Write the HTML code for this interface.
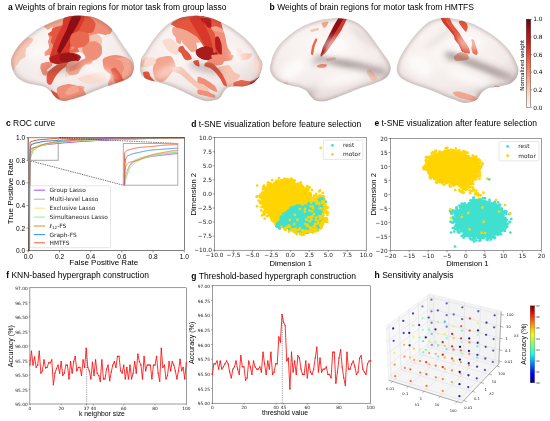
<!DOCTYPE html>
<html lang="en"><head><meta charset="utf-8"><title>Figure</title>
<style>
html,body{margin:0;padding:0;background:#fff;}
svg{display:block;}
.ls{font-family:"Liberation Sans", Arial, sans-serif;}
.dv{font-family:"DejaVu Sans", "Liberation Sans", sans-serif;}
</style></head><body>
<svg width="550" height="421" viewBox="0 0 550 421">
<rect width="550" height="421" fill="#fff"/>
<text class="ls" x="7.9" y="10.2" font-size="8.5"><tspan font-weight="bold">a</tspan> Weights of brain regions for motor task from group lasso</text>
<text class="ls" x="269.6" y="10.2" font-size="8.5"><tspan font-weight="bold">b</tspan> Weights of brain regions for motor task from HMTFS</text>
<defs>
<filter id="bl1" x="-20%" y="-20%" width="140%" height="140%"><feGaussianBlur stdDeviation="0.55"/></filter>
<filter id="bl2" x="-30%" y="-30%" width="160%" height="160%"><feGaussianBlur stdDeviation="3"/></filter>
<filter id="bl3" x="-30%" y="-30%" width="160%" height="160%"><feGaussianBlur stdDeviation="1.6"/></filter>
<radialGradient id="bg1" cx="0.45" cy="0.35" r="0.75"><stop offset="0" stop-color="#fdf9f7"/><stop offset="0.6" stop-color="#f4ecea"/><stop offset="1" stop-color="#d9cfcd"/></radialGradient>
<linearGradient id="cbar" x1="0" y1="0" x2="0" y2="1"><stop offset="0" stop-color="#67000d"/><stop offset="0.125" stop-color="#a50f15"/><stop offset="0.25" stop-color="#cb181d"/><stop offset="0.375" stop-color="#ef3b2c"/><stop offset="0.5" stop-color="#fb6a4a"/><stop offset="0.625" stop-color="#fc9272"/><stop offset="0.75" stop-color="#fcbba1"/><stop offset="0.875" stop-color="#fee0d2"/><stop offset="1" stop-color="#fff5f0"/></linearGradient>
</defs>
<clipPath id="bc1"><path d="M11.2,59.5C11.7,56.7 13.0,54.2 14.8,51.2C16.6,48.2 19.1,44.7 21.9,41.7C24.7,38.7 28.0,36.0 31.4,33.4C34.8,30.8 38.3,28.4 42.1,26.3C45.9,24.2 50.0,22.4 54.0,20.9C58.0,19.4 62.4,18.2 65.9,17.3C69.4,16.4 72.2,15.8 75.0,15.6C77.8,15.3 79.8,15.6 82.8,15.8C85.8,16.1 89.9,16.2 93.1,17.1C96.3,18.0 99.2,19.3 102.0,20.9C104.8,22.5 107.3,24.4 109.7,26.7C112.1,28.9 114.1,31.4 116.2,34.4C118.3,37.4 120.5,41.4 122.6,44.6C124.7,47.8 127.3,51.0 129.0,53.6C130.7,56.2 132.1,57.9 133.0,60.0C133.9,62.1 134.3,64.5 134.3,66.5C134.3,68.5 133.7,70.3 133.0,72.0C132.3,73.7 131.8,75.4 130.3,76.8C128.8,78.2 126.4,79.4 123.8,80.6C121.2,81.8 118.5,82.5 114.9,83.8C111.3,85.1 106.3,86.7 102.0,88.3C97.7,89.9 93.5,91.9 89.2,93.5C84.9,95.1 80.4,96.8 76.4,98.0C72.4,99.2 68.0,100.6 65.1,100.9C62.1,101.2 60.5,100.7 58.7,99.9C56.9,99.1 55.6,97.5 54.1,96.0C52.6,94.5 51.3,92.4 49.7,90.9C48.1,89.4 47.0,88.0 44.6,87.0C42.2,86.0 38.8,85.8 35.6,85.1C32.4,84.4 28.6,84.0 25.4,82.6C22.2,81.2 18.6,79.3 16.4,76.8C14.1,74.3 12.8,70.7 11.9,67.8C11.0,64.9 10.7,62.3 11.2,59.5Z"/></clipPath>
<clipPath id="bc2"><path d="M140.6,62.7C140.8,60.6 140.6,59.5 141.2,58.0C141.8,56.5 142.8,56.1 144.4,53.6C146.0,51.1 148.5,46.7 150.8,43.3C153.2,39.9 155.9,36.1 158.5,33.1C161.1,30.1 163.4,27.6 166.2,25.4C169.0,23.1 172.0,21.1 175.2,19.6C178.4,18.1 181.8,17.1 185.4,16.4C189.0,15.7 193.2,15.3 197.0,15.4C200.8,15.5 204.7,16.3 208.3,17.2C211.9,18.1 215.1,19.4 218.5,20.9C221.9,22.4 225.4,24.0 228.8,26.0C232.2,28.0 235.8,30.6 239.0,33.1C242.2,35.6 245.4,38.2 248.0,40.8C250.6,43.4 252.5,45.7 254.4,48.5C256.3,51.3 258.2,55.0 259.5,57.4C260.8,59.8 262.1,60.5 262.4,62.7C262.7,64.9 262.2,67.9 261.5,70.4C260.8,73.0 259.9,75.8 258.3,78.0C256.7,80.2 254.4,82.4 251.8,83.8C249.2,85.2 245.9,86.0 242.9,86.4C239.9,86.8 236.5,86.2 233.9,86.4C231.3,86.6 229.2,86.7 227.5,87.7C225.8,88.7 224.9,90.5 223.6,92.2C222.3,93.9 221.5,96.5 219.8,97.9C218.1,99.3 216.0,100.0 213.4,100.5C210.8,101.0 208.0,101.7 204.4,100.9C200.8,100.2 195.6,97.7 191.8,96.0C188.0,94.3 185.0,92.5 181.6,90.9C178.2,89.3 174.7,87.7 171.3,86.4C167.9,85.1 164.5,84.2 161.1,83.2C157.7,82.2 153.8,81.7 150.8,80.6C147.8,79.5 144.9,78.5 143.1,76.8C141.3,75.1 140.3,72.8 139.9,70.4C139.5,68.1 140.4,64.8 140.6,62.7Z"/></clipPath>
<clipPath id="bc3"><path d="M271.2,61.4C271.9,58.8 272.4,56.4 273.8,53.6C275.2,50.8 277.3,47.4 279.5,44.6C281.7,41.8 284.2,39.5 287.2,36.9C290.2,34.3 293.9,31.4 297.5,29.2C301.1,27.0 304.9,25.1 309.0,23.5C313.1,21.9 317.8,20.5 321.8,19.6C325.8,18.7 330.2,18.5 333.0,18.2C335.8,17.9 335.7,17.7 338.3,17.9C340.9,18.1 345.3,18.4 348.5,19.2C351.7,20.0 354.7,21.1 357.5,22.8C360.3,24.5 362.8,26.9 365.2,29.2C367.6,31.5 369.5,34.1 371.6,36.9C373.7,39.7 375.9,42.9 378.0,45.9C380.1,48.9 382.5,52.1 384.4,54.9C386.3,57.7 388.4,60.3 389.5,62.7C390.6,65.1 391.0,67.0 390.8,69.1C390.6,71.2 389.8,73.6 388.3,75.5C386.8,77.4 384.6,79.1 381.8,80.6C379.0,82.1 375.2,83.2 371.6,84.5C368.0,85.8 364.1,86.8 360.0,88.3C355.9,89.8 351.2,91.9 347.2,93.5C343.1,95.1 339.5,96.7 335.7,98.0C331.9,99.3 327.8,101.0 324.4,101.4C321.0,101.8 317.8,101.4 315.4,100.5C313.0,99.6 311.8,97.6 310.3,96.0C308.8,94.4 308.2,92.3 306.5,90.9C304.8,89.5 302.6,88.6 300.0,87.7C297.4,86.8 294.3,86.7 291.1,85.8C287.9,84.9 283.8,84.1 280.8,82.6C277.8,81.1 274.9,79.0 273.1,76.8C271.3,74.5 270.2,71.7 269.9,69.1C269.6,66.5 270.5,64.0 271.2,61.4Z"/></clipPath>
<clipPath id="bc4"><path d="M397.9,62.7C398.4,60.8 398.6,59.8 399.8,57.4C401.0,55.0 403.1,51.5 405.0,48.5C406.9,45.5 409.3,42.3 411.4,39.5C413.5,36.7 415.7,34.1 417.8,31.8C419.9,29.4 421.9,27.3 424.2,25.4C426.5,23.5 429.1,21.6 431.9,20.3C434.7,19.1 437.7,18.3 440.9,17.9C444.1,17.5 446.9,17.3 451.1,17.9C455.3,18.5 462.1,20.2 466.3,21.5C470.5,22.8 473.1,23.8 476.5,25.4C479.9,27.0 483.4,29.1 486.8,31.2C490.2,33.3 493.8,35.7 497.0,38.2C500.2,40.8 503.4,43.7 506.0,46.5C508.6,49.3 510.6,52.0 512.4,54.9C514.2,57.8 515.9,61.4 516.9,64.0C517.9,66.6 518.7,68.1 518.6,70.4C518.5,72.8 517.5,76.0 516.3,78.1C515.0,80.2 513.2,81.9 511.1,83.2C509.0,84.5 506.2,85.2 503.4,85.8C500.6,86.4 497.3,86.5 494.5,87.0C491.7,87.5 488.9,88.0 486.8,89.0C484.7,90.0 483.1,91.2 481.6,92.8C480.1,94.4 479.5,97.0 477.8,98.6C476.1,100.2 474.0,101.5 471.4,102.2C468.8,102.9 465.1,103.1 462.4,102.7C459.7,102.3 457.7,100.9 455.0,99.9C452.3,98.9 449.2,98.0 446.0,96.7C442.8,95.4 439.1,93.6 435.7,92.2C432.3,90.8 428.9,89.5 425.5,88.3C422.1,87.1 418.6,86.4 415.2,85.1C411.8,83.8 407.8,82.2 405.0,80.6C402.2,79.0 400.0,77.4 398.6,75.5C397.2,73.6 396.7,71.2 396.6,69.1C396.5,67.0 397.4,64.7 397.9,62.7Z"/></clipPath>
<g clip-path="url(#bc1)">
<path d="M11.2,59.5C11.7,56.7 13.0,54.2 14.8,51.2C16.6,48.2 19.1,44.7 21.9,41.7C24.7,38.7 28.0,36.0 31.4,33.4C34.8,30.8 38.3,28.4 42.1,26.3C45.9,24.2 50.0,22.4 54.0,20.9C58.0,19.4 62.4,18.2 65.9,17.3C69.4,16.4 72.2,15.8 75.0,15.6C77.8,15.3 79.8,15.6 82.8,15.8C85.8,16.1 89.9,16.2 93.1,17.1C96.3,18.0 99.2,19.3 102.0,20.9C104.8,22.5 107.3,24.4 109.7,26.7C112.1,28.9 114.1,31.4 116.2,34.4C118.3,37.4 120.5,41.4 122.6,44.6C124.7,47.8 127.3,51.0 129.0,53.6C130.7,56.2 132.1,57.9 133.0,60.0C133.9,62.1 134.3,64.5 134.3,66.5C134.3,68.5 133.7,70.3 133.0,72.0C132.3,73.7 131.8,75.4 130.3,76.8C128.8,78.2 126.4,79.4 123.8,80.6C121.2,81.8 118.5,82.5 114.9,83.8C111.3,85.1 106.3,86.7 102.0,88.3C97.7,89.9 93.5,91.9 89.2,93.5C84.9,95.1 80.4,96.8 76.4,98.0C72.4,99.2 68.0,100.6 65.1,100.9C62.1,101.2 60.5,100.7 58.7,99.9C56.9,99.1 55.6,97.5 54.1,96.0C52.6,94.5 51.3,92.4 49.7,90.9C48.1,89.4 47.0,88.0 44.6,87.0C42.2,86.0 38.8,85.8 35.6,85.1C32.4,84.4 28.6,84.0 25.4,82.6C22.2,81.2 18.6,79.3 16.4,76.8C14.1,74.3 12.8,70.7 11.9,67.8C11.0,64.9 10.7,62.3 11.2,59.5Z" fill="url(#bg1)"/>
<g filter="url(#bl1)"><path d="M11.8,59.5C11.6,58.6 14.2,53.2 15.3,51.2C16.5,49.2 20.4,43.9 21.9,42.3C23.3,40.7 26.5,38.0 27.8,37.5C29.1,37.1 32.8,38.1 33.2,38.7C33.6,39.4 32.2,42.0 31.4,42.9C30.6,43.8 27.3,45.4 26.6,46.5C25.9,47.6 26.1,51.3 25.4,52.4C24.8,53.5 21.7,55.1 20.7,56.0C19.7,56.8 18.2,59.1 17.1,59.5C16.1,60.0 12.0,60.5 11.8,59.5Z" fill="#f6c4b2"/><path d="M43.9,26.3C44.8,25.5 51.7,22.4 54.0,21.5C56.3,20.6 62.1,18.6 63.5,18.5C64.9,18.5 66.0,20.2 65.9,20.9C65.7,21.7 63.3,24.4 62.3,25.1C61.3,25.8 58.8,26.6 57.5,26.9C56.3,27.1 52.7,27.1 51.6,27.4C50.5,27.8 48.7,29.8 48.0,29.8C47.3,29.9 46.1,28.5 45.7,28.0C45.2,27.6 42.9,27.0 43.9,26.3Z" fill="#f2a690"/><path d="M48.0,34.0C48.3,33.8 51.3,36.1 51.6,37.0C51.9,37.9 50.1,40.6 50.4,41.7C50.7,42.8 53.4,45.2 54.0,46.5C54.5,47.7 55.3,51.2 55.2,52.4C55.0,53.7 53.5,56.9 52.8,57.2C52.1,57.4 50.0,54.9 49.2,54.8C48.4,54.6 46.2,56.2 45.7,56.0C45.1,55.7 44.0,53.4 44.5,52.4C44.9,51.4 48.8,48.9 49.2,47.7C49.6,46.4 48.0,42.8 48.0,41.7C48.0,40.6 49.2,39.0 49.2,38.1C49.2,37.2 47.8,34.1 48.0,34.0Z" fill="#ef8f78"/><path d="M52.8,28.0C54.0,27.3 60.6,26.0 62.3,25.1C64.0,24.2 65.9,21.2 67.0,20.3C68.2,19.5 71.1,17.4 71.8,17.9C72.5,18.5 73.3,23.3 73.0,25.1C72.7,26.9 70.2,31.6 69.4,33.4C68.6,35.2 66.5,38.9 65.9,40.5C65.2,42.2 64.0,46.1 63.5,47.7C62.9,49.2 62.1,53.0 61.1,53.6C60.1,54.1 56.0,53.2 55.2,52.4C54.3,51.6 54.5,47.7 54.0,46.5C53.4,45.2 50.7,42.8 50.4,41.7C50.1,40.6 51.9,37.9 51.6,37.0C51.3,36.1 48.0,34.7 48.0,34.0C48.0,33.3 51.0,31.7 51.6,31.0C52.1,30.3 51.5,28.7 52.8,28.0Z" fill="#e4573e"/><path d="M67.0,19.1C68.0,17.8 73.8,16.2 76.5,15.8C79.3,15.4 89.7,14.2 90.8,15.3C91.9,16.4 87.3,22.7 86.1,25.1C84.8,27.5 81.5,33.3 80.1,35.8C78.7,38.3 75.7,44.1 74.2,46.5C72.6,48.8 68.7,54.4 67.0,56.0C65.4,57.5 61.0,59.8 59.9,59.5C58.8,59.3 57.4,55.3 57.5,53.6C57.7,51.9 60.3,47.4 61.1,45.3C61.9,43.2 63.8,37.8 64.7,35.8C65.5,33.7 68.0,29.4 68.2,27.4C68.5,25.5 66.1,20.5 67.0,19.1Z" fill="#d8382a"/><path d="M78.3,15.8C79.8,14.8 86.3,14.4 86.6,15.6C87.0,16.7 82.5,23.4 81.3,25.7C80.1,27.9 77.7,32.7 76.5,34.6C75.4,36.5 72.9,40.0 71.8,41.7C70.7,43.4 68.2,47.2 67.0,48.8C65.9,50.4 63.0,55.0 62.3,55.4C61.6,55.8 60.7,53.9 61.1,52.4C61.5,50.9 64.8,45.1 65.9,42.9C66.9,40.7 69.0,35.6 70.0,33.4C71.0,31.2 73.2,25.9 74.2,23.9C75.1,21.8 76.9,16.8 78.3,15.8Z" fill="#8e0e12"/><path d="M87.9,16.4C89.4,15.5 94.0,17.2 95.6,17.7C97.3,18.2 100.6,19.9 102.1,20.9C103.5,21.9 107.9,24.9 108.5,26.0C109.1,27.1 108.1,30.1 107.2,30.5C106.3,30.9 102.3,29.4 100.8,29.2C99.3,29.1 95.7,28.9 94.4,29.2C93.0,29.6 90.6,31.7 89.2,32.4C87.9,33.2 84.2,34.8 82.8,35.6C81.5,36.5 78.7,38.6 77.7,39.5C76.6,40.4 74.7,42.4 73.8,43.3C72.9,44.2 69.7,48.1 70.0,47.2C70.3,46.3 74.9,38.2 76.4,35.6C77.9,33.1 81.5,27.6 82.8,25.4C84.2,23.1 86.5,17.3 87.9,16.4Z" fill="#ef8f78"/><path d="M87.9,16.4C89.4,15.5 94.1,17.1 95.6,17.7C97.1,18.3 100.2,20.3 100.8,21.5C101.3,22.7 100.9,27.1 100.1,27.9C99.4,28.8 95.6,28.7 94.4,29.2C93.1,29.8 90.6,31.7 89.2,32.4C87.9,33.2 84.2,34.8 82.8,35.6C81.5,36.5 78.7,38.6 77.7,39.5C76.6,40.4 74.7,42.4 73.8,43.3C72.9,44.2 69.7,48.1 70.0,47.2C70.3,46.3 74.9,38.2 76.4,35.6C77.9,33.1 81.5,27.6 82.8,25.4C84.2,23.1 86.5,17.3 87.9,16.4Z" fill="#e4573e"/><path d="M82.8,39.5C83.6,38.0 87.5,35.9 89.2,35.6C91.0,35.4 96.2,36.4 97.6,37.6C98.9,38.8 100.7,44.2 100.8,45.9C100.8,47.6 99.0,50.8 98.2,52.3C97.5,53.8 95.3,57.4 94.4,58.7C93.5,60.1 91.7,63.4 90.5,64.0C89.3,64.6 84.7,65.0 84.1,64.0C83.5,62.9 85.5,56.7 85.4,54.9C85.2,53.1 83.1,50.3 82.8,48.5C82.5,46.7 82.1,41.0 82.8,39.5Z" fill="#f2a690"/><path d="M70.0,47.2C70.9,45.7 76.2,40.4 77.7,39.5C79.2,38.6 82.2,38.4 82.8,39.5C83.4,40.5 83.4,47.0 82.8,48.5C82.2,50.0 79.2,51.9 77.7,52.3C76.2,52.8 70.9,52.9 70.0,52.3C69.1,51.7 69.1,48.7 70.0,47.2Z" fill="#e9694f"/><path d="M105.9,60.0C106.8,58.8 111.8,55.0 113.6,54.9C115.4,54.7 120.1,57.5 121.3,58.7C122.5,59.9 125.6,64.4 123.8,65.1C122.1,65.9 108.0,65.7 105.9,65.1C103.8,64.5 105.0,61.2 105.9,60.0Z" fill="#f6c4b2"/><path d="M10.6,49.9C11.4,47.9 17.0,49.7 17.7,51.2C18.4,52.6 16.9,60.4 16.4,62.7C16.0,64.9 14.4,69.8 13.8,70.4C13.2,71.0 11.7,70.2 11.3,67.8C10.9,65.4 9.9,51.8 10.6,49.9Z" fill="#f6c4b2"/><path d="M40.8,67.2C41.5,66.1 47.1,63.0 48.5,62.7C49.8,62.4 52.6,63.7 52.3,64.6C52.0,65.5 47.1,69.6 45.9,70.4C44.7,71.2 42.6,72.0 42.1,71.7C41.5,71.3 40.0,68.2 40.8,67.2Z" fill="#ef8f78"/><path d="M47.2,78.1C47.7,76.7 51.0,73.2 52.3,71.7C53.7,70.2 57.1,66.3 58.7,65.3C60.4,64.2 65.1,62.8 66.4,62.7C67.8,62.5 70.7,63.2 70.3,64.0C69.8,64.7 64.2,67.8 62.6,69.1C60.9,70.4 57.5,73.7 56.2,75.5C54.8,77.3 52.0,83.5 51.0,84.5C50.1,85.5 48.3,84.6 47.8,83.8C47.4,83.1 46.7,79.5 47.2,78.1Z" fill="#e4573e"/><path d="M51.0,89.6C50.9,88.9 53.7,91.7 54.9,92.2C56.1,92.6 59.5,93.8 61.3,93.5C63.1,93.2 68.3,90.5 70.3,89.6C72.2,88.7 76.3,86.1 77.9,85.8C79.6,85.5 83.9,86.3 84.4,87.1C84.8,87.8 83.0,91.1 81.8,92.2C80.6,93.2 75.9,95.3 74.1,96.0C72.3,96.8 67.9,98.1 66.4,98.6C64.9,99.0 62.5,99.9 61.3,99.9C60.1,99.8 57.4,99.1 56.2,97.9C55.0,96.8 51.2,90.3 51.0,89.6Z" fill="#f2a690"/><path d="M51.0,90.3C51.2,89.9 53.8,91.7 54.9,92.2C55.9,92.7 59.3,93.9 60.0,94.7C60.7,95.6 61.6,98.8 61.3,99.2C61.0,99.7 58.3,99.0 57.4,98.6C56.5,98.1 54.3,96.4 53.6,95.4C52.8,94.4 50.9,90.6 51.0,90.3Z" fill="#e4573e"/><path d="M66.4,70.4C68.1,68.9 76.8,64.9 79.2,64.0C81.6,63.1 86.6,62.1 86.9,62.7C87.2,63.3 83.7,67.6 81.8,69.1C79.9,70.6 72.2,74.6 70.3,75.5C68.3,76.4 65.6,77.4 65.1,76.8C64.7,76.2 64.8,71.9 66.4,70.4Z" fill="#f9dbcf"/><path d="M84.0,16.5C86.3,15.6 98.5,19.0 101.8,20.4C105.0,21.7 111.1,26.4 112.0,28.0C112.8,29.6 110.9,34.1 109.4,34.4C107.9,34.6 101.6,30.7 99.2,30.5C96.9,30.4 91.1,33.4 89.1,33.1C87.0,32.8 82.0,29.9 81.4,28.0C80.8,26.1 81.6,17.4 84.0,16.5Z" fill="#ef8f78"/><path d="M76.3,35.6C77.8,33.4 88.6,31.5 91.6,31.8C94.6,32.1 100.9,35.9 101.8,38.2C102.7,40.4 100.7,49.0 99.2,50.9C97.8,52.8 91.4,54.7 89.1,54.7C86.7,54.7 80.4,53.1 78.9,50.9C77.4,48.7 74.9,37.8 76.3,35.6Z" fill="#f6c4b2"/><path d="M57.3,87.8C58.4,86.3 65.9,84.0 68.7,84.0C71.5,84.0 79.3,86.3 81.4,87.8C83.5,89.3 87.1,95.1 86.5,96.7C85.9,98.3 78.9,101.2 76.3,101.8C73.8,102.4 67.0,102.4 64.9,101.8C62.8,101.2 59.4,98.3 58.5,96.7C57.6,95.1 56.1,89.3 57.3,87.8Z" fill="#ef8f78"/><path d="M76.3,16.9C77.7,15.5 84.8,15.8 87.8,16.1C90.8,16.4 99.4,18.2 101.8,19.5C104.2,20.7 107.5,25.3 108.1,27.1C108.7,28.9 108.1,34.0 106.9,34.7C105.7,35.5 100.0,33.3 98.0,33.4C95.9,33.6 90.8,35.2 89.1,36.0C87.3,36.7 84.2,38.6 82.7,39.8C81.2,41.0 77.7,45.0 76.3,46.2C75.0,47.4 71.5,50.9 71.2,50.0C70.9,49.1 73.2,41.1 73.8,38.5C74.4,36.0 76.0,30.9 76.3,28.4C76.6,25.8 75.0,18.3 76.3,16.9Z" fill="#ef8f78"/><path d="M76.3,16.9C77.7,15.8 85.6,15.4 87.8,16.1C90.0,16.9 94.8,21.4 95.4,23.3C96.0,25.1 94.1,31.0 92.9,32.2C91.7,33.4 86.9,32.6 85.2,33.4C83.6,34.3 80.4,38.3 78.9,39.8C77.4,41.3 73.6,45.7 72.5,46.2C71.5,46.6 69.8,45.1 70.0,43.6C70.1,42.1 73.0,35.5 73.8,33.4C74.5,31.4 76.0,27.7 76.3,25.8C76.6,23.9 75.0,18.0 76.3,16.9Z" fill="#e4573e"/><path d="M64.9,16.9C67.4,15.8 82.0,15.1 84.0,16.1C85.9,17.2 82.5,23.5 81.4,25.8C80.4,28.1 76.5,33.6 75.1,36.0C73.6,38.4 70.0,43.9 68.7,46.2C67.4,48.4 65.2,53.4 63.6,55.1C62.0,56.7 56.3,59.7 54.7,60.2C53.1,60.6 49.9,60.2 49.6,58.9C49.3,57.6 51.3,51.4 52.2,48.7C53.1,46.0 56.1,38.7 57.3,36.0C58.4,33.3 61.5,28.0 62.3,25.8C63.2,23.6 62.4,18.0 64.9,16.9Z" fill="#d8382a"/><path d="M71.8,16.9C73.4,15.4 80.4,15.2 80.9,16.4C81.5,17.6 77.6,24.6 76.3,27.1C75.1,29.5 71.3,35.0 70.0,37.3C68.6,39.5 66.1,44.2 64.9,46.2C63.7,48.1 60.7,53.2 59.8,53.8C58.9,54.4 57.1,52.7 57.3,51.3C57.4,49.8 60.0,43.6 61.1,41.1C62.2,38.6 65.4,32.4 66.7,29.6C67.9,26.8 70.1,18.4 71.8,16.9Z" fill="#8e0e12"/><path d="M49.6,57.6C50.5,56.6 56.3,54.4 58.5,53.8C60.8,53.2 66.6,52.3 68.7,52.3C70.8,52.3 74.9,53.3 76.3,53.8C77.8,54.3 80.8,55.9 80.9,56.9C81.1,57.8 78.9,61.1 77.6,61.9C76.3,62.8 72.1,63.7 70.0,64.0C67.9,64.3 62.0,64.9 59.8,64.7C57.6,64.6 52.1,63.3 50.9,62.5C49.7,61.6 48.7,58.6 49.6,57.6Z" fill="#b71f1f"/><path d="M59.8,55.1C60.7,54.1 66.8,53.3 68.7,53.3C70.6,53.3 75.3,54.3 76.3,55.1C77.4,55.9 78.5,59.3 77.6,60.2C76.7,61.1 70.6,62.6 68.7,62.7C66.8,62.9 62.1,62.3 61.1,61.4C60.0,60.5 58.9,56.0 59.8,55.1Z" fill="#9a1216"/><path d="M103.1,58.9C104.2,57.3 111.8,55.2 114.5,55.1C117.2,54.9 123.8,56.4 126.0,57.6C128.1,58.8 131.9,63.2 132.8,65.3C133.7,67.3 134.1,73.4 133.6,75.4C133.1,77.5 130.1,81.7 128.5,83.1C126.9,84.4 121.4,86.0 119.6,86.9C117.8,87.8 114.6,91.0 113.2,90.7C111.9,90.4 108.4,86.1 108.1,84.3C107.8,82.6 111.1,77.2 110.7,75.4C110.2,73.6 105.2,71.0 104.3,69.1C103.4,67.1 101.9,60.5 103.1,58.9Z" fill="#ef8f78"/><path d="M112.0,65.3C112.7,63.6 118.1,63.2 119.6,64.0C121.1,64.7 124.2,69.5 124.7,71.6C125.1,73.7 124.3,80.3 123.4,81.8C122.5,83.3 118.2,84.8 117.0,84.3C115.9,83.9 113.8,80.2 113.2,78.0C112.6,75.7 111.2,66.9 112.0,65.3Z" fill="#e4573e"/><path d="M13.3,52.9C14.0,50.8 17.1,47.3 18.6,45.8C20.0,44.4 24.2,41.4 25.6,40.6C27.0,39.7 30.5,38.2 30.9,38.8C31.3,39.4 29.8,44.6 29.1,45.8C28.4,47.1 25.1,48.1 24.7,49.3C24.3,50.6 26.1,55.1 25.6,56.4C25.1,57.6 21.3,58.9 20.3,59.9C19.3,60.9 17.7,64.8 16.8,65.2C15.9,65.6 12.8,64.9 12.4,63.4C12.0,62.0 12.6,54.9 13.3,52.9Z" fill="#f6c4b2"/><path d="M41.4,63.4C42.5,62.7 49.0,61.5 50.2,61.7C51.4,61.9 52.5,64.1 52.0,65.2C51.5,66.2 46.9,69.6 45.8,70.5C44.7,71.3 42.9,72.5 42.3,72.2C41.7,71.9 40.6,68.8 40.5,67.8C40.4,66.8 40.3,64.1 41.4,63.4Z" fill="#ef8f78"/><path d="M47.6,72.2C48.7,70.8 54.2,66.3 56.4,65.2C58.5,64.0 64.5,62.6 66.0,62.5C67.6,62.4 70.2,63.6 69.6,64.3C68.9,65.0 62.5,67.4 60.8,68.7C59.0,70.0 55.8,74.1 54.6,75.7C53.4,77.4 51.1,81.9 50.2,82.8C49.3,83.6 47.5,83.4 47.0,82.8C46.6,82.1 46.6,78.7 46.7,77.5C46.8,76.3 46.4,73.6 47.6,72.2Z" fill="#e4573e"/><path d="M41.4,67.8C42.0,67.5 47.1,70.4 47.6,71.3C48.1,72.3 46.4,75.4 45.8,75.7C45.2,76.0 42.8,74.9 42.3,74.0C41.8,73.0 40.8,68.1 41.4,67.8Z" fill="#ef8f78"/><path d="M83.6,43.4C85.0,42.3 92.7,40.9 94.7,41.2C96.8,41.5 100.7,44.1 101.4,45.7C102.2,47.2 102.2,52.9 101.4,54.6C100.7,56.3 96.4,59.8 94.7,60.2C93.1,60.5 88.4,59.0 86.9,57.9C85.5,56.9 82.9,52.9 82.5,51.2C82.1,49.5 82.2,44.6 83.6,43.4Z" fill="#ef8f78"/><path d="M71.3,34.5C72.4,33.1 77.2,31.3 79.1,31.2C81.1,31.0 86.9,32.2 88.1,33.4C89.2,34.6 89.7,39.6 89.2,41.2C88.7,42.8 85.2,46.0 83.6,46.8C82.0,47.6 77.4,48.3 75.8,47.9C74.2,47.5 70.7,45.0 70.2,43.4C69.7,41.9 70.3,36.0 71.3,34.5Z" fill="#e9694f"/><path d="M68.0,62.4C69.3,61.3 75.3,60.4 76.9,60.8C78.5,61.2 81.7,64.2 81.8,65.7C82.0,67.2 79.4,72.4 78.0,73.5C76.7,74.6 71.7,75.5 70.2,75.1C68.8,74.7 66.0,71.7 65.8,70.2C65.5,68.7 66.7,63.5 68.0,62.4Z" fill="#f2a690"/><path d="M114.9,58.8C115.3,58.4 123.2,57.3 125.1,57.6C127.1,57.9 130.5,60.2 131.5,61.4C132.5,62.6 133.9,66.3 133.7,67.8C133.6,69.3 131.4,72.9 130.3,74.2C129.1,75.6 124.9,79.4 123.8,79.4C122.8,79.4 121.3,75.6 121.3,74.2C121.3,72.9 123.8,69.3 123.8,67.8C123.8,66.3 122.3,62.5 121.3,61.4C120.2,60.4 114.4,59.3 114.9,58.8Z" fill="#f2a690"/><path d="M104.6,64.0C104.8,63.1 107.3,60.7 108.5,60.1C109.7,59.5 113.4,58.7 114.9,58.8C116.4,59.0 120.2,60.4 121.3,61.4C122.3,62.5 123.8,66.3 123.8,67.8C123.8,69.3 121.9,72.9 121.3,74.2C120.7,75.6 119.6,79.1 118.7,79.4C117.8,79.7 114.5,77.8 113.6,76.8C112.7,75.7 111.8,71.4 111.0,70.4C110.3,69.3 107.9,68.6 107.2,67.8C106.4,67.1 104.5,64.9 104.6,64.0Z" fill="#ef8f78"/><path d="M111.0,69.1C111.3,68.4 114.0,67.5 114.9,67.8C115.8,68.1 118.0,70.7 118.7,71.7C119.5,72.6 121.3,75.3 121.3,76.2C121.3,77.1 119.5,79.2 118.7,79.4C118.0,79.5 115.6,78.0 114.9,77.4C114.1,76.8 112.8,75.2 112.3,74.2C111.9,73.3 110.7,69.9 111.0,69.1Z" fill="#e4573e"/><path d="M81.5,60.1C83.8,59.1 93.5,55.6 95.6,55.0C97.7,54.4 100.1,54.3 99.5,55.0C98.9,55.7 92.3,60.2 90.5,61.4C88.7,62.6 85.6,64.4 84.1,65.3C82.6,66.2 79.3,68.4 77.7,69.1C76.0,69.9 70.9,71.8 70.0,71.7C69.1,71.5 69.3,68.7 70.0,67.8C70.7,66.9 75.1,64.9 76.4,64.0C77.8,63.1 79.3,61.2 81.5,60.1Z" fill="#ef8f78"/><path d="M70.0,87.1C71.3,86.2 75.4,85.3 76.4,85.8C77.5,86.2 79.7,89.9 79.0,90.9C78.2,91.9 71.6,94.4 70.0,94.7C68.4,95.0 64.9,94.4 64.9,93.5C64.9,92.6 68.7,87.9 70.0,87.1Z" fill="#f2a690"/><path d="M77.7,78.1C79.2,76.6 98.8,71.4 102.1,71.7C105.3,72.0 107.4,79.1 105.9,80.6C104.4,82.1 92.5,84.8 89.2,84.5C85.9,84.2 76.2,79.6 77.7,78.1Z" fill="#f9dbcf"/></g>
<g filter="url(#bl2)"><ellipse cx="62.0" cy="68.0" rx="20" ry="3.5" fill="#5a3a38" opacity="0.35" transform="rotate(-14 62.0 68.0)"/><ellipse cx="100.0" cy="72.0" rx="18" ry="4.5" fill="#fff" opacity="0.55" transform="rotate(22 100.0 72.0)"/><ellipse cx="36.0" cy="52.0" rx="10" ry="7" fill="#fff" opacity="0.45" transform="rotate(-40 36.0 52.0)"/></g>
<path d="M11.2,59.5C11.7,56.7 13.0,54.2 14.8,51.2C16.6,48.2 19.1,44.7 21.9,41.7C24.7,38.7 28.0,36.0 31.4,33.4C34.8,30.8 38.3,28.4 42.1,26.3C45.9,24.2 50.0,22.4 54.0,20.9C58.0,19.4 62.4,18.2 65.9,17.3C69.4,16.4 72.2,15.8 75.0,15.6C77.8,15.3 79.8,15.6 82.8,15.8C85.8,16.1 89.9,16.2 93.1,17.1C96.3,18.0 99.2,19.3 102.0,20.9C104.8,22.5 107.3,24.4 109.7,26.7C112.1,28.9 114.1,31.4 116.2,34.4C118.3,37.4 120.5,41.4 122.6,44.6C124.7,47.8 127.3,51.0 129.0,53.6C130.7,56.2 132.1,57.9 133.0,60.0C133.9,62.1 134.3,64.5 134.3,66.5C134.3,68.5 133.7,70.3 133.0,72.0C132.3,73.7 131.8,75.4 130.3,76.8C128.8,78.2 126.4,79.4 123.8,80.6C121.2,81.8 118.5,82.5 114.9,83.8C111.3,85.1 106.3,86.7 102.0,88.3C97.7,89.9 93.5,91.9 89.2,93.5C84.9,95.1 80.4,96.8 76.4,98.0C72.4,99.2 68.0,100.6 65.1,100.9C62.1,101.2 60.5,100.7 58.7,99.9C56.9,99.1 55.6,97.5 54.1,96.0C52.6,94.5 51.3,92.4 49.7,90.9C48.1,89.4 47.0,88.0 44.6,87.0C42.2,86.0 38.8,85.8 35.6,85.1C32.4,84.4 28.6,84.0 25.4,82.6C22.2,81.2 18.6,79.3 16.4,76.8C14.1,74.3 12.8,70.7 11.9,67.8C11.0,64.9 10.7,62.3 11.2,59.5Z" fill="none" stroke="#5a4040" stroke-opacity="0.22" stroke-width="4.5" filter="url(#bl3)"/>
</g>
<g clip-path="url(#bc2)">
<path d="M140.6,62.7C140.8,60.6 140.6,59.5 141.2,58.0C141.8,56.5 142.8,56.1 144.4,53.6C146.0,51.1 148.5,46.7 150.8,43.3C153.2,39.9 155.9,36.1 158.5,33.1C161.1,30.1 163.4,27.6 166.2,25.4C169.0,23.1 172.0,21.1 175.2,19.6C178.4,18.1 181.8,17.1 185.4,16.4C189.0,15.7 193.2,15.3 197.0,15.4C200.8,15.5 204.7,16.3 208.3,17.2C211.9,18.1 215.1,19.4 218.5,20.9C221.9,22.4 225.4,24.0 228.8,26.0C232.2,28.0 235.8,30.6 239.0,33.1C242.2,35.6 245.4,38.2 248.0,40.8C250.6,43.4 252.5,45.7 254.4,48.5C256.3,51.3 258.2,55.0 259.5,57.4C260.8,59.8 262.1,60.5 262.4,62.7C262.7,64.9 262.2,67.9 261.5,70.4C260.8,73.0 259.9,75.8 258.3,78.0C256.7,80.2 254.4,82.4 251.8,83.8C249.2,85.2 245.9,86.0 242.9,86.4C239.9,86.8 236.5,86.2 233.9,86.4C231.3,86.6 229.2,86.7 227.5,87.7C225.8,88.7 224.9,90.5 223.6,92.2C222.3,93.9 221.5,96.5 219.8,97.9C218.1,99.3 216.0,100.0 213.4,100.5C210.8,101.0 208.0,101.7 204.4,100.9C200.8,100.2 195.6,97.7 191.8,96.0C188.0,94.3 185.0,92.5 181.6,90.9C178.2,89.3 174.7,87.7 171.3,86.4C167.9,85.1 164.5,84.2 161.1,83.2C157.7,82.2 153.8,81.7 150.8,80.6C147.8,79.5 144.9,78.5 143.1,76.8C141.3,75.1 140.3,72.8 139.9,70.4C139.5,68.1 140.4,64.8 140.6,62.7Z" fill="url(#bg1)"/>
<g filter="url(#bl1)"><path d="M162.4,40.8C162.8,39.6 168.4,37.9 170.1,38.2C171.7,38.5 175.3,42.1 176.5,43.3C177.7,44.5 180.3,47.1 180.3,48.5C180.3,49.8 177.7,54.4 176.5,54.9C175.3,55.3 171.2,53.1 170.1,52.3C168.9,51.6 167.1,49.8 166.2,48.5C165.3,47.1 161.9,42.0 162.4,40.8Z" fill="#f9dbcf"/><path d="M172.6,29.2C173.4,28.4 179.6,28.4 181.6,28.6C183.5,28.7 187.6,29.8 189.3,30.5C190.9,31.2 195.1,33.3 195.7,34.4C196.3,35.4 195.5,39.0 194.4,39.5C193.4,39.9 188.2,38.1 186.7,38.2C185.2,38.4 182.3,40.0 181.6,40.8C180.8,41.5 180.9,44.5 180.3,44.6C179.7,44.8 177.1,43.1 176.5,42.1C175.9,41.0 175.6,37.1 175.2,35.6C174.7,34.1 171.9,30.1 172.6,29.2Z" fill="#f2a690"/><path d="M181.6,40.8C182.2,40.1 187.6,38.7 189.3,38.8C190.9,39.0 194.8,40.8 195.7,42.1C196.6,43.3 197.4,48.5 197.0,49.7C196.5,50.9 192.9,52.5 191.8,52.3C190.8,52.2 188.9,49.4 188.0,48.5C187.1,47.6 184.9,45.5 184.2,44.6C183.4,43.7 181.0,41.4 181.6,40.8Z" fill="#f2a690"/><path d="M172.6,22.2C173.7,21.4 178.4,18.4 180.3,17.7C182.3,17.0 187.2,16.4 189.3,16.2C191.4,15.9 195.9,15.4 198.3,15.4C200.6,15.4 207.9,15.9 209.8,16.2C211.7,16.4 214.0,16.5 214.9,17.7C215.8,18.9 216.7,24.6 217.5,26.7C218.2,28.8 220.7,33.4 221.3,35.6C221.9,37.9 222.8,43.7 222.6,45.9C222.5,48.1 220.9,54.0 220.1,54.9C219.2,55.8 216.0,54.6 214.9,53.6C213.9,52.5 211.9,47.2 211.1,45.9C210.3,44.6 209.3,43.2 208.0,42.1C206.7,40.9 201.1,36.8 199.5,35.6C198.0,34.4 195.6,32.5 194.4,31.8C193.2,31.0 190.8,29.7 189.3,29.2C187.8,28.8 183.1,28.2 181.6,27.9C180.1,27.6 177.7,27.0 176.5,26.7C175.3,26.3 171.8,25.3 171.3,24.7C170.9,24.2 171.6,23.0 172.6,22.2Z" fill="#e4573e"/><path d="M193.1,16.4C193.3,15.6 197.1,14.9 198.3,15.8C199.5,16.7 202.2,22.4 203.4,24.1C204.5,25.8 206.8,28.6 208.0,30.5C209.2,32.5 212.7,38.2 213.6,40.8C214.6,43.3 216.4,51.0 216.2,52.3C216.1,53.7 213.3,53.5 212.4,52.3C211.4,51.1 209.2,44.4 208.0,42.1C206.8,39.7 203.4,34.0 202.1,31.8C200.8,29.6 198.0,24.6 197.0,22.8C195.9,21.0 193.0,17.2 193.1,16.4Z" fill="#d8382a"/><path d="M202.1,16.2C202.6,15.6 208.4,15.5 209.8,16.4C211.1,17.3 212.7,22.2 213.6,24.1C214.5,26.0 217.3,31.9 217.5,33.1C217.6,34.3 215.8,35.1 214.9,34.4C214.0,33.6 210.9,28.2 209.8,26.7C208.7,25.1 206.2,22.1 205.3,20.9C204.4,19.7 201.6,16.7 202.1,16.2Z" fill="#d8382a"/><path d="M179.0,47.2C179.5,46.6 182.1,45.6 182.9,45.9C183.6,46.2 184.7,48.8 185.4,49.7C186.2,50.6 189.0,52.4 189.3,53.6C189.6,54.8 188.6,59.4 188.0,60.0C187.4,60.6 184.9,59.5 184.2,58.7C183.4,58.0 182.3,54.5 181.6,53.6C180.9,52.7 178.7,51.8 178.4,51.0C178.1,50.3 178.5,47.8 179.0,47.2Z" fill="#e4573e"/><path d="M197.0,53.6C197.4,52.8 200.8,50.3 202.1,49.7C203.4,49.1 206.7,48.3 208.0,48.5C209.3,48.6 212.2,50.5 213.6,51.0C215.0,51.5 219.0,52.2 220.1,52.9C221.1,53.7 222.9,56.6 222.6,57.4C222.3,58.3 219.2,59.7 217.5,60.0C215.8,60.3 209.8,60.4 208.0,60.3C206.2,60.1 203.2,59.1 202.1,58.7C201.0,58.3 198.9,57.4 198.3,56.8C197.7,56.2 196.5,54.4 197.0,53.6Z" fill="#b71f1f"/><path d="M162.4,60.0C163.1,59.3 167.7,58.1 168.8,58.7C169.8,59.3 172.1,64.4 171.3,65.1C170.6,65.9 163.4,65.7 162.4,65.1C161.3,64.5 161.6,60.7 162.4,60.0Z" fill="#ef8f78"/><path d="M140.6,61.3C141.3,60.2 145.9,57.4 147.0,57.4C148.0,57.4 149.5,60.2 149.5,61.3C149.5,62.3 148.0,65.8 147.0,66.4C145.9,67.0 141.3,67.0 140.6,66.4C139.8,65.8 139.8,62.3 140.6,61.3Z" fill="#f6c4b2"/><path d="M173.2,23.8C173.9,22.7 180.7,20.2 183.3,19.5C186.0,18.7 192.8,17.5 196.1,17.2C199.3,16.9 208.5,16.5 211.3,16.9C214.2,17.3 218.8,18.8 220.2,20.7C221.7,22.7 223.0,30.5 223.5,33.4C224.1,36.4 224.7,43.5 224.6,46.2C224.4,48.8 223.6,55.2 222.0,56.3C220.5,57.5 213.5,57.0 211.3,55.8C209.2,54.6 205.5,48.4 203.7,46.2C201.9,43.9 198.1,38.3 196.1,36.5C194.0,34.7 188.1,31.3 185.9,30.4C183.7,29.4 178.5,29.1 177.0,28.4C175.5,27.6 172.4,24.8 173.2,23.8Z" fill="#e4573e"/><path d="M189.7,18.7C190.2,17.0 199.4,16.3 201.7,17.4C204.0,18.5 207.8,25.6 209.3,28.4C210.8,31.1 213.6,38.2 214.4,41.1C215.2,44.0 216.6,51.7 215.9,53.3C215.3,54.8 210.2,55.4 208.8,54.3C207.4,53.2 205.0,46.2 203.7,43.6C202.4,41.0 199.0,35.1 197.3,32.2C195.7,29.3 189.2,20.4 189.7,18.7Z" fill="#d8382a"/><path d="M200.6,18.2C201.6,17.8 209.1,17.6 210.3,18.7C211.6,19.7 211.8,26.3 211.3,27.1C210.9,27.9 207.3,26.4 206.2,25.8C205.2,25.2 203.1,22.9 202.4,22.0C201.8,21.1 199.7,18.6 200.6,18.2Z" fill="#b71f1f"/><path d="M215.9,36.0C216.5,34.9 220.6,34.4 221.5,35.5C222.5,36.5 223.8,42.7 224.1,44.9C224.3,47.1 224.2,53.3 223.5,54.3C222.9,55.3 219.3,54.4 218.5,53.3C217.6,52.2 216.7,46.9 216.4,44.9C216.1,42.9 215.3,37.1 215.9,36.0Z" fill="#b71f1f"/><path d="M196.1,50.0C197.0,48.9 202.9,46.3 205.0,46.2C207.1,46.0 212.4,47.7 213.9,48.7C215.4,49.8 218.0,53.7 217.7,55.1C217.4,56.4 213.2,59.7 211.3,60.2C209.5,60.6 203.4,59.5 201.7,58.9C199.9,58.3 197.2,56.1 196.6,55.1C195.9,54.0 195.1,51.0 196.1,50.0Z" fill="#a81a1c"/><path d="M156.6,58.9C158.7,57.4 168.4,55.5 170.6,56.3C172.8,57.2 175.7,64.4 175.7,66.5C175.7,68.6 172.1,72.4 170.6,74.2C169.1,75.9 164.8,81.2 163.0,81.8C161.2,82.4 156.5,80.7 155.4,79.2C154.2,77.8 152.7,71.4 152.8,69.1C153.0,66.7 154.6,60.4 156.6,58.9Z" fill="#f2a690"/><path d="M173.2,27.1C174.7,26.6 183.2,29.3 185.9,30.4C188.6,31.5 194.4,35.1 196.1,36.5C197.7,37.9 200.6,41.7 199.9,42.4C199.1,43.0 191.9,42.6 189.7,42.4C187.5,42.1 182.7,40.7 180.8,39.8C178.9,38.9 174.1,36.2 173.2,34.7C172.3,33.2 171.7,27.6 173.2,27.1Z" fill="#f2a690"/><path d="M210.8,27.9C211.1,27.2 215.7,26.2 217.2,26.7C218.7,27.1 222.7,30.4 223.6,31.8C224.6,33.1 225.1,36.4 225.6,38.2C226.0,40.0 226.8,45.4 227.5,47.2C228.2,49.0 231.0,52.2 231.3,53.6C231.6,54.9 230.9,58.0 230.1,58.7C229.2,59.5 224.6,60.7 223.6,60.0C222.7,59.3 222.0,54.3 221.7,52.3C221.4,50.4 221.5,45.1 221.1,43.3C220.7,41.5 219.2,37.6 218.5,36.9C217.8,36.2 215.8,38.0 215.3,37.6C214.9,37.1 215.2,34.2 214.7,33.1C214.1,32.0 210.5,28.7 210.8,27.9Z" fill="#ef8f78"/><path d="M210.8,27.3C211.1,26.8 215.9,26.4 217.2,26.7C218.6,26.9 221.6,28.5 222.4,29.2C223.1,30.0 223.9,32.8 223.6,33.1C223.3,33.4 220.8,32.0 219.8,31.8C218.7,31.6 215.7,31.7 214.7,31.2C213.6,30.6 210.5,27.8 210.8,27.3Z" fill="#f2a690"/><path d="M203.1,19.6C203.7,19.8 209.5,25.9 210.8,27.9C212.2,30.0 214.1,34.8 214.7,36.9C215.2,39.0 215.2,44.1 215.3,45.9C215.5,47.7 216.2,51.6 215.9,52.3C215.7,53.1 213.8,53.2 213.4,52.3C212.9,51.4 212.6,46.6 212.1,44.6C211.7,42.7 210.3,37.7 209.5,35.6C208.8,33.5 206.4,28.5 205.7,26.7C204.9,24.8 202.5,19.5 203.1,19.6Z" fill="#e4573e"/><path d="M203.1,19.6C203.7,19.4 208.6,19.9 209.5,20.9C210.4,21.9 211.1,27.3 210.8,27.9C210.5,28.6 207.7,27.3 207.0,26.7C206.2,26.1 204.9,23.6 204.4,22.8C204.0,22.0 202.5,19.8 203.1,19.6Z" fill="#b71f1f"/><path d="M215.3,37.6C215.7,36.5 217.8,36.2 218.5,36.9C219.2,37.6 220.7,41.5 221.1,43.3C221.5,45.1 222.2,51.4 221.7,52.3C221.3,53.2 218.0,51.8 217.2,51.0C216.5,50.3 215.5,47.5 215.3,45.9C215.1,44.3 214.9,38.6 215.3,37.6Z" fill="#b71f1f"/><path d="M236.5,48.5C236.9,47.7 240.7,48.7 241.6,49.7C242.5,50.8 244.2,56.1 244.2,57.4C244.2,58.8 242.3,61.4 241.6,61.3C240.8,61.1 238.3,57.6 237.7,56.2C237.1,54.7 236.0,49.2 236.5,48.5Z" fill="#f9dbcf"/><path d="M210.8,58.7C212.9,58.1 222.4,59.3 223.6,60.0C224.8,60.7 223.2,64.5 221.1,65.1C219.0,65.7 206.9,65.9 205.7,65.1C204.5,64.4 208.7,59.3 210.8,58.7Z" fill="#ef8f78"/><path d="M145.7,58.8C146.7,57.9 152.2,57.1 153.4,57.6C154.6,58.0 156.4,61.6 155.9,62.7C155.5,63.7 150.9,66.2 149.5,66.5C148.2,66.8 144.9,66.2 144.4,65.3C144.0,64.4 144.6,59.7 145.7,58.8Z" fill="#f9dbcf"/><path d="M157.2,65.3C158.1,64.2 162.1,60.6 163.6,60.1C165.1,59.7 169.0,60.5 170.1,61.4C171.1,62.3 172.9,66.7 172.6,67.8C172.3,68.9 168.5,70.0 167.5,71.0C166.4,72.1 164.7,75.7 163.6,76.8C162.6,77.8 159.6,80.1 158.5,80.0C157.5,79.9 155.0,76.8 154.7,75.5C154.4,74.2 155.6,70.3 155.9,69.1C156.2,67.9 156.3,66.3 157.2,65.3Z" fill="#f2a690"/><path d="M143.1,72.3C143.5,71.5 147.4,71.1 148.3,71.7C149.2,72.2 150.1,75.7 150.8,76.8C151.6,77.9 154.7,80.8 154.7,81.3C154.7,81.8 151.9,81.6 150.8,81.3C149.7,81.0 145.9,79.8 145.1,78.7C144.2,77.7 142.8,73.1 143.1,72.3Z" fill="#e4573e"/><path d="M172.6,67.8C173.4,67.2 178.7,66.1 180.3,66.5C182.0,67.0 185.1,70.2 186.7,71.7C188.4,73.2 192.6,77.9 194.4,79.4C196.2,80.9 200.5,83.4 202.1,84.5C203.7,85.5 207.3,87.3 208.0,88.3C208.7,89.4 209.0,93.3 208.0,93.5C207.0,93.6 201.7,91.0 199.5,89.6C197.4,88.3 191.5,83.7 189.3,81.9C187.0,80.1 182.1,75.4 180.3,74.2C178.5,73.0 174.8,72.4 173.9,71.7C173.0,70.9 171.9,68.4 172.6,67.8Z" fill="#f6c4b2"/><path d="M198.3,90.3C198.9,90.0 203.3,90.7 204.7,90.9C206.0,91.1 209.2,91.6 209.8,92.2C210.4,92.8 210.7,95.7 209.8,96.0C208.9,96.3 203.4,95.0 202.1,94.7C200.8,94.4 199.3,94.0 198.9,93.5C198.4,92.9 197.6,90.6 198.3,90.3Z" fill="#ef8f78"/><path d="M181.6,53.7C181.9,53.0 188.1,53.1 189.3,53.7C190.5,54.3 192.1,58.1 191.8,58.8C191.5,59.6 187.9,60.7 186.7,60.1C185.5,59.5 181.3,54.5 181.6,53.7Z" fill="#e4573e"/><path d="M193.1,61.4C193.4,60.8 197.5,59.5 198.3,60.1C199.0,60.7 199.8,65.9 199.5,66.5C199.2,67.1 196.4,65.9 195.7,65.3C194.9,64.7 192.8,62.0 193.1,61.4Z" fill="#e4573e"/><path d="M212.1,55.0C214.3,54.4 230.4,54.4 232.6,55.0C234.9,55.6 232.4,59.4 231.3,60.1C230.3,60.9 225.3,61.1 223.6,61.4C222.0,61.7 218.4,62.8 217.2,62.7C216.0,62.5 214.0,61.0 213.4,60.1C212.8,59.2 209.9,55.6 212.1,55.0Z" fill="#ef8f78"/><path d="M217.2,67.8C218.0,66.8 226.8,64.8 228.8,65.3C230.7,65.7 232.6,70.5 233.9,71.7C235.2,72.9 240.0,74.5 240.3,75.5C240.6,76.6 237.5,79.4 236.5,80.6C235.4,81.8 232.5,85.1 231.3,85.8C230.2,86.4 227.4,86.9 226.8,86.4C226.2,86.0 226.7,83.3 226.2,81.9C225.7,80.5 223.4,75.9 222.4,74.2C221.3,72.6 216.5,68.9 217.2,67.8Z" fill="#f6c4b2"/><path d="M205.7,62.7C206.6,62.4 210.8,62.7 212.1,63.3C213.4,63.9 216.0,66.5 217.2,67.8C218.4,69.1 221.3,72.6 222.4,74.2C223.4,75.9 225.7,80.5 226.2,81.9C226.7,83.3 227.1,86.0 226.8,86.4C226.5,86.8 224.5,86.1 223.6,85.1C222.8,84.2 220.8,79.6 219.8,78.1C218.7,76.5 215.9,72.9 214.7,71.7C213.5,70.5 210.7,68.5 209.5,67.8C208.3,67.1 204.9,66.5 204.4,65.9C204.0,65.3 204.8,63.0 205.7,62.7Z" fill="#e4573e"/><path d="M198.0,76.8C198.9,76.4 203.7,78.3 205.7,79.4C207.6,80.4 213.3,84.3 214.7,85.8C216.0,87.3 217.7,91.7 217.2,92.2C216.8,92.6 212.5,90.5 210.8,89.6C209.2,88.7 204.6,85.3 203.1,84.5C201.6,83.7 198.6,83.5 198.0,82.6C197.4,81.7 197.1,77.2 198.0,76.8Z" fill="#ef8f78"/><path d="M198.0,89.6C198.9,89.3 203.7,90.9 205.7,91.5C207.6,92.1 213.6,94.0 214.7,94.7C215.7,95.5 215.7,97.8 214.7,97.9C213.6,98.1 207.6,96.5 205.7,96.0C203.7,95.6 198.9,94.9 198.0,94.1C197.1,93.4 197.1,89.9 198.0,89.6Z" fill="#ef8f78"/><path d="M233.9,82.6C234.8,81.7 239.8,80.1 241.6,80.0C243.4,79.9 247.8,81.4 249.3,81.3C250.8,81.2 253.2,79.9 254.4,79.4C255.6,78.8 259.7,76.2 259.5,76.8C259.4,77.4 255.1,83.3 253.1,84.5C251.2,85.7 245.1,86.8 242.9,87.1C240.6,87.4 234.9,87.6 233.9,87.1C232.9,86.5 233.0,83.4 233.9,82.6Z" fill="#e9694f"/><path d="M249.3,83.5C249.4,82.9 254.4,80.9 255.7,80.0C257.0,79.1 259.7,75.6 260.2,75.5C260.6,75.4 260.2,78.3 259.5,79.4C258.9,80.4 255.6,84.3 254.4,84.7C253.2,85.2 249.1,84.0 249.3,83.5Z" fill="#b71f1f"/><path d="M254.4,57.6C255.2,56.2 259.8,55.1 260.8,56.3C261.8,57.5 263.0,65.7 262.7,67.8C262.4,69.9 259.2,74.2 258.3,74.2C257.3,74.2 254.9,69.8 254.4,67.8C254.0,65.9 253.7,58.9 254.4,57.6Z" fill="#f9dbcf"/><path d="M240.3,53.7C241.4,53.0 250.8,53.1 251.8,53.7C252.9,54.3 250.3,58.1 249.3,58.8C248.2,59.6 243.9,60.7 242.9,60.1C241.8,59.5 239.3,54.5 240.3,53.7Z" fill="#f6c4b2"/></g>
<g filter="url(#bl2)"><ellipse cx="205.0" cy="68.0" rx="18" ry="3.5" fill="#5a3a38" opacity="0.35" transform="rotate(14 205.0 68.0)"/><ellipse cx="170.0" cy="70.0" rx="16" ry="4.5" fill="#fff" opacity="0.5" transform="rotate(-25 170.0 70.0)"/><ellipse cx="238.0" cy="55.0" rx="10" ry="7" fill="#fff" opacity="0.45" transform="rotate(40 238.0 55.0)"/></g>
<path d="M140.6,62.7C140.8,60.6 140.6,59.5 141.2,58.0C141.8,56.5 142.8,56.1 144.4,53.6C146.0,51.1 148.5,46.7 150.8,43.3C153.2,39.9 155.9,36.1 158.5,33.1C161.1,30.1 163.4,27.6 166.2,25.4C169.0,23.1 172.0,21.1 175.2,19.6C178.4,18.1 181.8,17.1 185.4,16.4C189.0,15.7 193.2,15.3 197.0,15.4C200.8,15.5 204.7,16.3 208.3,17.2C211.9,18.1 215.1,19.4 218.5,20.9C221.9,22.4 225.4,24.0 228.8,26.0C232.2,28.0 235.8,30.6 239.0,33.1C242.2,35.6 245.4,38.2 248.0,40.8C250.6,43.4 252.5,45.7 254.4,48.5C256.3,51.3 258.2,55.0 259.5,57.4C260.8,59.8 262.1,60.5 262.4,62.7C262.7,64.9 262.2,67.9 261.5,70.4C260.8,73.0 259.9,75.8 258.3,78.0C256.7,80.2 254.4,82.4 251.8,83.8C249.2,85.2 245.9,86.0 242.9,86.4C239.9,86.8 236.5,86.2 233.9,86.4C231.3,86.6 229.2,86.7 227.5,87.7C225.8,88.7 224.9,90.5 223.6,92.2C222.3,93.9 221.5,96.5 219.8,97.9C218.1,99.3 216.0,100.0 213.4,100.5C210.8,101.0 208.0,101.7 204.4,100.9C200.8,100.2 195.6,97.7 191.8,96.0C188.0,94.3 185.0,92.5 181.6,90.9C178.2,89.3 174.7,87.7 171.3,86.4C167.9,85.1 164.5,84.2 161.1,83.2C157.7,82.2 153.8,81.7 150.8,80.6C147.8,79.5 144.9,78.5 143.1,76.8C141.3,75.1 140.3,72.8 139.9,70.4C139.5,68.1 140.4,64.8 140.6,62.7Z" fill="none" stroke="#5a4040" stroke-opacity="0.22" stroke-width="4.5" filter="url(#bl3)"/>
</g>
<g clip-path="url(#bc3)">
<path d="M271.2,61.4C271.9,58.8 272.4,56.4 273.8,53.6C275.2,50.8 277.3,47.4 279.5,44.6C281.7,41.8 284.2,39.5 287.2,36.9C290.2,34.3 293.9,31.4 297.5,29.2C301.1,27.0 304.9,25.1 309.0,23.5C313.1,21.9 317.8,20.5 321.8,19.6C325.8,18.7 330.2,18.5 333.0,18.2C335.8,17.9 335.7,17.7 338.3,17.9C340.9,18.1 345.3,18.4 348.5,19.2C351.7,20.0 354.7,21.1 357.5,22.8C360.3,24.5 362.8,26.9 365.2,29.2C367.6,31.5 369.5,34.1 371.6,36.9C373.7,39.7 375.9,42.9 378.0,45.9C380.1,48.9 382.5,52.1 384.4,54.9C386.3,57.7 388.4,60.3 389.5,62.7C390.6,65.1 391.0,67.0 390.8,69.1C390.6,71.2 389.8,73.6 388.3,75.5C386.8,77.4 384.6,79.1 381.8,80.6C379.0,82.1 375.2,83.2 371.6,84.5C368.0,85.8 364.1,86.8 360.0,88.3C355.9,89.8 351.2,91.9 347.2,93.5C343.1,95.1 339.5,96.7 335.7,98.0C331.9,99.3 327.8,101.0 324.4,101.4C321.0,101.8 317.8,101.4 315.4,100.5C313.0,99.6 311.8,97.6 310.3,96.0C308.8,94.4 308.2,92.3 306.5,90.9C304.8,89.5 302.6,88.6 300.0,87.7C297.4,86.8 294.3,86.7 291.1,85.8C287.9,84.9 283.8,84.1 280.8,82.6C277.8,81.1 274.9,79.0 273.1,76.8C271.3,74.5 270.2,71.7 269.9,69.1C269.6,66.5 270.5,64.0 271.2,61.4Z" fill="url(#bg1)"/>
<g filter="url(#bl1)"><path d="M343.8,18.3L346.8,19.3L341.2,30.5L333.6,42.0L326.0,52.2L320.9,57.0L320.4,54.7L323.9,52.2L329.8,42.0L336.7,30.5Z" fill="#d8382a"/><path d="M338.2,18.3L344.0,18.3L336.9,30.5L330.1,42.0L324.2,52.2L320.6,55.2L322.9,47.1L328.8,35.6L333.9,25.4Z" fill="#8e0e12"/><path d="M315.4,38.8C316.0,38.1 317.4,38.7 317.4,39.5C317.3,40.3 315.3,44.1 314.8,45.9C314.3,47.7 313.3,54.0 312.9,54.9C312.4,55.8 311.0,54.6 310.9,53.6C310.9,52.5 311.7,47.6 312.2,45.9C312.8,44.2 314.8,39.6 315.4,38.8Z" fill="#e9694f"/><path d="M321.8,22.8C322.5,22.3 327.7,21.2 328.3,21.5C328.9,21.8 327.4,24.6 327.0,25.4C326.5,26.1 324.9,27.9 324.4,27.9C323.9,28.0 322.8,26.6 322.5,26.0C322.2,25.4 321.2,23.3 321.8,22.8Z" fill="#f2a690"/><path d="M310.3,29.9C311.1,29.4 317.0,27.9 318.0,27.9C319.0,27.9 319.4,29.4 318.6,29.9C317.9,30.3 312.6,31.8 311.6,31.8C310.6,31.8 309.6,30.3 310.3,29.9Z" fill="#f6c4b2"/><path d="M316.7,65.9C317.0,65.4 320.6,64.1 321.8,64.0C323.0,63.8 326.5,64.2 327.0,64.6C327.4,65.0 326.6,66.8 325.7,67.2C324.8,67.6 320.3,68.0 319.3,67.8C318.2,67.7 316.4,66.3 316.7,65.9Z" fill="#ef8f78"/><path d="M284.0,82.6C284.2,82.2 286.7,81.7 287.2,81.9C287.8,82.1 288.7,84.1 288.5,84.5C288.3,84.9 285.8,85.4 285.3,85.1C284.8,84.9 283.8,82.9 284.0,82.6Z" fill="#f6c4b2"/><path d="M325.7,58.8C326.4,58.4 333.5,56.8 334.7,56.9C335.9,57.0 336.7,59.0 335.9,59.5C335.2,59.9 329.5,60.8 328.3,60.8C327.1,60.7 324.9,59.3 325.7,58.8Z" fill="#f6c4b2"/><path d="M367.1,70.4C367.5,69.9 369.5,69.3 370.3,69.7C371.1,70.2 373.3,73.3 374.2,74.2C375.0,75.1 377.2,76.8 377.4,77.4C377.5,78.1 376.1,79.6 375.4,80.0C374.8,80.4 372.3,81.0 371.6,80.6C370.8,80.3 369.5,77.6 369.0,76.8C368.5,76.0 367.3,74.3 367.1,73.6C366.9,72.8 366.7,70.8 367.1,70.4Z" fill="#f6c4b2"/></g>
<g filter="url(#bl2)"><ellipse cx="353.0" cy="65.5" rx="36" ry="3.6" fill="#4a3a38" opacity="0.5" transform="rotate(12.5 353.0 65.5)"/><ellipse cx="318.0" cy="60.0" rx="7" ry="4" fill="#5a4a48" opacity="0.3" transform="rotate(-30 318.0 60.0)"/><ellipse cx="362.0" cy="36.0" rx="17" ry="2.5" fill="#7a6a68" opacity="0.2" transform="rotate(42 362.0 36.0)"/><ellipse cx="292.0" cy="70.0" rx="14" ry="8" fill="#fff" opacity="0.7" transform="rotate(-35 292.0 70.0)"/><ellipse cx="345.0" cy="78.0" rx="22" ry="5" fill="#fff" opacity="0.6" transform="rotate(-12 345.0 78.0)"/><ellipse cx="335.0" cy="45.0" rx="14" ry="8" fill="#fff" opacity="0.5" transform="rotate(0 335.0 45.0)"/><ellipse cx="312.0" cy="92.0" rx="4" ry="6" fill="#6a5a58" opacity="0.2" transform="rotate(20 312.0 92.0)"/></g>
<path d="M271.2,61.4C271.9,58.8 272.4,56.4 273.8,53.6C275.2,50.8 277.3,47.4 279.5,44.6C281.7,41.8 284.2,39.5 287.2,36.9C290.2,34.3 293.9,31.4 297.5,29.2C301.1,27.0 304.9,25.1 309.0,23.5C313.1,21.9 317.8,20.5 321.8,19.6C325.8,18.7 330.2,18.5 333.0,18.2C335.8,17.9 335.7,17.7 338.3,17.9C340.9,18.1 345.3,18.4 348.5,19.2C351.7,20.0 354.7,21.1 357.5,22.8C360.3,24.5 362.8,26.9 365.2,29.2C367.6,31.5 369.5,34.1 371.6,36.9C373.7,39.7 375.9,42.9 378.0,45.9C380.1,48.9 382.5,52.1 384.4,54.9C386.3,57.7 388.4,60.3 389.5,62.7C390.6,65.1 391.0,67.0 390.8,69.1C390.6,71.2 389.8,73.6 388.3,75.5C386.8,77.4 384.6,79.1 381.8,80.6C379.0,82.1 375.2,83.2 371.6,84.5C368.0,85.8 364.1,86.8 360.0,88.3C355.9,89.8 351.2,91.9 347.2,93.5C343.1,95.1 339.5,96.7 335.7,98.0C331.9,99.3 327.8,101.0 324.4,101.4C321.0,101.8 317.8,101.4 315.4,100.5C313.0,99.6 311.8,97.6 310.3,96.0C308.8,94.4 308.2,92.3 306.5,90.9C304.8,89.5 302.6,88.6 300.0,87.7C297.4,86.8 294.3,86.7 291.1,85.8C287.9,84.9 283.8,84.1 280.8,82.6C277.8,81.1 274.9,79.0 273.1,76.8C271.3,74.5 270.2,71.7 269.9,69.1C269.6,66.5 270.5,64.0 271.2,61.4Z" fill="none" stroke="#5a4040" stroke-opacity="0.22" stroke-width="4.5" filter="url(#bl3)"/>
</g>
<g clip-path="url(#bc4)">
<path d="M397.9,62.7C398.4,60.8 398.6,59.8 399.8,57.4C401.0,55.0 403.1,51.5 405.0,48.5C406.9,45.5 409.3,42.3 411.4,39.5C413.5,36.7 415.7,34.1 417.8,31.8C419.9,29.4 421.9,27.3 424.2,25.4C426.5,23.5 429.1,21.6 431.9,20.3C434.7,19.1 437.7,18.3 440.9,17.9C444.1,17.5 446.9,17.3 451.1,17.9C455.3,18.5 462.1,20.2 466.3,21.5C470.5,22.8 473.1,23.8 476.5,25.4C479.9,27.0 483.4,29.1 486.8,31.2C490.2,33.3 493.8,35.7 497.0,38.2C500.2,40.8 503.4,43.7 506.0,46.5C508.6,49.3 510.6,52.0 512.4,54.9C514.2,57.8 515.9,61.4 516.9,64.0C517.9,66.6 518.7,68.1 518.6,70.4C518.5,72.8 517.5,76.0 516.3,78.1C515.0,80.2 513.2,81.9 511.1,83.2C509.0,84.5 506.2,85.2 503.4,85.8C500.6,86.4 497.3,86.5 494.5,87.0C491.7,87.5 488.9,88.0 486.8,89.0C484.7,90.0 483.1,91.2 481.6,92.8C480.1,94.4 479.5,97.0 477.8,98.6C476.1,100.2 474.0,101.5 471.4,102.2C468.8,102.9 465.1,103.1 462.4,102.7C459.7,102.3 457.7,100.9 455.0,99.9C452.3,98.9 449.2,98.0 446.0,96.7C442.8,95.4 439.1,93.6 435.7,92.2C432.3,90.8 428.9,89.5 425.5,88.3C422.1,87.1 418.6,86.4 415.2,85.1C411.8,83.8 407.8,82.2 405.0,80.6C402.2,79.0 400.0,77.4 398.6,75.5C397.2,73.6 396.7,71.2 396.6,69.1C396.5,67.0 397.4,64.7 397.9,62.7Z" fill="url(#bg1)"/>
<g filter="url(#bl1)"><path d="M444.7,18.3C445.0,17.9 448.9,18.0 449.8,18.7C450.7,19.4 451.5,22.7 452.4,24.1C453.3,25.5 456.3,28.9 457.5,30.5C458.7,32.2 461.7,36.7 462.7,38.2C463.7,39.7 465.3,42.1 466.0,43.3C466.7,44.5 468.6,47.3 469.1,48.5C469.5,49.7 470.3,53.3 469.7,53.6C469.1,53.9 464.9,52.2 463.9,51.0C463.0,49.8 462.1,45.0 461.4,43.3C460.6,41.7 458.6,38.6 457.5,36.9C456.5,35.3 453.6,30.9 452.4,29.2C451.2,27.6 448.2,24.1 447.3,22.8C446.4,21.5 444.4,18.8 444.7,18.3Z" fill="#e4573e"/><path d="M440.9,18.3C440.9,17.7 444.0,17.8 444.7,18.3C445.5,18.9 446.4,21.5 447.3,22.8C448.2,24.1 451.2,27.6 452.4,29.2C453.6,30.9 456.5,35.3 457.5,36.9C458.6,38.6 460.6,41.7 461.4,43.3C462.1,45.0 463.9,50.1 463.9,51.0C464.0,51.9 462.6,51.9 462.0,51.0C461.4,50.1 459.8,45.1 458.8,43.3C457.8,41.5 454.9,37.3 453.7,35.6C452.5,34.0 449.7,30.6 448.6,29.2C447.4,27.9 445.0,25.4 444.1,24.1C443.2,22.8 440.8,19.0 440.9,18.3Z" fill="#d8382a"/><path d="M458.8,21.5C459.1,21.1 461.8,20.7 462.7,20.9C463.5,21.0 465.4,22.1 466.0,22.8C466.6,23.5 467.8,25.6 467.8,26.7C467.8,27.7 466.6,31.6 466.0,31.8C465.4,31.9 463.4,28.8 462.7,27.9C462.0,27.1 460.6,25.5 460.1,24.7C459.7,24.0 458.5,22.0 458.8,21.5Z" fill="#e4573e"/><path d="M459.2,21.5C459.4,21.2 462.3,21.7 463.1,22.2C463.8,22.6 465.2,24.4 465.6,25.4C466.1,26.4 467.1,30.1 466.9,30.5C466.7,31.0 464.4,29.8 463.7,29.2C463.0,28.6 461.7,26.3 461.1,25.4C460.6,24.5 459.0,21.9 459.2,21.5Z" fill="#e4573e"/><path d="M453.4,29.2C453.9,28.9 457.5,31.2 458.6,32.4C459.6,33.6 461.6,37.8 462.4,39.5C463.2,41.2 465.1,45.5 465.6,47.2C466.1,48.8 467.1,53.0 466.9,53.6C466.7,54.2 464.4,53.2 463.7,52.3C463.0,51.4 461.8,47.4 461.1,45.9C460.5,44.4 458.7,40.7 457.9,39.5C457.2,38.3 455.2,36.8 454.7,35.6C454.2,34.4 453.0,29.6 453.4,29.2Z" fill="#e4573e"/><path d="M454.7,35.0C455.1,35.0 457.2,38.2 457.9,39.5C458.7,40.8 460.5,44.4 461.1,45.9C461.8,47.4 463.6,51.7 463.7,52.3C463.8,52.9 462.4,51.9 461.8,51.0C461.2,50.1 459.4,46.0 458.6,44.6C457.7,43.3 455.2,40.6 454.7,39.5C454.3,38.4 454.3,35.0 454.7,35.0Z" fill="#d8382a"/><path d="M471.4,39.5C471.6,39.1 473.4,39.4 473.9,40.1C474.5,40.9 475.4,44.5 475.9,45.9C476.3,47.3 477.7,51.3 477.8,52.3C477.9,53.4 477.1,54.8 476.5,54.9C475.9,54.9 473.3,53.7 472.7,52.9C472.1,52.2 471.5,49.6 471.4,48.5C471.3,47.3 472.0,44.4 472.0,43.3C472.0,42.3 471.2,39.9 471.4,39.5Z" fill="#e9694f"/><path d="M453.7,57.4C453.9,56.6 456.6,54.2 457.5,53.6C458.4,53.0 459.9,52.2 461.1,52.3C462.3,52.4 466.6,53.5 467.5,54.2C468.4,54.9 469.2,58.0 468.8,58.7C468.4,59.4 465.2,60.4 463.7,60.6C462.2,60.8 457.2,61.2 456.0,60.8C454.8,60.4 453.5,58.2 453.7,57.4Z" fill="#eba38c"/><path d="M453.1,92.2C453.5,91.7 457.3,91.4 458.8,91.5C460.3,91.7 464.4,93.0 466.0,93.5C467.6,94.0 471.5,95.2 472.9,95.8C474.3,96.4 477.8,98.0 478.1,98.6C478.4,99.2 476.7,101.0 475.5,101.2C474.3,101.3 469.6,100.2 467.8,99.9C466.0,99.5 461.6,98.5 460.1,97.9C458.6,97.4 455.8,96.1 455.0,95.4C454.2,94.7 452.6,92.6 453.1,92.2Z" fill="#f2a690"/><path d="M493.2,87.1C493.8,86.7 498.8,86.0 499.6,86.2C500.4,86.3 500.8,87.8 500.2,88.1C499.6,88.4 495.3,89.0 494.5,88.8C493.6,88.7 492.6,87.4 493.2,87.1Z" fill="#b71f1f"/></g>
<g filter="url(#bl2)"><ellipse cx="481.0" cy="66.5" rx="37" ry="3.6" fill="#4a3a38" opacity="0.5" transform="rotate(21 481.0 66.5)"/><ellipse cx="450.0" cy="56.0" rx="6" ry="4" fill="#5a4a48" opacity="0.35" transform="rotate(30 450.0 56.0)"/><ellipse cx="440.0" cy="38.0" rx="18" ry="2.5" fill="#7a6a68" opacity="0.18" transform="rotate(-35 440.0 38.0)"/><ellipse cx="420.0" cy="66.0" rx="14" ry="9" fill="#fff" opacity="0.7" transform="rotate(35 420.0 66.0)"/><ellipse cx="470.0" cy="78.0" rx="22" ry="5" fill="#fff" opacity="0.6" transform="rotate(18 470.0 78.0)"/><ellipse cx="470.0" cy="42.0" rx="14" ry="8" fill="#fff" opacity="0.5" transform="rotate(0 470.0 42.0)"/><ellipse cx="480.0" cy="94.0" rx="4" ry="6" fill="#6a5a58" opacity="0.2" transform="rotate(-20 480.0 94.0)"/></g>
<path d="M397.9,62.7C398.4,60.8 398.6,59.8 399.8,57.4C401.0,55.0 403.1,51.5 405.0,48.5C406.9,45.5 409.3,42.3 411.4,39.5C413.5,36.7 415.7,34.1 417.8,31.8C419.9,29.4 421.9,27.3 424.2,25.4C426.5,23.5 429.1,21.6 431.9,20.3C434.7,19.1 437.7,18.3 440.9,17.9C444.1,17.5 446.9,17.3 451.1,17.9C455.3,18.5 462.1,20.2 466.3,21.5C470.5,22.8 473.1,23.8 476.5,25.4C479.9,27.0 483.4,29.1 486.8,31.2C490.2,33.3 493.8,35.7 497.0,38.2C500.2,40.8 503.4,43.7 506.0,46.5C508.6,49.3 510.6,52.0 512.4,54.9C514.2,57.8 515.9,61.4 516.9,64.0C517.9,66.6 518.7,68.1 518.6,70.4C518.5,72.8 517.5,76.0 516.3,78.1C515.0,80.2 513.2,81.9 511.1,83.2C509.0,84.5 506.2,85.2 503.4,85.8C500.6,86.4 497.3,86.5 494.5,87.0C491.7,87.5 488.9,88.0 486.8,89.0C484.7,90.0 483.1,91.2 481.6,92.8C480.1,94.4 479.5,97.0 477.8,98.6C476.1,100.2 474.0,101.5 471.4,102.2C468.8,102.9 465.1,103.1 462.4,102.7C459.7,102.3 457.7,100.9 455.0,99.9C452.3,98.9 449.2,98.0 446.0,96.7C442.8,95.4 439.1,93.6 435.7,92.2C432.3,90.8 428.9,89.5 425.5,88.3C422.1,87.1 418.6,86.4 415.2,85.1C411.8,83.8 407.8,82.2 405.0,80.6C402.2,79.0 400.0,77.4 398.6,75.5C397.2,73.6 396.7,71.2 396.6,69.1C396.5,67.0 397.4,64.7 397.9,62.7Z" fill="none" stroke="#5a4040" stroke-opacity="0.22" stroke-width="4.5" filter="url(#bl3)"/>
</g>
<rect x="526.3" y="19.2" width="4.4" height="88.2" fill="url(#cbar)" stroke="#222" stroke-width="0.4"/>
<line x1="530.7" x2="532.2" y1="19.20" y2="19.20" stroke="#222" stroke-width="0.4"/>
<text class="dv" x="533.20" y="21.30" font-size="5.9">1.0</text>
<line x1="530.7" x2="532.2" y1="36.84" y2="36.84" stroke="#222" stroke-width="0.4"/>
<text class="dv" x="533.20" y="38.94" font-size="5.9">0.8</text>
<line x1="530.7" x2="532.2" y1="54.48" y2="54.48" stroke="#222" stroke-width="0.4"/>
<text class="dv" x="533.20" y="56.58" font-size="5.9">0.6</text>
<line x1="530.7" x2="532.2" y1="72.12" y2="72.12" stroke="#222" stroke-width="0.4"/>
<text class="dv" x="533.20" y="74.22" font-size="5.9">0.4</text>
<line x1="530.7" x2="532.2" y1="89.76" y2="89.76" stroke="#222" stroke-width="0.4"/>
<text class="dv" x="533.20" y="91.86" font-size="5.9">0.2</text>
<line x1="530.7" x2="532.2" y1="107.40" y2="107.40" stroke="#222" stroke-width="0.4"/>
<text class="dv" x="533.20" y="109.50" font-size="5.9">0.0</text>
<text class="dv" x="523.90" y="65.20" font-size="5.45" text-anchor="middle" transform="rotate(-90 523.90 65.20)">Normalized weight</text>
<text class="ls" x="6.0" y="126.2" font-size="8.5"><tspan font-weight="bold">c</tspan> ROC curve</text>
<text class="ls" x="191.2" y="126.5" font-size="8.5"><tspan font-weight="bold">d</tspan> t-SNE visualization before feature selection</text>
<text class="ls" x="374.4" y="126.2" font-size="8.5"><tspan font-weight="bold">e</tspan> t-SNE visualization after feature selection</text>
<clipPath id="cc"><rect x="28.3" y="137.7" width="156.0" height="113.0"/></clipPath>
<g clip-path="url(#cc)" fill="none" stroke-width="1.05" stroke-linejoin="round">
<path d="M29.30,250.70L29.57,199.87L29.83,165.11L30.10,159.50L30.37,157.43L30.64,156.07L30.90,155.12L31.17,154.31L31.48,153.36L31.98,152.03L32.47,150.90L32.96,149.96L33.45,149.23L33.94,148.69L34.43,148.30L34.93,147.95L35.42,147.64L35.91,147.37L36.40,147.13L36.89,146.92L37.39,146.73L37.88,146.55L38.37,146.38L38.86,146.22L39.35,146.07L39.84,145.92L40.34,145.79L40.83,145.65L41.32,145.53L41.81,145.41L42.30,145.30L42.80,145.20L43.29,145.10L43.78,145.01L44.27,144.92L44.76,144.84L45.25,144.76L45.75,144.69L46.24,144.62L46.73,144.56L47.22,144.50L47.71,144.44L48.21,144.38L48.70,144.33L49.19,144.28L49.68,144.23L50.17,144.18L50.66,144.13L51.16,144.08L51.65,144.03L52.14,143.97L52.63,143.92L53.12,143.87L53.61,143.82L54.11,143.76L54.60,143.71L55.09,143.66L55.58,143.61L56.07,143.55L56.57,143.50L57.06,143.45L57.55,143.40L58.04,143.35L58.53,143.31L59.02,143.26L59.52,143.21L60.01,143.17L60.50,143.12L62.06,142.99L65.22,142.72L68.38,142.46L71.54,142.21L74.70,141.97L77.86,141.74L81.02,141.52L84.18,141.31L87.34,141.12L90.50,140.93L93.66,140.76L96.82,140.59L99.98,140.42L103.14,140.26L106.30,140.11L109.46,139.96L112.62,139.82L115.78,139.68L118.94,139.54L122.10,139.41L125.26,139.29L128.42,139.17L131.58,139.06L134.74,138.95L137.90,138.85L141.06,138.75L144.22,138.66L147.38,138.56L150.54,138.47L153.70,138.38L156.86,138.30L160.02,138.22L163.18,138.14L166.34,138.06L169.50,137.99L172.66,137.92L175.82,137.86L178.98,137.80L182.14,137.75L185.30,137.70" stroke="#a64dff"/>
<path d="M29.30,250.70L29.57,199.95L29.83,165.18L30.10,159.35L30.37,157.10L30.64,155.61L30.90,154.60L31.17,153.75L31.48,152.78L31.98,151.43L32.47,150.30L32.96,149.38L33.45,148.66L33.94,148.13L34.43,147.73L34.93,147.38L35.42,147.07L35.91,146.80L36.40,146.56L36.89,146.35L37.39,146.16L37.88,145.98L38.37,145.82L38.86,145.66L39.35,145.51L39.84,145.36L40.34,145.22L40.83,145.10L41.32,144.97L41.81,144.86L42.30,144.75L42.80,144.65L43.29,144.55L43.78,144.45L44.27,144.36L44.76,144.28L45.25,144.19L45.75,144.12L46.24,144.04L46.73,143.97L47.22,143.90L47.71,143.83L48.21,143.77L48.70,143.70L49.19,143.64L49.68,143.58L50.17,143.53L50.66,143.47L51.16,143.41L51.65,143.36L52.14,143.30L52.63,143.24L53.12,143.19L53.61,143.13L54.11,143.08L54.60,143.03L55.09,142.97L55.58,142.92L56.07,142.87L56.57,142.82L57.06,142.77L57.55,142.72L58.04,142.67L58.53,142.62L59.02,142.58L59.52,142.53L60.01,142.49L60.50,142.45L62.06,142.31L65.22,142.05L68.38,141.80L71.54,141.56L74.70,141.33L77.86,141.11L81.02,140.90L84.18,140.71L87.34,140.52L90.50,140.36L93.66,140.21L96.82,140.06L99.98,139.92L103.14,139.78L106.30,139.65L109.46,139.53L112.62,139.41L115.78,139.29L118.94,139.18L122.10,139.08L125.26,138.98L128.42,138.88L131.58,138.79L134.74,138.70L137.90,138.62L141.06,138.54L144.22,138.46L147.38,138.39L150.54,138.31L153.70,138.24L156.86,138.17L160.02,138.11L163.18,138.04L166.34,137.98L169.50,137.93L172.66,137.87L175.82,137.82L178.98,137.78L182.14,137.74L185.30,137.70" stroke="#b0b0b0"/>
<path d="M29.30,250.70L29.57,199.83L29.83,165.08L30.10,159.59L30.37,157.62L30.64,156.33L30.90,155.44L31.17,154.65L31.48,153.72L31.98,152.42L32.47,151.31L32.96,150.39L33.45,149.63L33.94,149.04L34.43,148.55L34.93,148.12L35.42,147.73L35.91,147.38L36.40,147.06L36.89,146.78L37.39,146.52L37.88,146.29L38.37,146.07L38.86,145.87L39.35,145.68L39.84,145.50L40.34,145.33L40.83,145.18L41.32,145.03L41.81,144.89L42.30,144.76L42.80,144.63L43.29,144.51L43.78,144.39L44.27,144.28L44.76,144.17L45.25,144.06L45.75,143.96L46.24,143.86L46.73,143.76L47.22,143.67L47.71,143.58L48.21,143.49L48.70,143.40L49.19,143.32L49.68,143.24L50.17,143.16L50.66,143.08L51.16,143.01L51.65,142.93L52.14,142.86L52.63,142.79L53.12,142.73L53.61,142.66L54.11,142.59L54.60,142.53L55.09,142.47L55.58,142.41L56.07,142.35L56.57,142.29L57.06,142.23L57.55,142.18L58.04,142.12L58.53,142.07L59.02,142.02L59.52,141.97L60.01,141.93L60.50,141.88L62.06,141.74L65.22,141.48L68.38,141.23L71.54,140.99L74.70,140.77L77.86,140.57L81.02,140.38L84.18,140.20L87.34,140.04L90.50,139.90L93.66,139.77L96.82,139.65L99.98,139.53L103.14,139.42L106.30,139.32L109.46,139.22L112.62,139.12L115.78,139.03L118.94,138.95L122.10,138.87L125.26,138.79L128.42,138.71L131.58,138.64L134.74,138.57L137.90,138.50L141.06,138.44L144.22,138.37L147.38,138.31L150.54,138.24L153.70,138.18L156.86,138.12L160.02,138.07L163.18,138.01L166.34,137.96L169.50,137.91L172.66,137.86L175.82,137.82L178.98,137.77L182.14,137.74L185.30,137.70" stroke="#f5e27a"/>
<path d="M29.30,250.70L29.57,200.49L29.83,166.17L30.10,160.72L30.37,158.75L30.64,157.47L30.90,156.57L31.17,155.78L31.48,154.85L31.98,153.56L32.47,152.47L32.96,151.55L33.45,150.79L33.94,150.17L34.43,149.65L34.93,149.17L35.42,148.74L35.91,148.35L36.40,148.00L36.89,147.68L37.39,147.39L37.88,147.12L38.37,146.88L38.86,146.65L39.35,146.44L39.84,146.24L40.34,146.05L40.83,145.87L41.32,145.70L41.81,145.54L42.30,145.39L42.80,145.25L43.29,145.12L43.78,144.99L44.27,144.86L44.76,144.74L45.25,144.62L45.75,144.51L46.24,144.40L46.73,144.29L47.22,144.19L47.71,144.09L48.21,144.00L48.70,143.91L49.19,143.82L49.68,143.73L50.17,143.64L50.66,143.56L51.16,143.48L51.65,143.40L52.14,143.32L52.63,143.25L53.12,143.17L53.61,143.10L54.11,143.02L54.60,142.95L55.09,142.88L55.58,142.81L56.07,142.75L56.57,142.68L57.06,142.61L57.55,142.55L58.04,142.49L58.53,142.43L59.02,142.38L59.52,142.32L60.01,142.27L60.50,142.22L62.06,142.07L65.22,141.77L68.38,141.49L71.54,141.23L74.70,140.98L77.86,140.75L81.02,140.54L84.18,140.35L87.34,140.17L90.50,140.02L93.66,139.87L96.82,139.74L99.98,139.61L103.14,139.49L106.30,139.38L109.46,139.27L112.62,139.17L115.78,139.07L118.94,138.98L122.10,138.89L125.26,138.81L128.42,138.73L131.58,138.65L134.74,138.58L137.90,138.50L141.06,138.44L144.22,138.37L147.38,138.30L150.54,138.24L153.70,138.17L156.86,138.11L160.02,138.06L163.18,138.00L166.34,137.95L169.50,137.90L172.66,137.85L175.82,137.81L178.98,137.77L182.14,137.73L185.30,137.70" stroke="#90ee90"/>
<path d="M29.30,250.70L29.57,198.97L29.83,164.70L30.10,156.41L30.37,152.38L30.64,150.35L30.90,149.68L31.17,149.20L31.48,148.77L31.98,148.34L32.47,148.07L32.96,147.88L33.45,147.73L33.94,147.61L34.43,147.51L34.93,147.42L35.42,147.34L35.91,147.25L36.40,147.15L36.89,147.03L37.39,146.87L37.88,146.70L38.37,146.50L38.86,146.30L39.35,146.08L39.84,145.86L40.34,145.64L40.83,145.42L41.32,145.22L41.81,145.03L42.30,144.86L42.80,144.68L43.29,144.51L43.78,144.35L44.27,144.20L44.76,144.06L45.25,143.94L45.75,143.82L46.24,143.70L46.73,143.59L47.22,143.48L47.71,143.37L48.21,143.27L48.70,143.17L49.19,143.07L49.68,142.98L50.17,142.89L50.66,142.80L51.16,142.71L51.65,142.63L52.14,142.54L52.63,142.46L53.12,142.37L53.61,142.29L54.11,142.21L54.60,142.13L55.09,142.05L55.58,141.97L56.07,141.89L56.57,141.81L57.06,141.74L57.55,141.67L58.04,141.60L58.53,141.54L59.02,141.47L59.52,141.42L60.01,141.36L60.50,141.32L62.06,141.17L65.22,140.90L68.38,140.65L71.54,140.42L74.70,140.21L77.86,140.03L81.02,139.86L84.18,139.70L87.34,139.56L90.50,139.44L93.66,139.33L96.82,139.22L99.98,139.12L103.14,139.03L106.30,138.94L109.46,138.85L112.62,138.77L115.78,138.70L118.94,138.63L122.10,138.56L125.26,138.50L128.42,138.44L131.58,138.38L134.74,138.33L137.90,138.27L141.06,138.22L144.22,138.17L147.38,138.13L150.54,138.08L153.70,138.03L156.86,137.99L160.02,137.95L163.18,137.91L166.34,137.87L169.50,137.83L172.66,137.80L175.82,137.77L178.98,137.74L182.14,137.72L185.30,137.70" stroke="#e8872a"/>
<path d="M29.30,250.70L29.57,199.70L29.83,165.62L30.10,154.03L30.37,147.77L30.64,145.97L30.90,145.44L31.17,145.04L31.48,144.70L31.98,144.36L32.47,144.12L32.96,143.90L33.45,143.70L33.94,143.52L34.43,143.37L34.93,143.23L35.42,143.11L35.91,143.00L36.40,142.90L36.89,142.80L37.39,142.70L37.88,142.61L38.37,142.51L38.86,142.40L39.35,142.30L39.84,142.19L40.34,142.08L40.83,141.98L41.32,141.88L41.81,141.79L42.30,141.70L42.80,141.61L43.29,141.53L43.78,141.46L44.27,141.39L44.76,141.33L45.25,141.28L45.75,141.23L46.24,141.19L46.73,141.15L47.22,141.11L47.71,141.07L48.21,141.04L48.70,141.01L49.19,140.98L49.68,140.95L50.17,140.92L50.66,140.89L51.16,140.85L51.65,140.82L52.14,140.79L52.63,140.76L53.12,140.72L53.61,140.68L54.11,140.65L54.60,140.61L55.09,140.57L55.58,140.53L56.07,140.49L56.57,140.46L57.06,140.42L57.55,140.38L58.04,140.35L58.53,140.31L59.02,140.28L59.52,140.25L60.01,140.22L60.50,140.19L62.06,140.10L65.22,139.92L68.38,139.76L71.54,139.60L74.70,139.45L77.86,139.31L81.02,139.18L84.18,139.06L87.34,138.95L90.50,138.86L93.66,138.78L96.82,138.71L99.98,138.64L103.14,138.57L106.30,138.51L109.46,138.45L112.62,138.39L115.78,138.34L118.94,138.29L122.10,138.24L125.26,138.19L128.42,138.15L131.58,138.11L134.74,138.08L137.90,138.05L141.06,138.01L144.22,137.98L147.38,137.95L150.54,137.92L153.70,137.89L156.86,137.87L160.02,137.84L163.18,137.81L166.34,137.79L169.50,137.77L172.66,137.75L175.82,137.74L178.98,137.72L182.14,137.71L185.30,137.70" stroke="#2e8ff0"/>
<path d="M29.30,250.70L29.57,187.85L29.83,154.79L30.10,142.75L30.37,142.38L30.64,142.07L30.90,141.83L31.17,141.63L31.48,141.46L31.98,141.28L32.47,141.16L32.96,141.05L33.45,140.90L33.94,140.75L34.43,140.62L34.93,140.49L35.42,140.38L35.91,140.27L36.40,140.18L36.89,140.09L37.39,140.01L37.88,139.94L38.37,139.88L38.86,139.83L39.35,139.78L39.84,139.74L40.34,139.70L40.83,139.66L41.32,139.63L41.81,139.60L42.30,139.57L42.80,139.54L43.29,139.51L43.78,139.48L44.27,139.44L44.76,139.41L45.25,139.36L45.75,139.32L46.24,139.27L46.73,139.21L47.22,139.16L47.71,139.10L48.21,139.05L48.70,138.99L49.19,138.93L49.68,138.88L50.17,138.82L50.66,138.77L51.16,138.72L51.65,138.68L52.14,138.64L52.63,138.61L53.12,138.58L53.61,138.55L54.11,138.52L54.60,138.49L55.09,138.47L55.58,138.44L56.07,138.42L56.57,138.40L57.06,138.37L57.55,138.35L58.04,138.34L58.53,138.32L59.02,138.30L59.52,138.29L60.01,138.28L60.50,138.26L62.06,138.23L65.22,138.18L68.38,138.13L71.54,138.08L74.70,138.04L77.86,138.01L81.02,137.98L84.18,137.96L87.34,137.94L90.50,137.93L93.66,137.92L96.82,137.91L99.98,137.91L103.14,137.90L106.30,137.89L109.46,137.89L112.62,137.88L115.78,137.87L118.94,137.87L122.10,137.86L125.26,137.86L128.42,137.85L131.58,137.85L134.74,137.84L137.90,137.84L141.06,137.84L144.22,137.83L147.38,137.83L150.54,137.83L153.70,137.83L156.86,137.82L160.02,137.82L163.18,137.82L166.34,137.82L169.50,137.82L172.66,137.81L175.82,137.81L178.98,137.81L182.14,137.81L185.30,137.81" stroke="#ff5a2a"/>
</g>
<line x1="28.30" y1="160.30" x2="123.3" y2="185.2" stroke="#222" stroke-width="0.6" stroke-dasharray="1.5 0.9"/>
<line x1="59.50" y1="137.70" x2="177.8" y2="143.5" stroke="#222" stroke-width="0.6" stroke-dasharray="1.5 0.9"/>
<rect x="123.3" y="143.5" width="54.50" height="41.70" fill="#fff" stroke="#a6a6a6" stroke-width="0.9"/>
<clipPath id="ci"><rect x="123.3" y="143.5" width="54.50" height="41.70"/></clipPath>
<g clip-path="url(#ci)" fill="none" stroke-width="0.9" stroke-linejoin="round">
<path d="M123.30,352.00L123.66,278.13L124.03,215.97L124.39,187.28L124.75,183.22L125.12,180.25L125.48,178.11L125.84,176.55L126.21,175.32L126.57,174.15L126.84,173.26L127.49,171.29L128.13,169.53L128.78,167.97L129.42,166.63L130.07,165.49L130.71,164.56L131.36,163.83L132.00,163.27L132.65,162.76L133.29,162.29L133.94,161.87L134.58,161.49L135.23,161.14L135.87,160.82L136.52,160.53L137.16,160.26L137.81,160.01L138.45,159.77L139.10,159.54L139.74,159.31L140.39,159.10L141.03,158.89L141.68,158.69L142.32,158.49L142.97,158.31L143.61,158.13L144.26,157.96L144.90,157.79L145.55,157.64L146.19,157.49L146.84,157.34L147.48,157.21L148.13,157.08L148.77,156.95L149.42,156.83L150.06,156.72L150.71,156.61L151.35,156.51L152.00,156.41L152.64,156.31L153.29,156.22L153.93,156.13L154.58,156.05L155.22,155.97L155.87,155.89L156.51,155.81L157.16,155.74L157.80,155.66L158.45,155.59L159.09,155.52L159.74,155.45L160.38,155.38L161.03,155.31L161.67,155.24L162.32,155.17L162.96,155.10L163.61,155.03L164.25,154.96L164.90,154.88L165.54,154.81L166.19,154.74L166.83,154.66L167.48,154.59L168.12,154.52L168.77,154.45L169.41,154.37L170.06,154.30L170.70,154.23L171.35,154.16L171.99,154.09L172.64,154.02L173.28,153.95L173.93,153.89L174.57,153.82L175.22,153.76L175.86,153.69L176.51,153.63L177.15,153.57L177.80,153.51" stroke="#a64dff"/>
<path d="M123.30,352.00L123.66,278.23L124.03,216.14L124.39,187.28L124.75,182.90L125.12,179.68L125.48,177.35L125.84,175.65L126.21,174.32L126.57,173.11L126.84,172.19L127.49,170.20L128.13,168.43L128.78,166.88L129.42,165.54L130.07,164.42L130.71,163.51L131.36,162.79L132.00,162.22L132.65,161.71L133.29,161.25L133.94,160.83L134.58,160.44L135.23,160.09L135.87,159.78L136.52,159.48L137.16,159.21L137.81,158.96L138.45,158.72L139.10,158.50L139.74,158.27L140.39,158.05L141.03,157.85L141.68,157.65L142.32,157.46L142.97,157.27L143.61,157.10L144.26,156.93L144.90,156.77L145.55,156.61L146.19,156.47L146.84,156.32L147.48,156.19L148.13,156.05L148.77,155.92L149.42,155.80L150.06,155.68L150.71,155.56L151.35,155.45L152.00,155.34L152.64,155.24L153.29,155.14L153.93,155.04L154.58,154.94L155.22,154.85L155.87,154.76L156.51,154.67L157.16,154.58L157.80,154.50L158.45,154.41L159.09,154.33L159.74,154.25L160.38,154.17L161.03,154.09L161.67,154.02L162.32,153.94L162.96,153.86L163.61,153.78L164.25,153.71L164.90,153.63L165.54,153.55L166.19,153.48L166.83,153.40L167.48,153.33L168.12,153.25L168.77,153.18L169.41,153.11L170.06,153.04L170.70,152.97L171.35,152.90L171.99,152.83L172.64,152.76L173.28,152.69L173.93,152.63L174.57,152.56L175.22,152.50L175.86,152.44L176.51,152.38L177.15,152.32L177.80,152.26" stroke="#b0b0b0"/>
<path d="M123.30,352.00L123.66,278.06L124.03,215.87L124.39,187.28L124.75,183.41L125.12,180.59L125.48,178.57L125.84,177.09L126.21,175.91L126.57,174.78L126.84,173.90L127.49,171.97L128.13,170.25L128.78,168.73L129.42,167.41L130.07,166.26L130.71,165.29L131.36,164.48L132.00,163.79L132.65,163.16L133.29,162.58L133.94,162.04L134.58,161.55L135.23,161.09L135.87,160.67L136.52,160.28L137.16,159.91L137.81,159.58L138.45,159.26L139.10,158.96L139.74,158.68L140.39,158.41L141.03,158.15L141.68,157.91L142.32,157.67L142.97,157.45L143.61,157.24L144.26,157.03L144.90,156.84L145.55,156.65L146.19,156.47L146.84,156.30L147.48,156.13L148.13,155.96L148.77,155.81L149.42,155.65L150.06,155.50L150.71,155.35L151.35,155.20L152.00,155.06L152.64,154.92L153.29,154.78L153.93,154.65L154.58,154.52L155.22,154.39L155.87,154.27L156.51,154.14L157.16,154.03L157.80,153.91L158.45,153.80L159.09,153.69L159.74,153.58L160.38,153.47L161.03,153.36L161.67,153.26L162.32,153.16L162.96,153.06L163.61,152.97L164.25,152.87L164.90,152.78L165.54,152.68L166.19,152.59L166.83,152.50L167.48,152.41L168.12,152.33L168.77,152.24L169.41,152.16L170.06,152.07L170.70,151.99L171.35,151.91L171.99,151.83L172.64,151.76L173.28,151.68L173.93,151.61L174.57,151.54L175.22,151.47L175.86,151.40L176.51,151.34L177.15,151.28L177.80,151.21" stroke="#f5e27a"/>
<path d="M123.30,352.00L123.66,279.02L124.03,217.61L124.39,189.37L124.75,185.50L125.12,182.68L125.48,180.66L125.84,179.18L126.21,178.00L126.57,176.86L126.84,175.98L127.49,174.07L128.13,172.37L128.78,170.87L129.42,169.55L130.07,168.41L130.71,167.42L131.36,166.57L132.00,165.83L132.65,165.15L133.29,164.51L133.94,163.92L134.58,163.37L135.23,162.86L135.87,162.38L136.52,161.94L137.16,161.53L137.81,161.15L138.45,160.79L139.10,160.45L139.74,160.14L140.39,159.83L141.03,159.54L141.68,159.27L142.32,159.00L142.97,158.75L143.61,158.51L144.26,158.28L144.90,158.06L145.55,157.84L146.19,157.64L146.84,157.44L147.48,157.25L148.13,157.07L148.77,156.89L149.42,156.72L150.06,156.55L150.71,156.39L151.35,156.23L152.00,156.07L152.64,155.92L153.29,155.77L153.93,155.62L154.58,155.48L155.22,155.35L155.87,155.21L156.51,155.08L157.16,154.95L157.80,154.83L158.45,154.71L159.09,154.59L159.74,154.47L160.38,154.36L161.03,154.24L161.67,154.13L162.32,154.02L162.96,153.92L163.61,153.81L164.25,153.70L164.90,153.60L165.54,153.50L166.19,153.39L166.83,153.29L167.48,153.19L168.12,153.10L168.77,153.00L169.41,152.90L170.06,152.81L170.70,152.72L171.35,152.63L171.99,152.54L172.64,152.45L173.28,152.37L173.93,152.29L174.57,152.21L175.22,152.13L175.86,152.05L176.51,151.98L177.15,151.91L177.80,151.84" stroke="#90ee90"/>
<path d="M123.30,352.00L123.66,276.16L124.03,215.30L124.39,185.20L124.75,177.00L125.12,171.22L125.48,167.70L125.84,166.21L126.21,165.39L126.57,164.72L126.84,164.30L127.49,163.53L128.13,163.02L128.78,162.67L129.42,162.39L130.07,162.16L130.71,161.96L131.36,161.79L132.00,161.65L132.65,161.52L133.29,161.40L133.94,161.29L134.58,161.17L135.23,161.04L135.87,160.89L136.52,160.72L137.16,160.52L137.81,160.29L138.45,160.04L139.10,159.76L139.74,159.48L140.39,159.18L141.03,158.88L141.68,158.57L142.32,158.26L142.97,157.96L143.61,157.67L144.26,157.39L144.90,157.13L145.55,156.88L146.19,156.64L146.84,156.40L147.48,156.16L148.13,155.93L148.77,155.72L149.42,155.51L150.06,155.31L150.71,155.13L151.35,154.96L152.00,154.79L152.64,154.63L153.29,154.47L153.93,154.32L154.58,154.17L155.22,154.02L155.87,153.87L156.51,153.73L157.16,153.60L157.80,153.46L158.45,153.33L159.09,153.20L159.74,153.08L160.38,152.95L161.03,152.83L161.67,152.71L162.32,152.59L162.96,152.47L163.61,152.36L164.25,152.24L164.90,152.13L165.54,152.01L166.19,151.90L166.83,151.78L167.48,151.67L168.12,151.56L168.77,151.45L169.41,151.34L170.06,151.23L170.70,151.13L171.35,151.02L171.99,150.92L172.64,150.82L173.28,150.73L173.93,150.64L174.57,150.55L175.22,150.47L175.86,150.39L176.51,150.31L177.15,150.24L177.80,150.17" stroke="#e8872a"/>
<path d="M123.30,352.00L123.66,276.96L124.03,217.56L124.39,185.20L124.75,171.97L125.12,162.97L125.48,159.14L125.84,158.29L126.21,157.59L126.57,157.04L126.84,156.70L127.49,156.10L128.13,155.70L128.78,155.37L129.42,155.05L130.07,154.77L130.71,154.50L131.36,154.27L132.00,154.05L132.65,153.85L133.29,153.67L133.94,153.50L134.58,153.34L135.23,153.19L135.87,153.05L136.52,152.92L137.16,152.79L137.81,152.65L138.45,152.52L139.10,152.38L139.74,152.24L140.39,152.09L141.03,151.94L141.68,151.79L142.32,151.65L142.97,151.50L143.61,151.36L144.26,151.23L144.90,151.09L145.55,150.96L146.19,150.84L146.84,150.72L147.48,150.61L148.13,150.50L148.77,150.40L149.42,150.31L150.06,150.23L150.71,150.15L151.35,150.09L152.00,150.02L152.64,149.96L153.29,149.90L153.93,149.85L154.58,149.79L155.22,149.74L155.87,149.70L156.51,149.65L157.16,149.61L157.80,149.56L158.45,149.52L159.09,149.48L159.74,149.44L160.38,149.39L161.03,149.35L161.67,149.31L162.32,149.26L162.96,149.22L163.61,149.17L164.25,149.12L164.90,149.07L165.54,149.02L166.19,148.97L166.83,148.92L167.48,148.87L168.12,148.81L168.77,148.76L169.41,148.71L170.06,148.66L170.70,148.60L171.35,148.55L171.99,148.50L172.64,148.45L173.28,148.40L173.93,148.35L174.57,148.30L175.22,148.26L175.86,148.21L176.51,148.17L177.15,148.13L177.80,148.09" stroke="#2e8ff0"/>
<path d="M123.30,352.00L123.66,257.78L124.03,194.67L124.39,163.12L124.75,152.74L125.12,152.20L125.48,151.74L125.84,151.35L126.21,151.03L126.57,150.76L126.84,150.59L127.49,150.28L128.13,150.06L128.78,149.90L129.42,149.74L130.07,149.56L130.71,149.35L131.36,149.15L132.00,148.96L132.65,148.78L133.29,148.61L133.94,148.45L134.58,148.30L135.23,148.17L135.87,148.04L136.52,147.92L137.16,147.81L137.81,147.71L138.45,147.61L139.10,147.53L139.74,147.45L140.39,147.38L141.03,147.32L141.68,147.26L142.32,147.21L142.97,147.16L143.61,147.11L144.26,147.06L144.90,147.02L145.55,146.98L146.19,146.94L146.84,146.90L147.48,146.86L148.13,146.81L148.77,146.77L149.42,146.72L150.06,146.67L150.71,146.61L151.35,146.55L152.00,146.49L152.64,146.42L153.29,146.35L153.93,146.27L154.58,146.20L155.22,146.12L155.87,146.04L156.51,145.96L157.16,145.88L157.80,145.80L158.45,145.72L159.09,145.65L159.74,145.57L160.38,145.50L161.03,145.44L161.67,145.37L162.32,145.31L162.96,145.26L163.61,145.21L164.25,145.16L164.90,145.12L165.54,145.08L166.19,145.04L166.83,145.00L167.48,144.97L168.12,144.93L168.77,144.89L169.41,144.86L170.06,144.83L170.70,144.79L171.35,144.76L171.99,144.74L172.64,144.71L173.28,144.68L173.93,144.66L174.57,144.63L175.22,144.61L175.86,144.59L176.51,144.57L177.15,144.56L177.80,144.54" stroke="#ff5a2a"/>
</g>
<rect x="28.3" y="137.7" width="156.00" height="113.00" fill="none" stroke="#000" stroke-width="0.5"/>
<rect x="27.8" y="137.70" width="30.4" height="22.60" fill="none" stroke="#a6a6a6" stroke-width="1.0"/>
<line x1="28.30" x2="28.30" y1="250.7" y2="252.5" stroke="#000" stroke-width="0.4"/>
<line x1="26.5" x2="28.3" y1="250.70" y2="250.70" stroke="#000" stroke-width="0.4"/>
<text class="ls" x="28.30" y="259.00" font-size="6.6" text-anchor="middle">0.0</text>
<text class="ls" x="25.10" y="253.10" font-size="6.6" text-anchor="end">0.0</text>
<line x1="59.50" x2="59.50" y1="250.7" y2="252.5" stroke="#000" stroke-width="0.4"/>
<line x1="26.5" x2="28.3" y1="228.10" y2="228.10" stroke="#000" stroke-width="0.4"/>
<text class="ls" x="59.50" y="259.00" font-size="6.6" text-anchor="middle">0.2</text>
<text class="ls" x="25.10" y="230.50" font-size="6.6" text-anchor="end">0.2</text>
<line x1="90.70" x2="90.70" y1="250.7" y2="252.5" stroke="#000" stroke-width="0.4"/>
<line x1="26.5" x2="28.3" y1="205.50" y2="205.50" stroke="#000" stroke-width="0.4"/>
<text class="ls" x="90.70" y="259.00" font-size="6.6" text-anchor="middle">0.4</text>
<text class="ls" x="25.10" y="207.90" font-size="6.6" text-anchor="end">0.4</text>
<line x1="121.90" x2="121.90" y1="250.7" y2="252.5" stroke="#000" stroke-width="0.4"/>
<line x1="26.5" x2="28.3" y1="182.90" y2="182.90" stroke="#000" stroke-width="0.4"/>
<text class="ls" x="121.90" y="259.00" font-size="6.6" text-anchor="middle">0.6</text>
<text class="ls" x="25.10" y="185.30" font-size="6.6" text-anchor="end">0.6</text>
<line x1="153.10" x2="153.10" y1="250.7" y2="252.5" stroke="#000" stroke-width="0.4"/>
<line x1="26.5" x2="28.3" y1="160.30" y2="160.30" stroke="#000" stroke-width="0.4"/>
<text class="ls" x="153.10" y="259.00" font-size="6.6" text-anchor="middle">0.8</text>
<text class="ls" x="25.10" y="162.70" font-size="6.6" text-anchor="end">0.8</text>
<line x1="184.30" x2="184.30" y1="250.7" y2="252.5" stroke="#000" stroke-width="0.4"/>
<line x1="26.5" x2="28.3" y1="137.70" y2="137.70" stroke="#000" stroke-width="0.4"/>
<text class="ls" x="184.30" y="259.00" font-size="6.6" text-anchor="middle">1.0</text>
<text class="ls" x="25.10" y="140.10" font-size="6.6" text-anchor="end">1.0</text>
<text class="ls" x="103.80" y="264.70" font-size="8.0" text-anchor="middle">False Positive Rate</text>
<text class="ls" x="13.00" y="191.40" font-size="8.0" text-anchor="middle" transform="rotate(-90 13.00 191.40)">True Positive Rate</text>
<rect x="30.3" y="185.7" width="80.2" height="62" rx="1" fill="#fff" fill-opacity="0.8" stroke="#ccc" stroke-width="0.5"/>
<line x1="33.9" x2="45" y1="190.2" y2="190.2" stroke="#a64dff" stroke-width="1.0"/>
<text class="dv" x="49.60" y="192.30" font-size="5.85" fill="#222">Group Lasso</text>
<line x1="33.9" x2="45" y1="199.2" y2="199.2" stroke="#b0b0b0" stroke-width="1.0"/>
<text class="dv" x="49.60" y="201.30" font-size="5.85" fill="#222">Multi-level Lasso</text>
<line x1="33.9" x2="45" y1="208.2" y2="208.2" stroke="#f5e27a" stroke-width="1.0"/>
<text class="dv" x="49.60" y="210.30" font-size="5.85" fill="#222">Exclusive Lasso</text>
<line x1="33.9" x2="45" y1="217.1" y2="217.1" stroke="#90ee90" stroke-width="1.0"/>
<text class="dv" x="49.60" y="219.20" font-size="5.85" fill="#222">Simultaneous Lasso</text>
<line x1="33.9" x2="45" y1="226" y2="226" stroke="#e8872a" stroke-width="1.0"/>
<text class="dv" x="49.6" y="228.1" font-size="5.85" fill="#222"><tspan font-style="italic">ℓ</tspan><tspan font-size="4.1" dy="1.1">12</tspan><tspan dy="-1.1">-FS</tspan></text>
<line x1="33.9" x2="45" y1="234.6" y2="234.6" stroke="#2e8ff0" stroke-width="1.0"/>
<text class="dv" x="49.60" y="236.70" font-size="5.85" fill="#222">Graph-FS</text>
<line x1="33.9" x2="45" y1="242.8" y2="242.8" stroke="#ff5a2a" stroke-width="1.0"/>
<text class="dv" x="49.60" y="244.90" font-size="5.85" fill="#222">HMTFS</text>
<rect x="214.5" y="137.6" width="151.70" height="112.60" fill="none" stroke="#222" stroke-width="0.45"/>
<line x1="214.50" x2="214.50" y1="250.2" y2="252.0" stroke="#222" stroke-width="0.4"/>
<text class="dv" x="214.50" y="257.40" font-size="5.8" text-anchor="middle" fill="#222">−10.0</text>
<line x1="233.46" x2="233.46" y1="250.2" y2="252.0" stroke="#222" stroke-width="0.4"/>
<text class="dv" x="233.46" y="257.40" font-size="5.8" text-anchor="middle" fill="#222">−7.5</text>
<line x1="252.43" x2="252.43" y1="250.2" y2="252.0" stroke="#222" stroke-width="0.4"/>
<text class="dv" x="252.43" y="257.40" font-size="5.8" text-anchor="middle" fill="#222">−5.0</text>
<line x1="271.39" x2="271.39" y1="250.2" y2="252.0" stroke="#222" stroke-width="0.4"/>
<text class="dv" x="271.39" y="257.40" font-size="5.8" text-anchor="middle" fill="#222">−2.5</text>
<line x1="290.35" x2="290.35" y1="250.2" y2="252.0" stroke="#222" stroke-width="0.4"/>
<text class="dv" x="290.35" y="257.40" font-size="5.8" text-anchor="middle" fill="#222">0.0</text>
<line x1="309.31" x2="309.31" y1="250.2" y2="252.0" stroke="#222" stroke-width="0.4"/>
<text class="dv" x="309.31" y="257.40" font-size="5.8" text-anchor="middle" fill="#222">2.5</text>
<line x1="328.27" x2="328.27" y1="250.2" y2="252.0" stroke="#222" stroke-width="0.4"/>
<text class="dv" x="328.27" y="257.40" font-size="5.8" text-anchor="middle" fill="#222">5.0</text>
<line x1="347.24" x2="347.24" y1="250.2" y2="252.0" stroke="#222" stroke-width="0.4"/>
<text class="dv" x="347.24" y="257.40" font-size="5.8" text-anchor="middle" fill="#222">7.5</text>
<line x1="366.20" x2="366.20" y1="250.2" y2="252.0" stroke="#222" stroke-width="0.4"/>
<text class="dv" x="366.20" y="257.40" font-size="5.8" text-anchor="middle" fill="#222">10.0</text>
<line x1="212.7" x2="214.5" y1="137.60" y2="137.60" stroke="#222" stroke-width="0.4"/>
<text class="dv" x="211.90" y="139.70" font-size="5.8" text-anchor="end" fill="#222">10.0</text>
<line x1="212.7" x2="214.5" y1="151.67" y2="151.67" stroke="#222" stroke-width="0.4"/>
<text class="dv" x="211.90" y="153.77" font-size="5.8" text-anchor="end" fill="#222">7.5</text>
<line x1="212.7" x2="214.5" y1="165.75" y2="165.75" stroke="#222" stroke-width="0.4"/>
<text class="dv" x="211.90" y="167.85" font-size="5.8" text-anchor="end" fill="#222">5.0</text>
<line x1="212.7" x2="214.5" y1="179.82" y2="179.82" stroke="#222" stroke-width="0.4"/>
<text class="dv" x="211.90" y="181.92" font-size="5.8" text-anchor="end" fill="#222">2.5</text>
<line x1="212.7" x2="214.5" y1="193.90" y2="193.90" stroke="#222" stroke-width="0.4"/>
<text class="dv" x="211.90" y="196.00" font-size="5.8" text-anchor="end" fill="#222">0.0</text>
<line x1="212.7" x2="214.5" y1="207.97" y2="207.97" stroke="#222" stroke-width="0.4"/>
<text class="dv" x="211.90" y="210.07" font-size="5.8" text-anchor="end" fill="#222">−2.5</text>
<line x1="212.7" x2="214.5" y1="222.05" y2="222.05" stroke="#222" stroke-width="0.4"/>
<text class="dv" x="211.90" y="224.15" font-size="5.8" text-anchor="end" fill="#222">−5.0</text>
<line x1="212.7" x2="214.5" y1="236.12" y2="236.12" stroke="#222" stroke-width="0.4"/>
<text class="dv" x="211.90" y="238.22" font-size="5.8" text-anchor="end" fill="#222">−7.5</text>
<line x1="212.7" x2="214.5" y1="250.20" y2="250.20" stroke="#222" stroke-width="0.4"/>
<text class="dv" x="211.90" y="252.30" font-size="5.8" text-anchor="end" fill="#222">−10.0</text>
<text class="ls" x="290.70" y="265.80" font-size="7.65" text-anchor="middle">Dimension 1</text>
<text class="ls" x="195.60" y="194.20" font-size="7.65" text-anchor="middle" transform="rotate(-90 195.60 194.20)">Dimension 2</text>
<ellipse cx="287.4" cy="202.6" rx="25.8" ry="21.7" fill="#ffd400" transform="rotate(18 287.4 202.6)"/>
<g fill="#ffd400"><circle cx="263.3" cy="186.6" r="1.35"/><circle cx="287.5" cy="179.2" r="1.35"/><circle cx="275.2" cy="219.8" r="1.35"/><circle cx="263.3" cy="193.2" r="1.35"/><circle cx="310.4" cy="196.1" r="1.35"/><circle cx="310.2" cy="196.6" r="1.35"/><circle cx="299.4" cy="221.9" r="1.35"/><circle cx="287.5" cy="224.6" r="1.35"/><circle cx="309.1" cy="217.1" r="1.35"/><circle cx="260.1" cy="202.7" r="1.35"/><circle cx="311.6" cy="215.0" r="1.35"/><circle cx="262.9" cy="200.5" r="1.35"/><circle cx="278.4" cy="181.5" r="1.35"/><circle cx="276.6" cy="221.3" r="1.35"/><circle cx="282.4" cy="180.4" r="1.35"/><circle cx="268.1" cy="182.4" r="1.35"/><circle cx="310.6" cy="213.5" r="1.35"/><circle cx="264.1" cy="185.7" r="1.35"/><circle cx="279.4" cy="222.4" r="1.35"/><circle cx="263.4" cy="206.1" r="1.35"/><circle cx="275.1" cy="222.1" r="1.35"/><circle cx="285.2" cy="181.5" r="1.35"/><circle cx="262.4" cy="202.7" r="1.35"/><circle cx="295.2" cy="223.7" r="1.35"/><circle cx="265.7" cy="189.3" r="1.35"/><circle cx="298.3" cy="184.5" r="1.35"/><circle cx="272.4" cy="219.4" r="1.35"/><circle cx="284.9" cy="226.6" r="1.35"/><circle cx="265.1" cy="209.6" r="1.35"/><circle cx="315.5" cy="201.8" r="1.35"/><circle cx="317.8" cy="208.4" r="1.35"/><circle cx="282.1" cy="181.6" r="1.35"/><circle cx="311.5" cy="197.3" r="1.35"/><circle cx="306.4" cy="190.4" r="1.35"/><circle cx="263.8" cy="211.6" r="1.35"/><circle cx="304.5" cy="220.8" r="1.35"/><circle cx="279.1" cy="181.6" r="1.35"/><circle cx="267.0" cy="187.9" r="1.35"/><circle cx="262.0" cy="215.5" r="1.35"/><circle cx="284.7" cy="223.7" r="1.35"/><circle cx="263.7" cy="207.3" r="1.35"/><circle cx="262.2" cy="198.8" r="1.35"/><circle cx="278.1" cy="221.4" r="1.35"/><circle cx="273.6" cy="221.7" r="1.35"/><circle cx="262.7" cy="200.4" r="1.35"/><circle cx="312.0" cy="189.9" r="1.35"/><circle cx="268.9" cy="184.2" r="1.35"/><circle cx="275.6" cy="221.3" r="1.35"/><circle cx="275.9" cy="222.6" r="1.35"/><circle cx="258.7" cy="200.5" r="1.35"/><circle cx="287.8" cy="224.8" r="1.35"/><circle cx="288.5" cy="227.9" r="1.35"/><circle cx="262.3" cy="192.3" r="1.35"/><circle cx="304.3" cy="219.6" r="1.35"/><circle cx="259.5" cy="196.1" r="1.35"/><circle cx="262.8" cy="215.0" r="1.35"/><circle cx="287.4" cy="180.5" r="1.35"/><circle cx="293.5" cy="182.3" r="1.35"/><circle cx="284.7" cy="179.7" r="1.35"/><circle cx="284.6" cy="181.2" r="1.35"/><circle cx="265.1" cy="211.8" r="1.35"/><circle cx="281.1" cy="180.4" r="1.35"/><circle cx="264.7" cy="218.5" r="1.35"/><circle cx="268.1" cy="186.2" r="1.35"/><circle cx="270.9" cy="216.7" r="1.35"/><circle cx="260.1" cy="202.0" r="1.35"/><circle cx="307.1" cy="217.4" r="1.35"/><circle cx="281.6" cy="224.3" r="1.35"/><circle cx="312.4" cy="206.7" r="1.35"/><circle cx="283.4" cy="226.3" r="1.35"/><circle cx="284.6" cy="178.6" r="1.35"/><circle cx="278.2" cy="180.7" r="1.35"/><circle cx="289.9" cy="181.7" r="1.35"/><circle cx="260.6" cy="197.7" r="1.35"/><circle cx="270.2" cy="183.3" r="1.35"/><circle cx="307.7" cy="218.8" r="1.35"/><circle cx="308.5" cy="220.5" r="1.35"/><circle cx="288.8" cy="224.7" r="1.35"/><circle cx="296.3" cy="224.4" r="1.35"/><circle cx="302.7" cy="220.4" r="1.35"/><circle cx="299.9" cy="223.8" r="1.35"/><circle cx="263.8" cy="186.5" r="1.35"/><circle cx="290.4" cy="223.8" r="1.35"/><circle cx="313.1" cy="204.1" r="1.35"/><circle cx="283.3" cy="181.0" r="1.35"/><circle cx="266.3" cy="190.2" r="1.35"/><circle cx="287.3" cy="180.4" r="1.35"/><circle cx="278.3" cy="223.1" r="1.35"/><circle cx="315.5" cy="200.3" r="1.35"/><circle cx="309.3" cy="187.1" r="1.35"/><circle cx="290.3" cy="181.6" r="1.35"/><circle cx="263.4" cy="197.5" r="1.35"/><circle cx="306.1" cy="190.0" r="1.35"/><circle cx="293.7" cy="180.3" r="1.35"/><circle cx="279.0" cy="178.1" r="1.35"/><circle cx="313.5" cy="198.6" r="1.35"/><circle cx="275.9" cy="181.7" r="1.35"/><circle cx="265.0" cy="213.2" r="1.35"/><circle cx="265.2" cy="187.5" r="1.35"/><circle cx="289.4" cy="227.0" r="1.35"/><circle cx="289.8" cy="224.4" r="1.35"/><circle cx="290.5" cy="179.7" r="1.35"/><circle cx="300.4" cy="182.5" r="1.35"/><circle cx="313.7" cy="207.0" r="1.35"/><circle cx="308.3" cy="190.1" r="1.35"/><circle cx="264.5" cy="188.7" r="1.35"/><circle cx="304.7" cy="220.5" r="1.35"/><circle cx="260.4" cy="195.5" r="1.35"/><circle cx="313.2" cy="200.7" r="1.35"/><circle cx="300.8" cy="182.7" r="1.35"/><circle cx="263.4" cy="196.8" r="1.35"/><circle cx="262.3" cy="200.7" r="1.35"/><circle cx="285.7" cy="224.7" r="1.35"/><circle cx="292.7" cy="226.9" r="1.35"/><circle cx="305.9" cy="218.5" r="1.35"/><circle cx="310.6" cy="196.0" r="1.35"/><circle cx="276.6" cy="180.9" r="1.35"/><circle cx="297.0" cy="222.8" r="1.35"/><circle cx="263.7" cy="206.2" r="1.35"/><circle cx="312.3" cy="218.7" r="1.35"/><circle cx="287.1" cy="224.1" r="1.35"/><circle cx="291.5" cy="178.6" r="1.35"/><circle cx="279.0" cy="182.1" r="1.35"/><circle cx="259.9" cy="196.9" r="1.35"/><circle cx="275.5" cy="224.4" r="1.35"/><circle cx="278.9" cy="181.5" r="1.35"/><circle cx="313.7" cy="204.8" r="1.35"/><circle cx="261.2" cy="203.4" r="1.35"/><circle cx="308.2" cy="219.8" r="1.35"/><circle cx="311.4" cy="219.8" r="1.35"/><circle cx="305.1" cy="219.5" r="1.35"/><circle cx="313.8" cy="205.3" r="1.35"/><circle cx="266.2" cy="190.2" r="1.35"/><circle cx="306.4" cy="188.8" r="1.35"/><circle cx="293.6" cy="225.4" r="1.35"/><circle cx="278.4" cy="224.5" r="1.35"/><circle cx="285.0" cy="180.9" r="1.35"/><circle cx="314.1" cy="195.5" r="1.35"/><circle cx="268.4" cy="215.7" r="1.35"/><circle cx="310.1" cy="220.3" r="1.35"/><circle cx="308.0" cy="192.6" r="1.35"/><circle cx="274.7" cy="220.5" r="1.35"/><circle cx="292.7" cy="181.7" r="1.35"/><circle cx="295.5" cy="225.0" r="1.35"/><circle cx="285.5" cy="181.3" r="1.35"/><circle cx="309.4" cy="187.6" r="1.35"/><circle cx="290.6" cy="180.4" r="1.35"/><circle cx="264.6" cy="214.6" r="1.35"/><circle cx="290.7" cy="179.4" r="1.35"/><circle cx="299.0" cy="225.5" r="1.35"/><circle cx="271.9" cy="218.2" r="1.35"/><circle cx="257.0" cy="206.3" r="1.35"/><circle cx="309.2" cy="194.1" r="1.35"/><circle cx="295.5" cy="223.2" r="1.35"/><circle cx="310.9" cy="193.9" r="1.35"/><circle cx="301.0" cy="185.6" r="1.35"/><circle cx="311.9" cy="206.6" r="1.35"/><circle cx="265.0" cy="212.9" r="1.35"/><circle cx="287.8" cy="223.9" r="1.35"/><circle cx="282.3" cy="223.1" r="1.35"/><circle cx="307.2" cy="186.2" r="1.35"/><circle cx="314.4" cy="206.1" r="1.35"/><circle cx="286.0" cy="180.6" r="1.35"/><circle cx="262.8" cy="197.0" r="1.35"/><circle cx="275.8" cy="220.0" r="1.35"/><circle cx="307.2" cy="187.5" r="1.35"/><circle cx="310.0" cy="193.0" r="1.35"/><circle cx="303.9" cy="220.1" r="1.35"/><circle cx="286.1" cy="223.9" r="1.35"/><circle cx="304.8" cy="188.9" r="1.35"/><circle cx="307.1" cy="190.4" r="1.35"/><circle cx="271.4" cy="218.5" r="1.35"/><circle cx="275.4" cy="223.0" r="1.35"/><circle cx="262.7" cy="204.0" r="1.35"/><circle cx="264.0" cy="189.1" r="1.35"/><circle cx="303.1" cy="220.0" r="1.35"/><circle cx="307.6" cy="187.9" r="1.35"/><circle cx="263.0" cy="189.3" r="1.35"/><circle cx="297.9" cy="183.5" r="1.35"/><circle cx="283.7" cy="223.9" r="1.35"/><circle cx="312.2" cy="205.8" r="1.35"/><circle cx="294.7" cy="180.7" r="1.35"/><circle cx="267.1" cy="216.1" r="1.35"/><circle cx="314.7" cy="203.7" r="1.35"/><circle cx="286.2" cy="179.5" r="1.35"/><circle cx="305.8" cy="189.8" r="1.35"/><circle cx="311.8" cy="217.8" r="1.35"/><circle cx="307.4" cy="216.6" r="1.35"/><circle cx="293.4" cy="180.1" r="1.35"/><circle cx="272.0" cy="220.3" r="1.35"/><circle cx="264.0" cy="192.6" r="1.35"/><circle cx="295.4" cy="223.9" r="1.35"/><circle cx="312.9" cy="207.7" r="1.35"/><circle cx="263.0" cy="194.3" r="1.35"/><circle cx="304.2" cy="188.9" r="1.35"/><circle cx="305.9" cy="218.6" r="1.35"/><circle cx="257.1" cy="196.4" r="1.35"/><circle cx="307.4" cy="217.7" r="1.35"/><circle cx="309.3" cy="195.2" r="1.35"/><circle cx="260.6" cy="201.9" r="1.35"/><circle cx="309.7" cy="220.7" r="1.35"/><circle cx="306.4" cy="219.5" r="1.35"/><circle cx="266.1" cy="190.4" r="1.35"/><circle cx="307.0" cy="219.8" r="1.35"/><circle cx="291.0" cy="223.8" r="1.35"/><circle cx="261.5" cy="203.3" r="1.35"/><circle cx="261.0" cy="194.4" r="1.35"/><circle cx="268.9" cy="184.8" r="1.35"/><circle cx="274.5" cy="183.1" r="1.35"/><circle cx="264.8" cy="212.1" r="1.35"/><circle cx="272.2" cy="180.2" r="1.35"/><circle cx="295.1" cy="223.7" r="1.35"/><circle cx="276.8" cy="221.7" r="1.35"/><circle cx="301.4" cy="185.0" r="1.35"/><circle cx="295.8" cy="223.8" r="1.35"/><circle cx="284.9" cy="224.6" r="1.35"/><circle cx="281.6" cy="224.2" r="1.35"/><circle cx="260.9" cy="197.1" r="1.35"/><circle cx="312.4" cy="210.8" r="1.35"/><circle cx="311.7" cy="215.1" r="1.35"/><circle cx="262.1" cy="199.8" r="1.35"/><circle cx="294.4" cy="224.1" r="1.35"/><circle cx="283.0" cy="180.8" r="1.35"/><circle cx="300.1" cy="185.8" r="1.35"/><circle cx="267.7" cy="184.7" r="1.35"/><circle cx="285.4" cy="181.5" r="1.35"/><circle cx="261.2" cy="210.3" r="1.35"/><circle cx="308.5" cy="215.8" r="1.35"/><circle cx="261.6" cy="202.9" r="1.35"/><circle cx="263.5" cy="212.8" r="1.35"/><circle cx="270.7" cy="183.8" r="1.35"/><circle cx="299.2" cy="224.2" r="1.35"/><circle cx="283.8" cy="226.5" r="1.35"/><circle cx="303.2" cy="186.8" r="1.35"/><circle cx="278.1" cy="223.3" r="1.35"/><circle cx="261.5" cy="207.1" r="1.35"/><circle cx="314.1" cy="201.8" r="1.35"/><circle cx="277.3" cy="220.9" r="1.35"/><circle cx="296.7" cy="222.9" r="1.35"/><circle cx="286.5" cy="181.2" r="1.35"/></g>
<ellipse cx="306" cy="216.5" rx="18.0" ry="13.2" fill="#ffd400" transform="rotate(12 306 216.5)"/>
<g fill="#ffd400"><circle cx="314.8" cy="206.3" r="1.35"/><circle cx="327.4" cy="221.8" r="1.35"/><circle cx="288.5" cy="217.4" r="1.35"/><circle cx="303.2" cy="230.4" r="1.35"/><circle cx="302.5" cy="202.8" r="1.35"/><circle cx="299.0" cy="203.1" r="1.35"/><circle cx="287.1" cy="215.9" r="1.35"/><circle cx="303.9" cy="203.0" r="1.35"/><circle cx="324.7" cy="218.5" r="1.35"/><circle cx="318.7" cy="226.4" r="1.35"/><circle cx="290.8" cy="208.1" r="1.35"/><circle cx="299.7" cy="201.3" r="1.35"/><circle cx="294.2" cy="201.9" r="1.35"/><circle cx="301.7" cy="229.6" r="1.35"/><circle cx="320.6" cy="209.9" r="1.35"/><circle cx="303.8" cy="229.0" r="1.35"/><circle cx="317.9" cy="208.1" r="1.35"/><circle cx="288.0" cy="215.2" r="1.35"/><circle cx="314.9" cy="229.1" r="1.35"/><circle cx="316.2" cy="206.8" r="1.35"/><circle cx="321.9" cy="227.0" r="1.35"/><circle cx="313.3" cy="205.5" r="1.35"/><circle cx="292.3" cy="205.0" r="1.35"/><circle cx="322.6" cy="209.2" r="1.35"/><circle cx="315.0" cy="204.7" r="1.35"/><circle cx="288.8" cy="221.3" r="1.35"/><circle cx="317.3" cy="230.9" r="1.35"/><circle cx="301.3" cy="229.4" r="1.35"/><circle cx="323.1" cy="220.2" r="1.35"/><circle cx="298.2" cy="203.7" r="1.35"/><circle cx="320.6" cy="226.9" r="1.35"/><circle cx="311.8" cy="231.7" r="1.35"/><circle cx="303.7" cy="230.4" r="1.35"/><circle cx="286.9" cy="221.3" r="1.35"/><circle cx="300.8" cy="200.1" r="1.35"/><circle cx="289.1" cy="217.4" r="1.35"/><circle cx="287.7" cy="212.3" r="1.35"/><circle cx="318.7" cy="226.4" r="1.35"/><circle cx="294.5" cy="225.4" r="1.35"/><circle cx="308.2" cy="230.6" r="1.35"/><circle cx="307.7" cy="202.2" r="1.35"/><circle cx="323.5" cy="221.7" r="1.35"/><circle cx="293.3" cy="203.6" r="1.35"/><circle cx="302.7" cy="202.0" r="1.35"/><circle cx="287.6" cy="212.2" r="1.35"/><circle cx="321.6" cy="223.4" r="1.35"/><circle cx="302.9" cy="230.3" r="1.35"/><circle cx="304.4" cy="231.2" r="1.35"/><circle cx="301.1" cy="229.3" r="1.35"/><circle cx="301.7" cy="229.5" r="1.35"/><circle cx="325.4" cy="218.1" r="1.35"/><circle cx="313.0" cy="205.2" r="1.35"/><circle cx="321.4" cy="211.2" r="1.35"/><circle cx="304.6" cy="201.9" r="1.35"/><circle cx="294.2" cy="224.6" r="1.35"/><circle cx="323.3" cy="215.4" r="1.35"/><circle cx="286.8" cy="213.8" r="1.35"/><circle cx="310.8" cy="230.8" r="1.35"/><circle cx="306.5" cy="203.0" r="1.35"/><circle cx="301.9" cy="230.4" r="1.35"/><circle cx="316.3" cy="206.5" r="1.35"/><circle cx="307.6" cy="203.9" r="1.35"/><circle cx="298.0" cy="229.7" r="1.35"/><circle cx="281.8" cy="216.0" r="1.35"/><circle cx="304.9" cy="203.3" r="1.35"/><circle cx="299.6" cy="203.3" r="1.35"/><circle cx="287.8" cy="210.2" r="1.35"/><circle cx="307.4" cy="231.5" r="1.35"/><circle cx="295.1" cy="226.8" r="1.35"/><circle cx="302.2" cy="201.7" r="1.35"/><circle cx="285.6" cy="216.3" r="1.35"/><circle cx="305.0" cy="201.4" r="1.35"/><circle cx="301.4" cy="203.0" r="1.35"/><circle cx="292.3" cy="224.8" r="1.35"/><circle cx="320.7" cy="228.7" r="1.35"/><circle cx="301.2" cy="203.4" r="1.35"/><circle cx="293.5" cy="224.1" r="1.35"/><circle cx="290.6" cy="207.7" r="1.35"/><circle cx="318.2" cy="230.2" r="1.35"/><circle cx="314.6" cy="229.1" r="1.35"/><circle cx="287.8" cy="219.3" r="1.35"/><circle cx="299.9" cy="203.5" r="1.35"/><circle cx="316.8" cy="227.6" r="1.35"/><circle cx="311.8" cy="203.5" r="1.35"/><circle cx="319.1" cy="208.1" r="1.35"/><circle cx="300.3" cy="203.7" r="1.35"/><circle cx="308.6" cy="204.2" r="1.35"/><circle cx="304.5" cy="229.9" r="1.35"/><circle cx="319.3" cy="227.7" r="1.35"/><circle cx="294.0" cy="227.1" r="1.35"/><circle cx="316.4" cy="228.3" r="1.35"/><circle cx="288.4" cy="219.9" r="1.35"/><circle cx="310.4" cy="202.4" r="1.35"/><circle cx="299.0" cy="230.2" r="1.35"/><circle cx="318.7" cy="208.8" r="1.35"/><circle cx="288.8" cy="216.7" r="1.35"/><circle cx="312.9" cy="229.5" r="1.35"/><circle cx="297.5" cy="204.7" r="1.35"/><circle cx="288.3" cy="217.9" r="1.35"/><circle cx="294.4" cy="226.6" r="1.35"/><circle cx="288.7" cy="211.4" r="1.35"/><circle cx="323.2" cy="219.4" r="1.35"/><circle cx="309.2" cy="202.7" r="1.35"/><circle cx="297.8" cy="229.2" r="1.35"/><circle cx="323.0" cy="214.2" r="1.35"/><circle cx="310.5" cy="229.8" r="1.35"/><circle cx="289.1" cy="220.6" r="1.35"/><circle cx="292.0" cy="223.1" r="1.35"/><circle cx="324.4" cy="219.2" r="1.35"/><circle cx="326.4" cy="221.3" r="1.35"/></g>
<path d="M275.0,226.6C275.0,225.0 281.1,217.4 283.3,214.9C285.4,212.5 290.7,206.8 293.3,205.8C295.8,204.7 302.4,206.2 304.9,205.8C307.4,205.4 312.8,203.7 314.9,202.4C317.0,201.2 322.0,194.9 323.2,195.0C324.4,195.1 325.4,201.1 325.2,203.3C325.0,205.4 321.8,210.9 321.5,213.3C321.3,215.6 323.8,221.5 323.2,223.2C322.6,225.0 318.5,227.0 316.6,228.2C314.6,229.5 309.5,233.9 306.6,234.1C303.7,234.3 294.3,230.6 291.6,229.9C288.9,229.2 285.2,228.6 283.3,228.2C281.3,227.8 275.0,228.1 275.0,226.6Z" fill="#40e0d0"/>
<g fill="#40e0d0"><circle cx="277.5" cy="223.2" r="1.35"/><circle cx="281.4" cy="216.4" r="1.35"/><circle cx="280.7" cy="218.0" r="1.35"/><circle cx="283.1" cy="213.6" r="1.35"/><circle cx="278.1" cy="223.2" r="1.35"/><circle cx="288.5" cy="210.3" r="1.35"/><circle cx="286.0" cy="212.3" r="1.35"/><circle cx="290.8" cy="207.7" r="1.35"/><circle cx="288.1" cy="210.9" r="1.35"/><circle cx="290.0" cy="209.6" r="1.35"/><circle cx="303.5" cy="206.9" r="1.35"/><circle cx="299.9" cy="205.8" r="1.35"/><circle cx="299.0" cy="205.9" r="1.35"/><circle cx="296.9" cy="205.5" r="1.35"/><circle cx="305.1" cy="206.6" r="1.35"/><circle cx="308.5" cy="204.2" r="1.35"/><circle cx="305.3" cy="205.7" r="1.35"/><circle cx="313.5" cy="203.1" r="1.35"/><circle cx="308.7" cy="203.0" r="1.35"/><circle cx="309.9" cy="204.9" r="1.35"/><circle cx="318.0" cy="199.6" r="1.35"/><circle cx="318.3" cy="198.7" r="1.35"/><circle cx="320.1" cy="198.0" r="1.35"/><circle cx="318.0" cy="198.4" r="1.35"/><circle cx="316.7" cy="201.6" r="1.35"/><circle cx="325.4" cy="202.0" r="1.35"/><circle cx="325.1" cy="202.2" r="1.35"/><circle cx="325.2" cy="201.9" r="1.35"/><circle cx="325.3" cy="201.3" r="1.35"/><circle cx="324.5" cy="200.1" r="1.35"/><circle cx="321.9" cy="208.7" r="1.35"/><circle cx="323.5" cy="206.9" r="1.35"/><circle cx="323.5" cy="206.2" r="1.35"/><circle cx="322.5" cy="211.9" r="1.35"/><circle cx="323.9" cy="208.9" r="1.35"/><circle cx="323.1" cy="220.1" r="1.35"/><circle cx="321.9" cy="221.2" r="1.35"/><circle cx="320.7" cy="213.5" r="1.35"/><circle cx="322.9" cy="219.0" r="1.35"/><circle cx="323.0" cy="218.9" r="1.35"/><circle cx="318.5" cy="227.2" r="1.35"/><circle cx="320.5" cy="223.8" r="1.35"/><circle cx="322.2" cy="223.8" r="1.35"/><circle cx="321.8" cy="224.1" r="1.35"/><circle cx="317.8" cy="228.4" r="1.35"/><circle cx="315.3" cy="229.4" r="1.35"/><circle cx="314.3" cy="230.0" r="1.35"/><circle cx="311.0" cy="231.5" r="1.35"/><circle cx="308.6" cy="232.3" r="1.35"/><circle cx="314.3" cy="231.0" r="1.35"/><circle cx="304.0" cy="233.1" r="1.35"/><circle cx="294.2" cy="230.1" r="1.35"/><circle cx="299.2" cy="231.7" r="1.35"/><circle cx="291.9" cy="230.0" r="1.35"/><circle cx="302.0" cy="232.7" r="1.35"/><circle cx="288.9" cy="228.6" r="1.35"/><circle cx="287.2" cy="227.7" r="1.35"/><circle cx="289.2" cy="229.6" r="1.35"/><circle cx="291.7" cy="229.7" r="1.35"/><circle cx="289.7" cy="228.4" r="1.35"/><circle cx="279.7" cy="227.3" r="1.35"/><circle cx="276.8" cy="226.6" r="1.35"/><circle cx="277.5" cy="226.2" r="1.35"/><circle cx="279.7" cy="228.7" r="1.35"/><circle cx="278.9" cy="227.5" r="1.35"/></g>
<g fill="#ffd400"><circle cx="294.9" cy="214.9" r="1.35"/><circle cx="297.4" cy="219.9" r="1.35"/><circle cx="294.1" cy="224.1" r="1.35"/><circle cx="299.9" cy="228.2" r="1.35"/><circle cx="306.6" cy="219.9" r="1.35"/><circle cx="307.4" cy="224.9" r="1.35"/><circle cx="304.9" cy="211.6" r="1.35"/><circle cx="314.1" cy="214.1" r="1.35"/><circle cx="315.7" cy="219.9" r="1.35"/><circle cx="309.9" cy="227.4" r="1.35"/><circle cx="319.9" cy="208.3" r="1.35"/><circle cx="322.4" cy="217.4" r="1.35"/><circle cx="318.2" cy="223.2" r="1.35"/><circle cx="316.6" cy="203.3" r="1.35"/><circle cx="299.9" cy="209.1" r="1.35"/><circle cx="289.9" cy="219.9" r="1.35"/><circle cx="313.2" cy="208.3" r="1.35"/><circle cx="325.7" cy="210.8" r="1.35"/><circle cx="327.4" cy="214.9" r="1.35"/><circle cx="324.0" cy="219.9" r="1.35"/><circle cx="299.9" cy="234.1" r="1.35"/><circle cx="289.1" cy="231.6" r="1.35"/><circle cx="281.6" cy="226.6" r="1.35"/><circle cx="284.9" cy="229.1" r="1.35"/><circle cx="315.8" cy="231.5" r="1.35"/><circle cx="325.8" cy="219.8" r="1.35"/><circle cx="324.9" cy="208.3" r="1.35"/><circle cx="327.5" cy="207.5" r="1.35"/><circle cx="326.8" cy="218.4" r="1.35"/><circle cx="320.8" cy="217.3" r="1.35"/><circle cx="324.0" cy="205.5" r="1.35"/><circle cx="316.3" cy="228.6" r="1.35"/><circle cx="325.2" cy="207.3" r="1.35"/><circle cx="326.9" cy="219.6" r="1.35"/><circle cx="320.4" cy="216.9" r="1.35"/><circle cx="311.4" cy="227.5" r="1.35"/><circle cx="327.5" cy="207.1" r="1.35"/><circle cx="324.1" cy="220.6" r="1.35"/><circle cx="324.0" cy="210.8" r="1.35"/><circle cx="325.1" cy="205.0" r="1.35"/><circle cx="321.4" cy="208.5" r="1.35"/><circle cx="318.8" cy="203.1" r="1.35"/><circle cx="315.2" cy="226.3" r="1.35"/><circle cx="322.8" cy="202.4" r="1.35"/><circle cx="325.4" cy="204.8" r="1.35"/><circle cx="323.2" cy="220.9" r="1.35"/><circle cx="323.9" cy="212.4" r="1.35"/><circle cx="326.3" cy="210.9" r="1.35"/><circle cx="315.2" cy="198.9" r="1.35"/><circle cx="323.7" cy="221.8" r="1.35"/><circle cx="322.6" cy="216.0" r="1.35"/><circle cx="321.9" cy="202.6" r="1.35"/><circle cx="324.1" cy="203.4" r="1.35"/><circle cx="321.9" cy="224.3" r="1.35"/><circle cx="326.4" cy="219.3" r="1.35"/><circle cx="322.9" cy="215.3" r="1.35"/><circle cx="319.3" cy="204.3" r="1.35"/><circle cx="325.7" cy="218.6" r="1.35"/><circle cx="321.2" cy="217.2" r="1.35"/><circle cx="323.8" cy="221.9" r="1.35"/><circle cx="324.6" cy="208.0" r="1.35"/><circle cx="317.6" cy="197.6" r="1.35"/><circle cx="314.2" cy="197.4" r="1.35"/><circle cx="320.1" cy="225.4" r="1.35"/><circle cx="327.3" cy="207.8" r="1.35"/><circle cx="326.7" cy="219.3" r="1.35"/><circle cx="325.9" cy="213.0" r="1.35"/><circle cx="320.2" cy="218.1" r="1.35"/><circle cx="317.1" cy="201.4" r="1.35"/><circle cx="324.3" cy="200.5" r="1.35"/><circle cx="324.4" cy="220.7" r="1.35"/><circle cx="314.0" cy="226.4" r="1.35"/><circle cx="321.1" cy="223.1" r="1.35"/><circle cx="326.1" cy="208.2" r="1.35"/><circle cx="320.2" cy="224.9" r="1.35"/><circle cx="324.9" cy="221.6" r="1.35"/><circle cx="326.6" cy="207.3" r="1.35"/><circle cx="327.9" cy="212.5" r="1.35"/><circle cx="322.6" cy="222.2" r="1.35"/><circle cx="286.2" cy="227.3" r="1.35"/><circle cx="308.4" cy="231.4" r="1.35"/><circle cx="303.8" cy="234.7" r="1.35"/><circle cx="309.7" cy="231.6" r="1.35"/><circle cx="298.3" cy="229.8" r="1.35"/><circle cx="293.6" cy="231.4" r="1.35"/><circle cx="301.7" cy="234.7" r="1.35"/><circle cx="311.8" cy="231.0" r="1.35"/><circle cx="306.1" cy="231.8" r="1.35"/><circle cx="303.9" cy="233.1" r="1.35"/><circle cx="289.9" cy="226.7" r="1.35"/><circle cx="300.3" cy="233.4" r="1.35"/><circle cx="306.0" cy="230.9" r="1.35"/><circle cx="288.6" cy="226.1" r="1.35"/><circle cx="296.8" cy="232.9" r="1.35"/><circle cx="295.6" cy="228.9" r="1.35"/><circle cx="288.7" cy="225.5" r="1.35"/><circle cx="313.7" cy="229.6" r="1.35"/><circle cx="311.9" cy="229.0" r="1.35"/><circle cx="290.9" cy="230.3" r="1.35"/><circle cx="296.7" cy="234.1" r="1.35"/><circle cx="312.9" cy="232.7" r="1.35"/><circle cx="295.1" cy="232.5" r="1.35"/><circle cx="315.2" cy="230.9" r="1.35"/><circle cx="302.9" cy="231.5" r="1.35"/><circle cx="295.7" cy="230.9" r="1.35"/><circle cx="285.6" cy="229.8" r="1.35"/><circle cx="303.5" cy="230.5" r="1.35"/><circle cx="302.7" cy="234.9" r="1.35"/><circle cx="305.7" cy="231.8" r="1.35"/><circle cx="308.8" cy="231.1" r="1.35"/><circle cx="287.3" cy="227.3" r="1.35"/><circle cx="314.5" cy="229.6" r="1.35"/><circle cx="291.7" cy="229.3" r="1.35"/><circle cx="311.2" cy="229.5" r="1.35"/><circle cx="291.3" cy="229.9" r="1.35"/><circle cx="314.5" cy="230.1" r="1.35"/><circle cx="307.0" cy="231.9" r="1.35"/><circle cx="302.0" cy="230.4" r="1.35"/><circle cx="302.9" cy="230.8" r="1.35"/><circle cx="298.8" cy="230.0" r="1.35"/><circle cx="284.4" cy="228.3" r="1.35"/><circle cx="293.5" cy="229.4" r="1.35"/><circle cx="285.0" cy="229.8" r="1.35"/><circle cx="310.6" cy="229.1" r="1.35"/><circle cx="316.2" cy="193.9" r="1.35"/><circle cx="322.8" cy="203.1" r="1.35"/><circle cx="320.2" cy="195.6" r="1.35"/><circle cx="322.3" cy="201.4" r="1.35"/><circle cx="320.0" cy="196.5" r="1.35"/><circle cx="318.9" cy="195.8" r="1.35"/><circle cx="319.3" cy="191.5" r="1.35"/><circle cx="324.2" cy="196.9" r="1.35"/><circle cx="321.8" cy="196.0" r="1.35"/><circle cx="322.7" cy="192.9" r="1.35"/><circle cx="323.3" cy="202.7" r="1.35"/><circle cx="316.2" cy="195.8" r="1.35"/><circle cx="315.3" cy="200.3" r="1.35"/><circle cx="320.1" cy="190.4" r="1.35"/><circle cx="321.5" cy="225.0" r="1.35"/><circle cx="310.0" cy="221.2" r="1.35"/><circle cx="306.3" cy="219.4" r="1.35"/><circle cx="310.7" cy="206.3" r="1.35"/><circle cx="310.5" cy="216.9" r="1.35"/><circle cx="305.5" cy="224.1" r="1.35"/><circle cx="312.6" cy="216.4" r="1.35"/><circle cx="322.6" cy="225.1" r="1.35"/><circle cx="318.1" cy="220.9" r="1.35"/><circle cx="320.2" cy="219.0" r="1.35"/><circle cx="316.0" cy="223.9" r="1.35"/><circle cx="307.2" cy="226.2" r="1.35"/><circle cx="309.5" cy="210.6" r="1.35"/><circle cx="316.3" cy="217.4" r="1.35"/><circle cx="314.9" cy="223.9" r="1.35"/><circle cx="305.0" cy="208.9" r="1.35"/><circle cx="308.5" cy="217.3" r="1.35"/><circle cx="311.5" cy="219.2" r="1.35"/><circle cx="312.6" cy="206.3" r="1.35"/><circle cx="319.4" cy="216.2" r="1.35"/><circle cx="312.1" cy="211.6" r="1.35"/><circle cx="320.8" cy="218.8" r="1.35"/></g>
<g fill="#ffd400"><circle cx="320.7" cy="147.8" r="1.35"/><circle cx="257.2" cy="185.5" r="1.35"/><circle cx="256.6" cy="196.8" r="1.35"/></g>
<rect x="323.3" y="140.1" width="39.6" height="19.3" rx="1" fill="#fff" fill-opacity="0.8" stroke="#ccc" stroke-width="0.5"/>
<g fill="#40e0d0"><circle cx="332.4" cy="145.3" r="1.4"/></g>
<g fill="#ffd400"><circle cx="332.4" cy="154.3" r="1.4"/></g>
<text class="dv" x="343.00" y="147.40" font-size="5.85" fill="#222">rest</text>
<text class="dv" x="343.00" y="156.40" font-size="5.85" fill="#222">motor</text>
<rect x="390.3" y="138.5" width="151.10" height="112.10" fill="none" stroke="#222" stroke-width="0.45"/>
<line x1="390.30" x2="390.30" y1="250.6" y2="252.4" stroke="#222" stroke-width="0.4"/>
<text class="dv" x="390.30" y="257.80" font-size="5.8" text-anchor="middle" fill="#222">−20</text>
<line x1="409.19" x2="409.19" y1="250.6" y2="252.4" stroke="#222" stroke-width="0.4"/>
<text class="dv" x="409.19" y="257.80" font-size="5.8" text-anchor="middle" fill="#222">−15</text>
<line x1="428.07" x2="428.07" y1="250.6" y2="252.4" stroke="#222" stroke-width="0.4"/>
<text class="dv" x="428.07" y="257.80" font-size="5.8" text-anchor="middle" fill="#222">−10</text>
<line x1="446.96" x2="446.96" y1="250.6" y2="252.4" stroke="#222" stroke-width="0.4"/>
<text class="dv" x="446.96" y="257.80" font-size="5.8" text-anchor="middle" fill="#222">−5</text>
<line x1="465.85" x2="465.85" y1="250.6" y2="252.4" stroke="#222" stroke-width="0.4"/>
<text class="dv" x="465.85" y="257.80" font-size="5.8" text-anchor="middle" fill="#222">0</text>
<line x1="484.74" x2="484.74" y1="250.6" y2="252.4" stroke="#222" stroke-width="0.4"/>
<text class="dv" x="484.74" y="257.80" font-size="5.8" text-anchor="middle" fill="#222">5</text>
<line x1="503.62" x2="503.62" y1="250.6" y2="252.4" stroke="#222" stroke-width="0.4"/>
<text class="dv" x="503.62" y="257.80" font-size="5.8" text-anchor="middle" fill="#222">10</text>
<line x1="522.51" x2="522.51" y1="250.6" y2="252.4" stroke="#222" stroke-width="0.4"/>
<text class="dv" x="522.51" y="257.80" font-size="5.8" text-anchor="middle" fill="#222">15</text>
<line x1="541.40" x2="541.40" y1="250.6" y2="252.4" stroke="#222" stroke-width="0.4"/>
<text class="dv" x="541.40" y="257.80" font-size="5.8" text-anchor="middle" fill="#222">20</text>
<line x1="388.5" x2="390.3" y1="138.50" y2="138.50" stroke="#222" stroke-width="0.4"/>
<text class="dv" x="387.70" y="140.60" font-size="5.8" text-anchor="end" fill="#222">20</text>
<line x1="388.5" x2="390.3" y1="152.51" y2="152.51" stroke="#222" stroke-width="0.4"/>
<text class="dv" x="387.70" y="154.61" font-size="5.8" text-anchor="end" fill="#222">15</text>
<line x1="388.5" x2="390.3" y1="166.53" y2="166.53" stroke="#222" stroke-width="0.4"/>
<text class="dv" x="387.70" y="168.62" font-size="5.8" text-anchor="end" fill="#222">10</text>
<line x1="388.5" x2="390.3" y1="180.54" y2="180.54" stroke="#222" stroke-width="0.4"/>
<text class="dv" x="387.70" y="182.64" font-size="5.8" text-anchor="end" fill="#222">5</text>
<line x1="388.5" x2="390.3" y1="194.55" y2="194.55" stroke="#222" stroke-width="0.4"/>
<text class="dv" x="387.70" y="196.65" font-size="5.8" text-anchor="end" fill="#222">0</text>
<line x1="388.5" x2="390.3" y1="208.56" y2="208.56" stroke="#222" stroke-width="0.4"/>
<text class="dv" x="387.70" y="210.66" font-size="5.8" text-anchor="end" fill="#222">−5</text>
<line x1="388.5" x2="390.3" y1="222.57" y2="222.57" stroke="#222" stroke-width="0.4"/>
<text class="dv" x="387.70" y="224.67" font-size="5.8" text-anchor="end" fill="#222">−10</text>
<line x1="388.5" x2="390.3" y1="236.59" y2="236.59" stroke="#222" stroke-width="0.4"/>
<text class="dv" x="387.70" y="238.69" font-size="5.8" text-anchor="end" fill="#222">−15</text>
<line x1="388.5" x2="390.3" y1="250.60" y2="250.60" stroke="#222" stroke-width="0.4"/>
<text class="dv" x="387.70" y="252.70" font-size="5.8" text-anchor="end" fill="#222">−20</text>
<text class="ls" x="467.40" y="266.20" font-size="7.65" text-anchor="middle">Dimension 1</text>
<text class="ls" x="376.50" y="194.30" font-size="7.65" text-anchor="middle" transform="rotate(-90 376.50 194.30)">Dimension 2</text>
<ellipse cx="452.9" cy="167.3" rx="25.4" ry="16.0" fill="#ffd400" transform="rotate(6 452.9 167.3)"/>
<g fill="#ffd400"><circle cx="473.7" cy="179.5" r="1.35"/><circle cx="432.4" cy="174.6" r="1.35"/><circle cx="478.3" cy="169.0" r="1.35"/><circle cx="450.3" cy="186.4" r="1.35"/><circle cx="472.7" cy="182.1" r="1.35"/><circle cx="474.8" cy="176.2" r="1.35"/><circle cx="477.4" cy="177.4" r="1.35"/><circle cx="476.2" cy="173.5" r="1.35"/><circle cx="427.3" cy="168.0" r="1.35"/><circle cx="478.4" cy="159.5" r="1.35"/><circle cx="482.7" cy="164.1" r="1.35"/><circle cx="477.0" cy="160.0" r="1.35"/><circle cx="432.3" cy="176.4" r="1.35"/><circle cx="444.9" cy="152.0" r="1.35"/><circle cx="476.1" cy="175.8" r="1.35"/><circle cx="457.8" cy="152.2" r="1.35"/><circle cx="447.1" cy="182.8" r="1.35"/><circle cx="439.5" cy="151.6" r="1.35"/><circle cx="443.7" cy="184.8" r="1.35"/><circle cx="428.1" cy="165.9" r="1.35"/><circle cx="426.3" cy="168.7" r="1.35"/><circle cx="434.6" cy="155.1" r="1.35"/><circle cx="437.8" cy="182.0" r="1.35"/><circle cx="462.1" cy="184.9" r="1.35"/><circle cx="427.9" cy="157.7" r="1.35"/><circle cx="458.1" cy="150.9" r="1.35"/><circle cx="431.2" cy="176.7" r="1.35"/><circle cx="481.5" cy="165.6" r="1.35"/><circle cx="429.5" cy="170.2" r="1.35"/><circle cx="433.2" cy="175.2" r="1.35"/><circle cx="432.4" cy="175.6" r="1.35"/><circle cx="477.5" cy="166.1" r="1.35"/><circle cx="444.2" cy="181.9" r="1.35"/><circle cx="433.2" cy="152.4" r="1.35"/><circle cx="428.5" cy="161.8" r="1.35"/><circle cx="477.8" cy="168.2" r="1.35"/><circle cx="477.2" cy="174.4" r="1.35"/><circle cx="477.8" cy="168.0" r="1.35"/><circle cx="435.4" cy="179.5" r="1.35"/><circle cx="462.8" cy="153.4" r="1.35"/><circle cx="458.7" cy="182.9" r="1.35"/><circle cx="448.6" cy="150.8" r="1.35"/><circle cx="439.1" cy="179.8" r="1.35"/><circle cx="461.2" cy="184.1" r="1.35"/><circle cx="462.5" cy="182.7" r="1.35"/><circle cx="463.6" cy="183.4" r="1.35"/><circle cx="476.4" cy="160.7" r="1.35"/><circle cx="423.8" cy="169.2" r="1.35"/><circle cx="440.9" cy="181.3" r="1.35"/><circle cx="465.0" cy="152.7" r="1.35"/><circle cx="426.6" cy="160.5" r="1.35"/><circle cx="442.9" cy="152.6" r="1.35"/><circle cx="446.5" cy="181.8" r="1.35"/><circle cx="459.8" cy="182.6" r="1.35"/><circle cx="466.7" cy="180.7" r="1.35"/><circle cx="437.7" cy="179.7" r="1.35"/><circle cx="430.2" cy="173.8" r="1.35"/><circle cx="435.5" cy="150.6" r="1.35"/><circle cx="431.4" cy="176.0" r="1.35"/><circle cx="429.8" cy="177.4" r="1.35"/><circle cx="459.3" cy="183.2" r="1.35"/><circle cx="430.2" cy="175.7" r="1.35"/><circle cx="430.0" cy="159.9" r="1.35"/><circle cx="467.7" cy="180.7" r="1.35"/><circle cx="455.4" cy="151.8" r="1.35"/><circle cx="476.3" cy="161.4" r="1.35"/><circle cx="430.9" cy="158.3" r="1.35"/><circle cx="442.6" cy="180.6" r="1.35"/><circle cx="480.2" cy="167.0" r="1.35"/><circle cx="470.1" cy="180.6" r="1.35"/><circle cx="461.1" cy="184.3" r="1.35"/><circle cx="457.6" cy="151.6" r="1.35"/><circle cx="463.3" cy="153.9" r="1.35"/><circle cx="430.6" cy="178.5" r="1.35"/><circle cx="473.1" cy="178.6" r="1.35"/><circle cx="435.7" cy="151.3" r="1.35"/><circle cx="438.0" cy="178.7" r="1.35"/><circle cx="468.9" cy="156.5" r="1.35"/><circle cx="476.6" cy="176.5" r="1.35"/><circle cx="428.7" cy="161.3" r="1.35"/><circle cx="464.4" cy="183.1" r="1.35"/><circle cx="476.3" cy="164.7" r="1.35"/><circle cx="480.5" cy="167.2" r="1.35"/><circle cx="431.9" cy="156.7" r="1.35"/><circle cx="446.0" cy="152.1" r="1.35"/><circle cx="475.1" cy="157.1" r="1.35"/><circle cx="478.2" cy="159.2" r="1.35"/><circle cx="470.0" cy="179.7" r="1.35"/><circle cx="436.3" cy="182.3" r="1.35"/><circle cx="461.2" cy="152.4" r="1.35"/><circle cx="447.6" cy="182.0" r="1.35"/><circle cx="428.7" cy="172.4" r="1.35"/><circle cx="477.7" cy="168.2" r="1.35"/><circle cx="426.5" cy="167.2" r="1.35"/><circle cx="429.5" cy="156.9" r="1.35"/><circle cx="455.4" cy="184.3" r="1.35"/><circle cx="469.1" cy="184.0" r="1.35"/><circle cx="475.2" cy="160.4" r="1.35"/><circle cx="457.5" cy="152.0" r="1.35"/><circle cx="470.5" cy="182.5" r="1.35"/><circle cx="476.4" cy="163.1" r="1.35"/><circle cx="474.7" cy="159.5" r="1.35"/><circle cx="438.7" cy="180.8" r="1.35"/><circle cx="472.2" cy="158.5" r="1.35"/><circle cx="468.9" cy="181.4" r="1.35"/><circle cx="451.4" cy="183.6" r="1.35"/><circle cx="476.3" cy="156.6" r="1.35"/><circle cx="427.1" cy="161.8" r="1.35"/><circle cx="430.8" cy="173.4" r="1.35"/><circle cx="443.7" cy="181.1" r="1.35"/><circle cx="456.3" cy="182.8" r="1.35"/><circle cx="464.6" cy="186.1" r="1.35"/><circle cx="427.2" cy="169.7" r="1.35"/><circle cx="428.0" cy="164.7" r="1.35"/><circle cx="473.5" cy="177.6" r="1.35"/><circle cx="452.1" cy="151.8" r="1.35"/><circle cx="476.0" cy="179.5" r="1.35"/><circle cx="467.1" cy="180.8" r="1.35"/><circle cx="474.1" cy="158.9" r="1.35"/><circle cx="433.4" cy="176.9" r="1.35"/><circle cx="469.6" cy="181.2" r="1.35"/><circle cx="430.9" cy="175.7" r="1.35"/><circle cx="463.4" cy="182.2" r="1.35"/><circle cx="470.5" cy="180.3" r="1.35"/><circle cx="477.0" cy="168.2" r="1.35"/><circle cx="474.3" cy="178.0" r="1.35"/><circle cx="453.6" cy="150.9" r="1.35"/><circle cx="428.4" cy="169.7" r="1.35"/><circle cx="454.4" cy="183.2" r="1.35"/><circle cx="475.0" cy="157.2" r="1.35"/><circle cx="429.2" cy="162.8" r="1.35"/><circle cx="476.1" cy="174.3" r="1.35"/><circle cx="430.5" cy="177.2" r="1.35"/><circle cx="434.4" cy="154.6" r="1.35"/><circle cx="430.7" cy="171.9" r="1.35"/><circle cx="443.5" cy="182.0" r="1.35"/><circle cx="436.8" cy="182.7" r="1.35"/><circle cx="442.1" cy="183.0" r="1.35"/><circle cx="423.6" cy="167.1" r="1.35"/><circle cx="479.6" cy="169.8" r="1.35"/><circle cx="475.8" cy="162.0" r="1.35"/><circle cx="426.0" cy="160.1" r="1.35"/><circle cx="472.9" cy="159.2" r="1.35"/><circle cx="466.0" cy="183.8" r="1.35"/><circle cx="435.5" cy="152.8" r="1.35"/><circle cx="464.3" cy="153.9" r="1.35"/><circle cx="449.4" cy="182.5" r="1.35"/><circle cx="428.8" cy="158.5" r="1.35"/><circle cx="426.4" cy="162.6" r="1.35"/><circle cx="473.1" cy="180.3" r="1.35"/><circle cx="479.5" cy="167.2" r="1.35"/><circle cx="434.8" cy="176.9" r="1.35"/><circle cx="426.9" cy="156.8" r="1.35"/><circle cx="478.1" cy="172.3" r="1.35"/><circle cx="429.2" cy="162.9" r="1.35"/><circle cx="429.3" cy="170.3" r="1.35"/><circle cx="471.9" cy="158.3" r="1.35"/><circle cx="475.1" cy="176.2" r="1.35"/><circle cx="472.8" cy="158.5" r="1.35"/><circle cx="460.5" cy="183.7" r="1.35"/><circle cx="467.9" cy="155.8" r="1.35"/><circle cx="456.8" cy="151.6" r="1.35"/><circle cx="434.5" cy="156.0" r="1.35"/><circle cx="434.3" cy="178.9" r="1.35"/><circle cx="425.7" cy="169.4" r="1.35"/><circle cx="442.7" cy="152.7" r="1.35"/><circle cx="431.1" cy="177.8" r="1.35"/><circle cx="475.5" cy="176.0" r="1.35"/><circle cx="447.4" cy="150.7" r="1.35"/><circle cx="447.3" cy="147.8" r="1.35"/><circle cx="445.2" cy="183.7" r="1.35"/><circle cx="456.6" cy="183.5" r="1.35"/><circle cx="476.3" cy="159.3" r="1.35"/><circle cx="437.4" cy="178.1" r="1.35"/><circle cx="479.6" cy="178.8" r="1.35"/><circle cx="473.2" cy="156.1" r="1.35"/><circle cx="453.3" cy="183.5" r="1.35"/><circle cx="432.1" cy="175.1" r="1.35"/><circle cx="429.5" cy="158.2" r="1.35"/><circle cx="427.9" cy="167.5" r="1.35"/><circle cx="456.3" cy="184.1" r="1.35"/><circle cx="453.2" cy="184.1" r="1.35"/><circle cx="427.5" cy="164.2" r="1.35"/><circle cx="473.2" cy="184.0" r="1.35"/><circle cx="475.6" cy="159.7" r="1.35"/><circle cx="449.4" cy="182.2" r="1.35"/><circle cx="468.3" cy="183.6" r="1.35"/><circle cx="463.2" cy="185.7" r="1.35"/><circle cx="460.1" cy="184.0" r="1.35"/><circle cx="475.1" cy="161.4" r="1.35"/><circle cx="428.9" cy="171.7" r="1.35"/><circle cx="455.9" cy="148.7" r="1.35"/><circle cx="467.6" cy="152.6" r="1.35"/><circle cx="472.7" cy="177.8" r="1.35"/><circle cx="435.6" cy="154.8" r="1.35"/><circle cx="466.2" cy="153.2" r="1.35"/><circle cx="454.6" cy="184.7" r="1.35"/><circle cx="479.5" cy="162.8" r="1.35"/><circle cx="427.2" cy="160.9" r="1.35"/><circle cx="428.2" cy="162.9" r="1.35"/><circle cx="477.3" cy="169.3" r="1.35"/><circle cx="462.3" cy="183.4" r="1.35"/><circle cx="477.1" cy="162.8" r="1.35"/><circle cx="450.5" cy="186.5" r="1.35"/><circle cx="430.3" cy="159.0" r="1.35"/><circle cx="474.3" cy="176.9" r="1.35"/><circle cx="435.0" cy="178.2" r="1.35"/><circle cx="451.7" cy="184.0" r="1.35"/><circle cx="459.3" cy="150.4" r="1.35"/><circle cx="479.5" cy="169.0" r="1.35"/><circle cx="466.5" cy="182.1" r="1.35"/><circle cx="475.2" cy="175.5" r="1.35"/><circle cx="441.0" cy="152.4" r="1.35"/><circle cx="480.6" cy="167.8" r="1.35"/><circle cx="480.4" cy="166.1" r="1.35"/><circle cx="472.9" cy="155.6" r="1.35"/><circle cx="451.2" cy="149.5" r="1.35"/><circle cx="430.7" cy="157.0" r="1.35"/><circle cx="478.0" cy="171.5" r="1.35"/><circle cx="481.4" cy="162.5" r="1.35"/><circle cx="430.7" cy="158.1" r="1.35"/><circle cx="423.6" cy="167.8" r="1.35"/><circle cx="476.7" cy="171.7" r="1.35"/><circle cx="465.5" cy="186.6" r="1.35"/><circle cx="437.2" cy="179.2" r="1.35"/><circle cx="479.0" cy="166.1" r="1.35"/><circle cx="438.3" cy="153.7" r="1.35"/><circle cx="445.8" cy="148.2" r="1.35"/><circle cx="432.0" cy="176.7" r="1.35"/><circle cx="452.9" cy="151.3" r="1.35"/><circle cx="457.7" cy="182.9" r="1.35"/><circle cx="446.2" cy="182.6" r="1.35"/><circle cx="425.9" cy="160.3" r="1.35"/><circle cx="463.0" cy="182.2" r="1.35"/><circle cx="472.4" cy="158.4" r="1.35"/><circle cx="451.5" cy="183.5" r="1.35"/><circle cx="425.0" cy="166.1" r="1.35"/><circle cx="477.0" cy="163.2" r="1.35"/><circle cx="435.5" cy="176.9" r="1.35"/><circle cx="430.6" cy="157.5" r="1.35"/><circle cx="444.9" cy="152.0" r="1.35"/><circle cx="429.6" cy="171.1" r="1.35"/><circle cx="449.6" cy="185.4" r="1.35"/><circle cx="426.8" cy="162.3" r="1.35"/><circle cx="463.5" cy="151.0" r="1.35"/><circle cx="429.4" cy="173.9" r="1.35"/><circle cx="444.5" cy="150.9" r="1.35"/><circle cx="450.7" cy="184.2" r="1.35"/><circle cx="432.5" cy="175.4" r="1.35"/><circle cx="478.6" cy="163.9" r="1.35"/><circle cx="474.6" cy="176.0" r="1.35"/><circle cx="479.8" cy="160.3" r="1.35"/><circle cx="479.4" cy="176.0" r="1.35"/><circle cx="465.3" cy="151.9" r="1.35"/><circle cx="431.5" cy="177.5" r="1.35"/><circle cx="446.8" cy="151.2" r="1.35"/><circle cx="454.3" cy="184.0" r="1.35"/><circle cx="462.4" cy="182.5" r="1.35"/><circle cx="474.5" cy="178.6" r="1.35"/><circle cx="478.1" cy="170.7" r="1.35"/><circle cx="434.1" cy="176.7" r="1.35"/><circle cx="475.7" cy="173.7" r="1.35"/><circle cx="446.3" cy="182.1" r="1.35"/><circle cx="472.0" cy="157.9" r="1.35"/><circle cx="446.7" cy="151.0" r="1.35"/><circle cx="428.7" cy="173.1" r="1.35"/><circle cx="480.0" cy="172.5" r="1.35"/><circle cx="480.0" cy="175.7" r="1.35"/><circle cx="478.2" cy="169.2" r="1.35"/><circle cx="429.7" cy="170.6" r="1.35"/><circle cx="432.5" cy="156.1" r="1.35"/><circle cx="452.9" cy="150.3" r="1.35"/><circle cx="431.8" cy="152.8" r="1.35"/><circle cx="454.9" cy="151.2" r="1.35"/><circle cx="426.0" cy="157.4" r="1.35"/><circle cx="425.6" cy="165.1" r="1.35"/><circle cx="428.9" cy="169.3" r="1.35"/><circle cx="473.1" cy="159.1" r="1.35"/><circle cx="479.2" cy="168.5" r="1.35"/><circle cx="430.8" cy="177.1" r="1.35"/><circle cx="458.5" cy="184.4" r="1.35"/><circle cx="477.7" cy="162.3" r="1.35"/><circle cx="445.5" cy="181.9" r="1.35"/><circle cx="449.4" cy="150.3" r="1.35"/><circle cx="453.5" cy="185.8" r="1.35"/><circle cx="431.7" cy="155.4" r="1.35"/><circle cx="439.8" cy="182.2" r="1.35"/><circle cx="480.0" cy="175.0" r="1.35"/><circle cx="478.3" cy="172.2" r="1.35"/><circle cx="442.9" cy="182.1" r="1.35"/><circle cx="425.2" cy="168.5" r="1.35"/><circle cx="427.8" cy="170.8" r="1.35"/><circle cx="429.2" cy="170.5" r="1.35"/><circle cx="428.4" cy="164.4" r="1.35"/><circle cx="470.6" cy="182.2" r="1.35"/><circle cx="439.4" cy="152.7" r="1.35"/><circle cx="457.8" cy="151.4" r="1.35"/><circle cx="429.7" cy="170.5" r="1.35"/><circle cx="424.8" cy="168.3" r="1.35"/><circle cx="469.4" cy="180.2" r="1.35"/></g>
<g fill="#ffd400"><circle cx="459.9" cy="191.2" r="1.35"/><circle cx="470.9" cy="184.3" r="1.35"/><circle cx="455.4" cy="183.2" r="1.35"/><circle cx="462.6" cy="184.2" r="1.35"/><circle cx="461.9" cy="192.4" r="1.35"/><circle cx="471.4" cy="191.2" r="1.35"/><circle cx="463.6" cy="192.7" r="1.35"/><circle cx="470.1" cy="193.2" r="1.35"/><circle cx="473.3" cy="190.1" r="1.35"/><circle cx="476.3" cy="190.6" r="1.35"/><circle cx="461.8" cy="185.0" r="1.35"/><circle cx="472.4" cy="187.3" r="1.35"/><circle cx="463.7" cy="187.7" r="1.35"/><circle cx="470.0" cy="187.0" r="1.35"/><circle cx="462.4" cy="190.6" r="1.35"/><circle cx="453.5" cy="177.3" r="1.35"/><circle cx="461.5" cy="187.6" r="1.35"/><circle cx="459.4" cy="189.9" r="1.35"/><circle cx="456.7" cy="176.7" r="1.35"/><circle cx="463.3" cy="188.8" r="1.35"/><circle cx="464.8" cy="185.7" r="1.35"/><circle cx="475.5" cy="193.0" r="1.35"/><circle cx="468.3" cy="187.7" r="1.35"/><circle cx="466.5" cy="189.3" r="1.35"/><circle cx="469.8" cy="190.3" r="1.35"/><circle cx="455.2" cy="180.3" r="1.35"/><circle cx="473.3" cy="188.5" r="1.35"/><circle cx="465.0" cy="184.2" r="1.35"/><circle cx="466.2" cy="187.1" r="1.35"/><circle cx="461.0" cy="178.5" r="1.35"/><circle cx="459.4" cy="185.8" r="1.35"/><circle cx="461.3" cy="187.2" r="1.35"/><circle cx="465.2" cy="182.1" r="1.35"/><circle cx="468.0" cy="184.4" r="1.35"/><circle cx="466.6" cy="186.7" r="1.35"/><circle cx="465.3" cy="189.8" r="1.35"/><circle cx="455.3" cy="189.9" r="1.35"/><circle cx="475.3" cy="194.5" r="1.35"/><circle cx="465.0" cy="188.6" r="1.35"/><circle cx="459.7" cy="185.1" r="1.35"/><circle cx="468.2" cy="185.7" r="1.35"/><circle cx="474.2" cy="190.5" r="1.35"/></g>
<g fill="#ffd400"><circle cx="478.5" cy="194.9" r="1.35"/><circle cx="477.6" cy="195.5" r="1.35"/><circle cx="482.6" cy="199.7" r="1.35"/><circle cx="480.5" cy="201.0" r="1.35"/><circle cx="480.8" cy="195.3" r="1.35"/><circle cx="476.6" cy="194.2" r="1.35"/><circle cx="477.9" cy="193.4" r="1.35"/><circle cx="478.5" cy="198.9" r="1.35"/><circle cx="483.5" cy="192.6" r="1.35"/><circle cx="480.3" cy="199.1" r="1.35"/><circle cx="478.9" cy="195.1" r="1.35"/><circle cx="484.8" cy="200.4" r="1.35"/></g>
<ellipse cx="479.8" cy="219.6" rx="24.9" ry="18.1" fill="#40e0d0" transform="rotate(4 479.8 219.6)"/>
<g fill="#40e0d0"><circle cx="489.7" cy="237.9" r="1.35"/><circle cx="501.0" cy="234.3" r="1.35"/><circle cx="476.9" cy="201.3" r="1.35"/><circle cx="492.1" cy="203.8" r="1.35"/><circle cx="450.0" cy="211.1" r="1.35"/><circle cx="498.6" cy="232.6" r="1.35"/><circle cx="479.6" cy="237.2" r="1.35"/><circle cx="471.2" cy="239.5" r="1.35"/><circle cx="479.2" cy="238.2" r="1.35"/><circle cx="463.2" cy="235.0" r="1.35"/><circle cx="467.4" cy="234.6" r="1.35"/><circle cx="469.3" cy="203.7" r="1.35"/><circle cx="500.6" cy="231.2" r="1.35"/><circle cx="493.9" cy="236.7" r="1.35"/><circle cx="487.0" cy="202.2" r="1.35"/><circle cx="487.5" cy="238.9" r="1.35"/><circle cx="457.9" cy="212.2" r="1.35"/><circle cx="450.9" cy="213.0" r="1.35"/><circle cx="455.0" cy="214.6" r="1.35"/><circle cx="502.6" cy="214.0" r="1.35"/><circle cx="469.1" cy="236.1" r="1.35"/><circle cx="502.3" cy="226.2" r="1.35"/><circle cx="499.0" cy="231.0" r="1.35"/><circle cx="506.3" cy="214.1" r="1.35"/><circle cx="455.8" cy="216.0" r="1.35"/><circle cx="473.2" cy="236.9" r="1.35"/><circle cx="456.2" cy="229.3" r="1.35"/><circle cx="480.7" cy="238.0" r="1.35"/><circle cx="468.9" cy="203.6" r="1.35"/><circle cx="495.1" cy="233.4" r="1.35"/><circle cx="460.6" cy="207.1" r="1.35"/><circle cx="481.1" cy="201.5" r="1.35"/><circle cx="475.3" cy="238.3" r="1.35"/><circle cx="504.1" cy="218.5" r="1.35"/><circle cx="466.2" cy="233.7" r="1.35"/><circle cx="504.5" cy="219.9" r="1.35"/><circle cx="463.8" cy="232.5" r="1.35"/><circle cx="453.3" cy="222.5" r="1.35"/><circle cx="485.1" cy="198.1" r="1.35"/><circle cx="472.6" cy="201.5" r="1.35"/><circle cx="501.8" cy="230.0" r="1.35"/><circle cx="469.8" cy="235.7" r="1.35"/><circle cx="456.3" cy="225.3" r="1.35"/><circle cx="462.9" cy="231.2" r="1.35"/><circle cx="452.9" cy="218.4" r="1.35"/><circle cx="498.2" cy="234.4" r="1.35"/><circle cx="478.9" cy="200.9" r="1.35"/><circle cx="482.4" cy="237.7" r="1.35"/><circle cx="455.9" cy="215.6" r="1.35"/><circle cx="473.7" cy="200.3" r="1.35"/><circle cx="492.5" cy="236.3" r="1.35"/><circle cx="464.7" cy="203.3" r="1.35"/><circle cx="480.3" cy="200.2" r="1.35"/><circle cx="491.7" cy="237.1" r="1.35"/><circle cx="456.7" cy="207.3" r="1.35"/><circle cx="455.1" cy="211.1" r="1.35"/><circle cx="503.7" cy="217.5" r="1.35"/><circle cx="490.6" cy="204.0" r="1.35"/><circle cx="457.7" cy="229.2" r="1.35"/><circle cx="471.4" cy="203.1" r="1.35"/><circle cx="458.2" cy="228.0" r="1.35"/><circle cx="482.5" cy="237.0" r="1.35"/><circle cx="480.9" cy="238.0" r="1.35"/><circle cx="487.9" cy="239.6" r="1.35"/><circle cx="456.0" cy="222.0" r="1.35"/><circle cx="453.1" cy="217.1" r="1.35"/><circle cx="506.2" cy="225.8" r="1.35"/><circle cx="506.6" cy="223.8" r="1.35"/><circle cx="467.7" cy="234.3" r="1.35"/><circle cx="458.0" cy="227.2" r="1.35"/><circle cx="464.9" cy="235.8" r="1.35"/><circle cx="502.5" cy="226.4" r="1.35"/><circle cx="504.9" cy="223.4" r="1.35"/><circle cx="455.1" cy="229.0" r="1.35"/><circle cx="480.0" cy="240.5" r="1.35"/><circle cx="464.6" cy="233.2" r="1.35"/><circle cx="490.9" cy="204.5" r="1.35"/><circle cx="505.5" cy="222.3" r="1.35"/><circle cx="472.6" cy="200.2" r="1.35"/><circle cx="480.0" cy="199.7" r="1.35"/><circle cx="504.9" cy="231.0" r="1.35"/><circle cx="455.3" cy="212.7" r="1.35"/><circle cx="495.1" cy="237.7" r="1.35"/><circle cx="487.6" cy="236.5" r="1.35"/><circle cx="479.4" cy="240.8" r="1.35"/><circle cx="457.3" cy="212.2" r="1.35"/><circle cx="504.0" cy="221.4" r="1.35"/><circle cx="454.9" cy="226.6" r="1.35"/><circle cx="468.5" cy="235.9" r="1.35"/><circle cx="476.2" cy="200.2" r="1.35"/><circle cx="470.4" cy="200.4" r="1.35"/><circle cx="486.4" cy="202.0" r="1.35"/><circle cx="504.5" cy="212.9" r="1.35"/><circle cx="455.5" cy="218.6" r="1.35"/><circle cx="505.6" cy="223.4" r="1.35"/><circle cx="503.4" cy="212.1" r="1.35"/><circle cx="502.3" cy="230.1" r="1.35"/><circle cx="505.3" cy="211.1" r="1.35"/><circle cx="487.3" cy="202.6" r="1.35"/><circle cx="487.5" cy="237.4" r="1.35"/><circle cx="462.6" cy="231.0" r="1.35"/><circle cx="456.7" cy="209.8" r="1.35"/><circle cx="457.1" cy="226.9" r="1.35"/><circle cx="485.0" cy="201.7" r="1.35"/><circle cx="504.4" cy="225.8" r="1.35"/><circle cx="452.9" cy="211.3" r="1.35"/><circle cx="497.2" cy="234.5" r="1.35"/><circle cx="452.8" cy="228.1" r="1.35"/><circle cx="483.1" cy="201.4" r="1.35"/><circle cx="494.9" cy="201.9" r="1.35"/><circle cx="494.6" cy="234.2" r="1.35"/><circle cx="474.1" cy="202.2" r="1.35"/><circle cx="504.5" cy="230.2" r="1.35"/><circle cx="493.7" cy="205.4" r="1.35"/><circle cx="460.2" cy="231.2" r="1.35"/><circle cx="487.7" cy="237.6" r="1.35"/><circle cx="461.6" cy="206.7" r="1.35"/><circle cx="503.1" cy="224.9" r="1.35"/><circle cx="494.6" cy="205.3" r="1.35"/><circle cx="505.7" cy="212.7" r="1.35"/><circle cx="504.6" cy="218.8" r="1.35"/><circle cx="459.1" cy="232.3" r="1.35"/><circle cx="478.5" cy="237.8" r="1.35"/><circle cx="502.2" cy="214.1" r="1.35"/><circle cx="502.5" cy="212.1" r="1.35"/><circle cx="502.7" cy="212.5" r="1.35"/><circle cx="502.6" cy="212.1" r="1.35"/><circle cx="464.1" cy="203.9" r="1.35"/><circle cx="509.5" cy="222.1" r="1.35"/><circle cx="479.5" cy="201.5" r="1.35"/><circle cx="509.4" cy="214.1" r="1.35"/><circle cx="486.8" cy="239.7" r="1.35"/><circle cx="478.4" cy="237.5" r="1.35"/><circle cx="474.0" cy="241.6" r="1.35"/><circle cx="484.6" cy="201.9" r="1.35"/><circle cx="460.4" cy="205.9" r="1.35"/><circle cx="502.4" cy="225.8" r="1.35"/><circle cx="456.3" cy="214.1" r="1.35"/><circle cx="465.5" cy="236.2" r="1.35"/><circle cx="483.6" cy="202.2" r="1.35"/><circle cx="461.2" cy="206.9" r="1.35"/><circle cx="463.9" cy="235.3" r="1.35"/><circle cx="491.4" cy="236.9" r="1.35"/><circle cx="502.1" cy="229.6" r="1.35"/><circle cx="475.4" cy="200.6" r="1.35"/><circle cx="463.4" cy="205.9" r="1.35"/><circle cx="471.9" cy="235.7" r="1.35"/><circle cx="497.8" cy="205.5" r="1.35"/><circle cx="500.1" cy="229.9" r="1.35"/><circle cx="499.9" cy="204.5" r="1.35"/><circle cx="487.5" cy="236.5" r="1.35"/><circle cx="472.6" cy="201.4" r="1.35"/><circle cx="473.8" cy="239.3" r="1.35"/><circle cx="497.1" cy="232.9" r="1.35"/><circle cx="469.2" cy="235.3" r="1.35"/><circle cx="482.8" cy="198.0" r="1.35"/><circle cx="471.1" cy="202.9" r="1.35"/><circle cx="477.6" cy="200.6" r="1.35"/><circle cx="473.1" cy="237.3" r="1.35"/><circle cx="491.5" cy="203.3" r="1.35"/><circle cx="502.4" cy="230.3" r="1.35"/><circle cx="488.8" cy="236.9" r="1.35"/><circle cx="502.6" cy="213.6" r="1.35"/><circle cx="454.7" cy="213.0" r="1.35"/><circle cx="481.5" cy="201.6" r="1.35"/><circle cx="461.3" cy="207.4" r="1.35"/><circle cx="480.2" cy="237.2" r="1.35"/><circle cx="471.1" cy="236.1" r="1.35"/><circle cx="473.8" cy="197.6" r="1.35"/><circle cx="455.8" cy="221.0" r="1.35"/><circle cx="480.3" cy="199.6" r="1.35"/><circle cx="499.5" cy="205.9" r="1.35"/><circle cx="453.0" cy="222.5" r="1.35"/><circle cx="492.6" cy="204.8" r="1.35"/><circle cx="452.9" cy="210.4" r="1.35"/><circle cx="504.2" cy="219.2" r="1.35"/><circle cx="453.8" cy="218.6" r="1.35"/><circle cx="506.9" cy="220.1" r="1.35"/><circle cx="455.4" cy="210.8" r="1.35"/><circle cx="484.9" cy="202.8" r="1.35"/><circle cx="495.0" cy="202.7" r="1.35"/><circle cx="498.5" cy="207.8" r="1.35"/><circle cx="457.7" cy="231.9" r="1.35"/><circle cx="498.1" cy="234.2" r="1.35"/><circle cx="507.7" cy="223.8" r="1.35"/><circle cx="504.0" cy="212.4" r="1.35"/><circle cx="487.1" cy="236.7" r="1.35"/><circle cx="494.3" cy="206.3" r="1.35"/><circle cx="454.1" cy="220.5" r="1.35"/><circle cx="456.0" cy="224.5" r="1.35"/><circle cx="503.6" cy="215.6" r="1.35"/><circle cx="455.6" cy="214.5" r="1.35"/><circle cx="501.8" cy="227.9" r="1.35"/><circle cx="489.0" cy="203.3" r="1.35"/><circle cx="501.6" cy="229.7" r="1.35"/><circle cx="452.2" cy="212.0" r="1.35"/><circle cx="489.6" cy="201.8" r="1.35"/><circle cx="450.5" cy="221.7" r="1.35"/><circle cx="501.9" cy="208.6" r="1.35"/><circle cx="500.1" cy="232.7" r="1.35"/><circle cx="467.0" cy="235.5" r="1.35"/><circle cx="499.7" cy="210.3" r="1.35"/><circle cx="494.0" cy="202.8" r="1.35"/><circle cx="452.0" cy="213.6" r="1.35"/><circle cx="469.3" cy="235.7" r="1.35"/><circle cx="495.0" cy="234.5" r="1.35"/><circle cx="498.1" cy="202.4" r="1.35"/><circle cx="480.6" cy="237.3" r="1.35"/><circle cx="474.4" cy="199.7" r="1.35"/><circle cx="458.9" cy="227.9" r="1.35"/><circle cx="459.3" cy="205.6" r="1.35"/><circle cx="493.1" cy="237.5" r="1.35"/><circle cx="458.7" cy="210.5" r="1.35"/><circle cx="495.7" cy="204.3" r="1.35"/><circle cx="458.3" cy="226.5" r="1.35"/><circle cx="455.4" cy="214.0" r="1.35"/><circle cx="483.7" cy="238.1" r="1.35"/><circle cx="506.5" cy="211.5" r="1.35"/><circle cx="482.0" cy="202.2" r="1.35"/><circle cx="494.4" cy="238.1" r="1.35"/><circle cx="505.4" cy="218.2" r="1.35"/><circle cx="502.0" cy="209.9" r="1.35"/><circle cx="463.8" cy="206.0" r="1.35"/><circle cx="504.6" cy="211.0" r="1.35"/><circle cx="499.5" cy="208.3" r="1.35"/><circle cx="485.1" cy="201.7" r="1.35"/><circle cx="496.7" cy="207.1" r="1.35"/><circle cx="505.0" cy="227.7" r="1.35"/><circle cx="484.3" cy="237.8" r="1.35"/><circle cx="476.1" cy="200.5" r="1.35"/><circle cx="489.5" cy="199.9" r="1.35"/><circle cx="492.1" cy="236.1" r="1.35"/><circle cx="451.8" cy="222.3" r="1.35"/><circle cx="463.6" cy="237.7" r="1.35"/><circle cx="498.7" cy="208.5" r="1.35"/><circle cx="457.8" cy="226.3" r="1.35"/><circle cx="477.0" cy="202.2" r="1.35"/><circle cx="469.3" cy="203.0" r="1.35"/><circle cx="468.6" cy="235.6" r="1.35"/><circle cx="505.4" cy="220.4" r="1.35"/><circle cx="492.6" cy="204.7" r="1.35"/><circle cx="474.0" cy="236.8" r="1.35"/><circle cx="458.5" cy="230.5" r="1.35"/><circle cx="491.0" cy="235.9" r="1.35"/><circle cx="505.0" cy="212.5" r="1.35"/><circle cx="488.5" cy="236.8" r="1.35"/><circle cx="504.7" cy="219.3" r="1.35"/><circle cx="465.9" cy="233.9" r="1.35"/><circle cx="461.7" cy="203.5" r="1.35"/><circle cx="461.7" cy="236.0" r="1.35"/><circle cx="473.4" cy="197.9" r="1.35"/><circle cx="477.0" cy="201.4" r="1.35"/><circle cx="502.4" cy="212.3" r="1.35"/><circle cx="454.6" cy="218.2" r="1.35"/><circle cx="472.5" cy="239.6" r="1.35"/><circle cx="471.4" cy="202.5" r="1.35"/><circle cx="503.3" cy="224.1" r="1.35"/><circle cx="462.1" cy="205.5" r="1.35"/><circle cx="507.3" cy="226.7" r="1.35"/><circle cx="497.9" cy="208.3" r="1.35"/><circle cx="498.8" cy="206.8" r="1.35"/><circle cx="479.6" cy="202.2" r="1.35"/><circle cx="456.8" cy="208.6" r="1.35"/><circle cx="505.6" cy="222.9" r="1.35"/><circle cx="490.0" cy="237.5" r="1.35"/><circle cx="499.9" cy="210.1" r="1.35"/><circle cx="505.4" cy="224.2" r="1.35"/><circle cx="470.0" cy="238.4" r="1.35"/><circle cx="505.6" cy="227.9" r="1.35"/><circle cx="456.7" cy="213.1" r="1.35"/><circle cx="463.8" cy="204.9" r="1.35"/><circle cx="498.8" cy="230.9" r="1.35"/><circle cx="502.6" cy="230.3" r="1.35"/><circle cx="473.5" cy="236.1" r="1.35"/><circle cx="460.5" cy="206.9" r="1.35"/><circle cx="454.2" cy="231.6" r="1.35"/><circle cx="480.2" cy="237.1" r="1.35"/><circle cx="501.7" cy="227.4" r="1.35"/><circle cx="487.3" cy="202.0" r="1.35"/><circle cx="503.3" cy="213.5" r="1.35"/><circle cx="467.9" cy="236.1" r="1.35"/><circle cx="502.8" cy="215.5" r="1.35"/><circle cx="491.0" cy="239.6" r="1.35"/><circle cx="455.2" cy="220.4" r="1.35"/><circle cx="455.3" cy="212.3" r="1.35"/><circle cx="511.3" cy="218.9" r="1.35"/><circle cx="476.3" cy="240.5" r="1.35"/><circle cx="497.5" cy="205.8" r="1.35"/><circle cx="478.2" cy="237.7" r="1.35"/><circle cx="483.7" cy="236.9" r="1.35"/><circle cx="502.8" cy="229.4" r="1.35"/><circle cx="480.4" cy="238.9" r="1.35"/><circle cx="503.1" cy="228.0" r="1.35"/><circle cx="501.1" cy="208.9" r="1.35"/><circle cx="510.1" cy="221.8" r="1.35"/><circle cx="495.7" cy="206.3" r="1.35"/><circle cx="456.3" cy="208.1" r="1.35"/><circle cx="498.0" cy="234.6" r="1.35"/><circle cx="459.3" cy="232.4" r="1.35"/><circle cx="451.6" cy="213.3" r="1.35"/></g>
<g fill="#ffd400"><circle cx="487.3" cy="178.7" r="1.35"/><circle cx="510.3" cy="213.4" r="1.35"/><circle cx="482.4" cy="207.4" r="1.35"/><circle cx="468.2" cy="212.9" r="1.35"/><circle cx="461.9" cy="217.0" r="1.35"/><circle cx="499.3" cy="211.5" r="1.35"/><circle cx="483.8" cy="221.9" r="1.35"/><circle cx="469.6" cy="229.3" r="1.35"/><circle cx="481.6" cy="232.8" r="1.35"/><circle cx="451.0" cy="217.8" r="1.35"/><circle cx="450.4" cy="209.3" r="1.35"/><circle cx="485.0" cy="233.0" r="1.35"/><circle cx="505.0" cy="205.0" r="1.35"/><circle cx="496.0" cy="200.0" r="1.35"/></g>
<g fill="#40e0d0"><circle cx="489.3" cy="179.3" r="1.35"/><circle cx="455.0" cy="246.5" r="1.35"/><circle cx="451.0" cy="232.5" r="1.35"/><circle cx="510.3" cy="232.5" r="1.35"/></g>
<rect x="499.1" y="141.5" width="39.8" height="19.4" rx="1" fill="#fff" fill-opacity="0.8" stroke="#ccc" stroke-width="0.5"/>
<g fill="#40e0d0"><circle cx="507.6" cy="146.4" r="1.4"/></g>
<g fill="#ffd400"><circle cx="507.6" cy="155.7" r="1.4"/></g>
<text class="dv" x="518.30" y="148.40" font-size="5.85" fill="#222">rest</text>
<text class="dv" x="518.30" y="157.70" font-size="5.85" fill="#222">motor</text>
<text class="ls" x="6.2" y="278.2" font-size="8.5"><tspan font-weight="bold">f</tspan> KNN-based hypergraph construction</text>
<text class="ls" x="191.3" y="278.5" font-size="8.5"><tspan font-weight="bold">g</tspan> Threshold-based hypergraph construction</text>
<text class="ls" x="374.6" y="278.2" font-size="8.5"><tspan font-weight="bold">h</tspan> Sensitivity analysis</text>
<rect x="29.9" y="287.8" width="156.40" height="116.20" fill="none" stroke="#222" stroke-width="0.45"/>
<line x1="28.599999999999998" x2="29.9" y1="287.80" y2="287.80" stroke="#222" stroke-width="0.35"/>
<text class="dv" x="27.70" y="290.00" font-size="4.35" text-anchor="end" fill="#222">97.00</text>
<line x1="28.599999999999998" x2="29.9" y1="302.33" y2="302.33" stroke="#222" stroke-width="0.35"/>
<text class="dv" x="27.70" y="304.53" font-size="4.35" text-anchor="end" fill="#222">96.75</text>
<line x1="28.599999999999998" x2="29.9" y1="316.85" y2="316.85" stroke="#222" stroke-width="0.35"/>
<text class="dv" x="27.70" y="319.05" font-size="4.35" text-anchor="end" fill="#222">96.50</text>
<line x1="28.599999999999998" x2="29.9" y1="331.38" y2="331.38" stroke="#222" stroke-width="0.35"/>
<text class="dv" x="27.70" y="333.57" font-size="4.35" text-anchor="end" fill="#222">96.25</text>
<line x1="28.599999999999998" x2="29.9" y1="345.90" y2="345.90" stroke="#222" stroke-width="0.35"/>
<text class="dv" x="27.70" y="348.10" font-size="4.35" text-anchor="end" fill="#222">96.00</text>
<line x1="28.599999999999998" x2="29.9" y1="360.43" y2="360.43" stroke="#222" stroke-width="0.35"/>
<text class="dv" x="27.70" y="362.62" font-size="4.35" text-anchor="end" fill="#222">95.75</text>
<line x1="28.599999999999998" x2="29.9" y1="374.95" y2="374.95" stroke="#222" stroke-width="0.35"/>
<text class="dv" x="27.70" y="377.15" font-size="4.35" text-anchor="end" fill="#222">95.50</text>
<line x1="28.599999999999998" x2="29.9" y1="389.48" y2="389.48" stroke="#222" stroke-width="0.35"/>
<text class="dv" x="27.70" y="391.68" font-size="4.35" text-anchor="end" fill="#222">95.25</text>
<line x1="28.599999999999998" x2="29.9" y1="404.00" y2="404.00" stroke="#222" stroke-width="0.35"/>
<text class="dv" x="27.70" y="406.20" font-size="4.35" text-anchor="end" fill="#222">95.00</text>
<line x1="29.90" x2="29.90" y1="404.0" y2="405.3" stroke="#222" stroke-width="0.35"/>
<text class="dv" x="29.90" y="410.20" font-size="4.35" text-anchor="middle" fill="#222">0</text>
<line x1="61.18" x2="61.18" y1="404.0" y2="405.3" stroke="#222" stroke-width="0.35"/>
<text class="dv" x="61.18" y="410.20" font-size="4.35" text-anchor="middle" fill="#222">20</text>
<line x1="86.52" x2="86.52" y1="404.0" y2="405.3" stroke="#222" stroke-width="0.35"/>
<text class="dv" x="86.52" y="410.20" font-size="4.35" text-anchor="middle" fill="#222">37</text>
<line x1="93.40" x2="93.40" y1="404.0" y2="405.3" stroke="#222" stroke-width="0.35"/>
<text class="dv" x="93.40" y="410.20" font-size="4.35" text-anchor="middle" fill="#222">40</text>
<line x1="123.74" x2="123.74" y1="404.0" y2="405.3" stroke="#222" stroke-width="0.35"/>
<text class="dv" x="123.74" y="410.20" font-size="4.35" text-anchor="middle" fill="#222">60</text>
<line x1="155.02" x2="155.02" y1="404.0" y2="405.3" stroke="#222" stroke-width="0.35"/>
<text class="dv" x="155.02" y="410.20" font-size="4.35" text-anchor="middle" fill="#222">80</text>
<line x1="186.30" x2="186.30" y1="404.0" y2="405.3" stroke="#222" stroke-width="0.35"/>
<text class="dv" x="186.30" y="410.20" font-size="4.35" text-anchor="middle" fill="#222">100</text>
<line x1="86.67" x2="86.67" y1="404.0" y2="348.22" stroke="#333" stroke-width="0.5" stroke-dasharray="0.9 0.9"/>
<path d="M29.90,365.07L31.46,351.13L33.03,365.07L34.59,356.94L36.16,367.40L37.72,365.07L39.28,351.13L40.85,373.21L42.41,370.88L43.98,359.84L45.54,367.98L47.10,367.40L48.67,362.75L50.23,362.75L51.80,359.84L53.36,384.83L54.92,373.21L56.49,368.56L58.05,365.07L59.62,373.21L61.18,361.59L62.74,375.53L64.31,373.21L65.87,365.07L67.44,365.07L69.00,379.02L70.56,361.59L72.13,373.21L73.69,361.59L75.26,356.36L76.82,370.88L78.38,367.40L79.95,367.40L81.51,375.53L83.08,359.84L84.64,367.40L86.20,348.22L87.77,367.40L89.33,370.88L90.90,379.02L92.46,362.17L94.02,375.53L95.59,359.84L97.15,373.21L98.72,375.53L100.28,381.34L101.84,359.84L103.41,379.02L104.97,379.02L106.54,369.14L108.10,365.07L109.66,380.76L111.23,372.05L112.79,365.07L114.36,361.59L115.92,367.40L117.48,356.36L119.05,356.36L120.61,370.88L122.18,373.21L123.74,365.07L125.30,379.02L126.87,367.40L128.43,379.02L130.00,365.07L131.56,379.02L133.12,373.21L134.69,361.59L136.25,373.21L137.82,354.03L139.38,361.59L140.94,365.07L142.51,379.02L144.07,356.36L145.64,370.88L147.20,365.07L148.76,365.07L150.33,365.07L151.89,379.02L153.46,365.07L155.02,365.07L156.58,356.36L158.15,373.21L159.71,381.34L161.28,348.22L162.84,367.40L164.40,365.07L165.97,379.02L167.53,375.53L169.10,361.59L170.66,370.88L172.22,361.59L173.79,365.07L175.35,370.88L176.92,379.02L178.48,370.88L180.04,359.26L181.61,370.88L183.17,367.40L184.74,379.02L186.30,362.75" fill="none" stroke="#ff0d0d" stroke-width="0.85" stroke-linejoin="round"/>
<g fill="#ff0d0d"><rect x="29.35" y="364.52" width="1.1" height="1.1"/><rect x="30.91" y="350.58" width="1.1" height="1.1"/><rect x="32.48" y="364.52" width="1.1" height="1.1"/><rect x="34.04" y="356.39" width="1.1" height="1.1"/><rect x="35.61" y="366.85" width="1.1" height="1.1"/><rect x="37.17" y="364.52" width="1.1" height="1.1"/><rect x="38.73" y="350.58" width="1.1" height="1.1"/><rect x="40.30" y="372.66" width="1.1" height="1.1"/><rect x="41.86" y="370.33" width="1.1" height="1.1"/><rect x="43.43" y="359.29" width="1.1" height="1.1"/><rect x="44.99" y="367.43" width="1.1" height="1.1"/><rect x="46.55" y="366.85" width="1.1" height="1.1"/><rect x="48.12" y="362.20" width="1.1" height="1.1"/><rect x="49.68" y="362.20" width="1.1" height="1.1"/><rect x="51.25" y="359.29" width="1.1" height="1.1"/><rect x="52.81" y="384.28" width="1.1" height="1.1"/><rect x="54.37" y="372.66" width="1.1" height="1.1"/><rect x="55.94" y="368.01" width="1.1" height="1.1"/><rect x="57.50" y="364.52" width="1.1" height="1.1"/><rect x="59.07" y="372.66" width="1.1" height="1.1"/><rect x="60.63" y="361.04" width="1.1" height="1.1"/><rect x="62.19" y="374.98" width="1.1" height="1.1"/><rect x="63.76" y="372.66" width="1.1" height="1.1"/><rect x="65.32" y="364.52" width="1.1" height="1.1"/><rect x="66.89" y="364.52" width="1.1" height="1.1"/><rect x="68.45" y="378.47" width="1.1" height="1.1"/><rect x="70.01" y="361.04" width="1.1" height="1.1"/><rect x="71.58" y="372.66" width="1.1" height="1.1"/><rect x="73.14" y="361.04" width="1.1" height="1.1"/><rect x="74.71" y="355.81" width="1.1" height="1.1"/><rect x="76.27" y="370.33" width="1.1" height="1.1"/><rect x="77.83" y="366.85" width="1.1" height="1.1"/><rect x="79.40" y="366.85" width="1.1" height="1.1"/><rect x="80.96" y="374.98" width="1.1" height="1.1"/><rect x="82.53" y="359.29" width="1.1" height="1.1"/><rect x="84.09" y="366.85" width="1.1" height="1.1"/><rect x="85.65" y="347.67" width="1.1" height="1.1"/><rect x="87.22" y="366.85" width="1.1" height="1.1"/><rect x="88.78" y="370.33" width="1.1" height="1.1"/><rect x="90.35" y="378.47" width="1.1" height="1.1"/><rect x="91.91" y="361.62" width="1.1" height="1.1"/><rect x="93.47" y="374.98" width="1.1" height="1.1"/><rect x="95.04" y="359.29" width="1.1" height="1.1"/><rect x="96.60" y="372.66" width="1.1" height="1.1"/><rect x="98.17" y="374.98" width="1.1" height="1.1"/><rect x="99.73" y="380.79" width="1.1" height="1.1"/><rect x="101.29" y="359.29" width="1.1" height="1.1"/><rect x="102.86" y="378.47" width="1.1" height="1.1"/><rect x="104.42" y="378.47" width="1.1" height="1.1"/><rect x="105.99" y="368.59" width="1.1" height="1.1"/><rect x="107.55" y="364.52" width="1.1" height="1.1"/><rect x="109.11" y="380.21" width="1.1" height="1.1"/><rect x="110.68" y="371.50" width="1.1" height="1.1"/><rect x="112.24" y="364.52" width="1.1" height="1.1"/><rect x="113.81" y="361.04" width="1.1" height="1.1"/><rect x="115.37" y="366.85" width="1.1" height="1.1"/><rect x="116.93" y="355.81" width="1.1" height="1.1"/><rect x="118.50" y="355.81" width="1.1" height="1.1"/><rect x="120.06" y="370.33" width="1.1" height="1.1"/><rect x="121.63" y="372.66" width="1.1" height="1.1"/><rect x="123.19" y="364.52" width="1.1" height="1.1"/><rect x="124.75" y="378.47" width="1.1" height="1.1"/><rect x="126.32" y="366.85" width="1.1" height="1.1"/><rect x="127.88" y="378.47" width="1.1" height="1.1"/><rect x="129.45" y="364.52" width="1.1" height="1.1"/><rect x="131.01" y="378.47" width="1.1" height="1.1"/><rect x="132.57" y="372.66" width="1.1" height="1.1"/><rect x="134.14" y="361.04" width="1.1" height="1.1"/><rect x="135.70" y="372.66" width="1.1" height="1.1"/><rect x="137.27" y="353.48" width="1.1" height="1.1"/><rect x="138.83" y="361.04" width="1.1" height="1.1"/><rect x="140.39" y="364.52" width="1.1" height="1.1"/><rect x="141.96" y="378.47" width="1.1" height="1.1"/><rect x="143.52" y="355.81" width="1.1" height="1.1"/><rect x="145.09" y="370.33" width="1.1" height="1.1"/><rect x="146.65" y="364.52" width="1.1" height="1.1"/><rect x="148.21" y="364.52" width="1.1" height="1.1"/><rect x="149.78" y="364.52" width="1.1" height="1.1"/><rect x="151.34" y="378.47" width="1.1" height="1.1"/><rect x="152.91" y="364.52" width="1.1" height="1.1"/><rect x="154.47" y="364.52" width="1.1" height="1.1"/><rect x="156.03" y="355.81" width="1.1" height="1.1"/><rect x="157.60" y="372.66" width="1.1" height="1.1"/><rect x="159.16" y="380.79" width="1.1" height="1.1"/><rect x="160.73" y="347.67" width="1.1" height="1.1"/><rect x="162.29" y="366.85" width="1.1" height="1.1"/><rect x="163.85" y="364.52" width="1.1" height="1.1"/><rect x="165.42" y="378.47" width="1.1" height="1.1"/><rect x="166.98" y="374.98" width="1.1" height="1.1"/><rect x="168.55" y="361.04" width="1.1" height="1.1"/><rect x="170.11" y="370.33" width="1.1" height="1.1"/><rect x="171.67" y="361.04" width="1.1" height="1.1"/><rect x="173.24" y="364.52" width="1.1" height="1.1"/><rect x="174.80" y="370.33" width="1.1" height="1.1"/><rect x="176.37" y="378.47" width="1.1" height="1.1"/><rect x="177.93" y="370.33" width="1.1" height="1.1"/><rect x="179.49" y="358.71" width="1.1" height="1.1"/><rect x="181.06" y="370.33" width="1.1" height="1.1"/><rect x="182.62" y="366.85" width="1.1" height="1.1"/><rect x="184.19" y="378.47" width="1.1" height="1.1"/><rect x="185.75" y="362.20" width="1.1" height="1.1"/></g>
<text class="ls" x="101.90" y="416.00" font-size="6.85" text-anchor="middle">k neighbor size</text>
<text class="ls" x="13.10" y="346.20" font-size="7.1" text-anchor="middle" transform="rotate(-90 13.10 346.20)">Accuracy (%)</text>
<rect x="212.3" y="285.8" width="158.40" height="117.40" fill="none" stroke="#222" stroke-width="0.45"/>
<line x1="211.0" x2="212.3" y1="285.80" y2="285.80" stroke="#222" stroke-width="0.35"/>
<text class="dv" x="210.10" y="288.00" font-size="4.35" text-anchor="end" fill="#222">97.00</text>
<line x1="211.0" x2="212.3" y1="300.48" y2="300.48" stroke="#222" stroke-width="0.35"/>
<text class="dv" x="210.10" y="302.68" font-size="4.35" text-anchor="end" fill="#222">96.75</text>
<line x1="211.0" x2="212.3" y1="315.15" y2="315.15" stroke="#222" stroke-width="0.35"/>
<text class="dv" x="210.10" y="317.35" font-size="4.35" text-anchor="end" fill="#222">96.50</text>
<line x1="211.0" x2="212.3" y1="329.82" y2="329.82" stroke="#222" stroke-width="0.35"/>
<text class="dv" x="210.10" y="332.02" font-size="4.35" text-anchor="end" fill="#222">96.25</text>
<line x1="211.0" x2="212.3" y1="344.50" y2="344.50" stroke="#222" stroke-width="0.35"/>
<text class="dv" x="210.10" y="346.70" font-size="4.35" text-anchor="end" fill="#222">96.00</text>
<line x1="211.0" x2="212.3" y1="359.18" y2="359.18" stroke="#222" stroke-width="0.35"/>
<text class="dv" x="210.10" y="361.38" font-size="4.35" text-anchor="end" fill="#222">95.75</text>
<line x1="211.0" x2="212.3" y1="373.85" y2="373.85" stroke="#222" stroke-width="0.35"/>
<text class="dv" x="210.10" y="376.05" font-size="4.35" text-anchor="end" fill="#222">95.50</text>
<line x1="211.0" x2="212.3" y1="388.52" y2="388.52" stroke="#222" stroke-width="0.35"/>
<text class="dv" x="210.10" y="390.72" font-size="4.35" text-anchor="end" fill="#222">95.25</text>
<line x1="211.0" x2="212.3" y1="403.20" y2="403.20" stroke="#222" stroke-width="0.35"/>
<text class="dv" x="210.10" y="405.40" font-size="4.35" text-anchor="end" fill="#222">95.00</text>
<line x1="212.30" x2="212.30" y1="403.2" y2="404.5" stroke="#222" stroke-width="0.35"/>
<text class="dv" x="212.30" y="409.40" font-size="4.35" text-anchor="middle" fill="#222">0</text>
<line x1="243.98" x2="243.98" y1="403.2" y2="404.5" stroke="#222" stroke-width="0.35"/>
<text class="dv" x="243.98" y="409.40" font-size="4.35" text-anchor="middle" fill="#222">20</text>
<line x1="276.14" x2="276.14" y1="403.2" y2="404.5" stroke="#222" stroke-width="0.35"/>
<text class="dv" x="276.14" y="409.40" font-size="4.35" text-anchor="middle" fill="#222">40</text>
<line x1="283.42" x2="283.42" y1="403.2" y2="404.5" stroke="#222" stroke-width="0.35"/>
<text class="dv" x="283.42" y="409.40" font-size="4.35" text-anchor="middle" fill="#222">45</text>
<line x1="307.34" x2="307.34" y1="403.2" y2="404.5" stroke="#222" stroke-width="0.35"/>
<text class="dv" x="307.34" y="409.40" font-size="4.35" text-anchor="middle" fill="#222">60</text>
<line x1="339.02" x2="339.02" y1="403.2" y2="404.5" stroke="#222" stroke-width="0.35"/>
<text class="dv" x="339.02" y="409.40" font-size="4.35" text-anchor="middle" fill="#222">80</text>
<line x1="370.70" x2="370.70" y1="403.2" y2="404.5" stroke="#222" stroke-width="0.35"/>
<text class="dv" x="370.70" y="409.40" font-size="4.35" text-anchor="middle" fill="#222">100</text>
<line x1="282.31" x2="282.31" y1="403.2" y2="314.56" stroke="#333" stroke-width="0.5" stroke-dasharray="0.9 0.9"/>
<path d="M212.30,374.44L213.88,363.87L215.47,363.87L217.05,360.94L218.64,369.15L220.22,360.94L221.80,369.15L223.39,366.81L224.97,363.87L226.56,360.94L228.14,363.87L229.72,372.09L231.31,377.96L232.89,369.15L234.48,366.81L236.06,360.94L237.64,369.15L239.23,374.44L240.81,355.65L242.40,366.81L243.98,366.81L245.56,380.31L247.15,377.96L248.73,360.94L250.32,366.81L251.90,374.44L253.48,360.94L255.07,366.81L256.65,369.15L258.24,369.15L259.82,366.81L261.40,372.09L262.99,352.13L264.57,363.87L266.16,374.44L267.74,360.94L269.32,369.15L270.91,352.13L272.49,374.44L274.08,372.09L275.66,363.87L277.24,363.87L278.83,336.87L280.41,342.15L282.00,314.56L283.58,322.19L285.16,325.72L286.75,360.94L288.33,358.00L289.92,389.11L291.50,352.13L293.08,372.09L294.67,360.94L296.25,374.44L297.84,355.65L299.42,358.00L301.00,369.15L302.59,374.44L304.17,374.44L305.76,360.94L307.34,377.96L308.92,363.87L310.51,372.09L312.09,374.44L313.68,369.15L315.26,358.00L316.84,347.14L318.43,372.09L320.01,358.00L321.60,372.09L323.18,369.15L324.76,369.15L326.35,366.81L327.93,374.44L329.52,374.44L331.10,377.96L332.68,352.13L334.27,352.13L335.85,383.24L337.44,372.09L339.02,358.00L340.60,349.78L342.19,366.81L343.77,377.96L345.36,385.59L346.94,352.13L348.52,369.15L350.11,369.15L351.69,363.87L353.28,360.94L354.86,366.81L356.44,374.44L358.03,372.09L359.61,358.00L361.20,355.65L362.78,369.15L364.36,372.09L365.95,374.44L367.53,363.87L369.12,360.94L370.70,360.94" fill="none" stroke="#ff0d0d" stroke-width="0.85" stroke-linejoin="round"/>
<g fill="#ff0d0d"><rect x="211.75" y="373.89" width="1.1" height="1.1"/><rect x="213.33" y="363.32" width="1.1" height="1.1"/><rect x="214.92" y="363.32" width="1.1" height="1.1"/><rect x="216.50" y="360.39" width="1.1" height="1.1"/><rect x="218.09" y="368.60" width="1.1" height="1.1"/><rect x="219.67" y="360.39" width="1.1" height="1.1"/><rect x="221.25" y="368.60" width="1.1" height="1.1"/><rect x="222.84" y="366.26" width="1.1" height="1.1"/><rect x="224.42" y="363.32" width="1.1" height="1.1"/><rect x="226.01" y="360.39" width="1.1" height="1.1"/><rect x="227.59" y="363.32" width="1.1" height="1.1"/><rect x="229.17" y="371.54" width="1.1" height="1.1"/><rect x="230.76" y="377.41" width="1.1" height="1.1"/><rect x="232.34" y="368.60" width="1.1" height="1.1"/><rect x="233.93" y="366.26" width="1.1" height="1.1"/><rect x="235.51" y="360.39" width="1.1" height="1.1"/><rect x="237.09" y="368.60" width="1.1" height="1.1"/><rect x="238.68" y="373.89" width="1.1" height="1.1"/><rect x="240.26" y="355.10" width="1.1" height="1.1"/><rect x="241.85" y="366.26" width="1.1" height="1.1"/><rect x="243.43" y="366.26" width="1.1" height="1.1"/><rect x="245.01" y="379.76" width="1.1" height="1.1"/><rect x="246.60" y="377.41" width="1.1" height="1.1"/><rect x="248.18" y="360.39" width="1.1" height="1.1"/><rect x="249.77" y="366.26" width="1.1" height="1.1"/><rect x="251.35" y="373.89" width="1.1" height="1.1"/><rect x="252.93" y="360.39" width="1.1" height="1.1"/><rect x="254.52" y="366.26" width="1.1" height="1.1"/><rect x="256.10" y="368.60" width="1.1" height="1.1"/><rect x="257.69" y="368.60" width="1.1" height="1.1"/><rect x="259.27" y="366.26" width="1.1" height="1.1"/><rect x="260.85" y="371.54" width="1.1" height="1.1"/><rect x="262.44" y="351.58" width="1.1" height="1.1"/><rect x="264.02" y="363.32" width="1.1" height="1.1"/><rect x="265.61" y="373.89" width="1.1" height="1.1"/><rect x="267.19" y="360.39" width="1.1" height="1.1"/><rect x="268.77" y="368.60" width="1.1" height="1.1"/><rect x="270.36" y="351.58" width="1.1" height="1.1"/><rect x="271.94" y="373.89" width="1.1" height="1.1"/><rect x="273.53" y="371.54" width="1.1" height="1.1"/><rect x="275.11" y="363.32" width="1.1" height="1.1"/><rect x="276.69" y="363.32" width="1.1" height="1.1"/><rect x="278.28" y="336.32" width="1.1" height="1.1"/><rect x="279.86" y="341.60" width="1.1" height="1.1"/><rect x="281.45" y="314.01" width="1.1" height="1.1"/><rect x="283.03" y="321.64" width="1.1" height="1.1"/><rect x="284.61" y="325.17" width="1.1" height="1.1"/><rect x="286.20" y="360.39" width="1.1" height="1.1"/><rect x="287.78" y="357.45" width="1.1" height="1.1"/><rect x="289.37" y="388.56" width="1.1" height="1.1"/><rect x="290.95" y="351.58" width="1.1" height="1.1"/><rect x="292.53" y="371.54" width="1.1" height="1.1"/><rect x="294.12" y="360.39" width="1.1" height="1.1"/><rect x="295.70" y="373.89" width="1.1" height="1.1"/><rect x="297.29" y="355.10" width="1.1" height="1.1"/><rect x="298.87" y="357.45" width="1.1" height="1.1"/><rect x="300.45" y="368.60" width="1.1" height="1.1"/><rect x="302.04" y="373.89" width="1.1" height="1.1"/><rect x="303.62" y="373.89" width="1.1" height="1.1"/><rect x="305.21" y="360.39" width="1.1" height="1.1"/><rect x="306.79" y="377.41" width="1.1" height="1.1"/><rect x="308.37" y="363.32" width="1.1" height="1.1"/><rect x="309.96" y="371.54" width="1.1" height="1.1"/><rect x="311.54" y="373.89" width="1.1" height="1.1"/><rect x="313.13" y="368.60" width="1.1" height="1.1"/><rect x="314.71" y="357.45" width="1.1" height="1.1"/><rect x="316.29" y="346.59" width="1.1" height="1.1"/><rect x="317.88" y="371.54" width="1.1" height="1.1"/><rect x="319.46" y="357.45" width="1.1" height="1.1"/><rect x="321.05" y="371.54" width="1.1" height="1.1"/><rect x="322.63" y="368.60" width="1.1" height="1.1"/><rect x="324.21" y="368.60" width="1.1" height="1.1"/><rect x="325.80" y="366.26" width="1.1" height="1.1"/><rect x="327.38" y="373.89" width="1.1" height="1.1"/><rect x="328.97" y="373.89" width="1.1" height="1.1"/><rect x="330.55" y="377.41" width="1.1" height="1.1"/><rect x="332.13" y="351.58" width="1.1" height="1.1"/><rect x="333.72" y="351.58" width="1.1" height="1.1"/><rect x="335.30" y="382.69" width="1.1" height="1.1"/><rect x="336.89" y="371.54" width="1.1" height="1.1"/><rect x="338.47" y="357.45" width="1.1" height="1.1"/><rect x="340.05" y="349.23" width="1.1" height="1.1"/><rect x="341.64" y="366.26" width="1.1" height="1.1"/><rect x="343.22" y="377.41" width="1.1" height="1.1"/><rect x="344.81" y="385.04" width="1.1" height="1.1"/><rect x="346.39" y="351.58" width="1.1" height="1.1"/><rect x="347.97" y="368.60" width="1.1" height="1.1"/><rect x="349.56" y="368.60" width="1.1" height="1.1"/><rect x="351.14" y="363.32" width="1.1" height="1.1"/><rect x="352.73" y="360.39" width="1.1" height="1.1"/><rect x="354.31" y="366.26" width="1.1" height="1.1"/><rect x="355.89" y="373.89" width="1.1" height="1.1"/><rect x="357.48" y="371.54" width="1.1" height="1.1"/><rect x="359.06" y="357.45" width="1.1" height="1.1"/><rect x="360.65" y="355.10" width="1.1" height="1.1"/><rect x="362.23" y="368.60" width="1.1" height="1.1"/><rect x="363.81" y="371.54" width="1.1" height="1.1"/><rect x="365.40" y="373.89" width="1.1" height="1.1"/><rect x="366.98" y="363.32" width="1.1" height="1.1"/><rect x="368.57" y="360.39" width="1.1" height="1.1"/><rect x="370.15" y="360.39" width="1.1" height="1.1"/></g>
<text class="ls" x="285.00" y="415.20" font-size="6.75" text-anchor="middle">threshold value</text>
<text class="ls" x="193.70" y="342.80" font-size="7.1" text-anchor="middle" transform="rotate(-90 193.70 342.80)">Accuracy (%)</text>
<path d="M388.61,380.25L430.31,344.85L429.71,293.92L386.05,326.12Z" fill="#f3f3f3" fill-opacity="0.6" stroke="#e4e4e4" stroke-width="0.4"/>
<path d="M430.31,344.85L498.81,363.97L501.18,311.28L429.71,293.92Z" fill="#ebebeb" fill-opacity="0.6" stroke="#e4e4e4" stroke-width="0.4"/>
<path d="M388.61,380.25L461.40,403.07L498.81,363.97L430.31,344.85Z" fill="#efefef" fill-opacity="0.6" stroke="#e4e4e4" stroke-width="0.4"/>
<path d="M392.63,381.51L434.11,345.91L433.66,294.88 M388.81,324.08L391.23,378.02L463.77,400.60 M388.47,377.24L430.28,342.01L498.94,361.03 M408.17,386.38L448.77,350.00L448.94,298.59 M399.04,316.54L400.98,369.74L472.54,391.43 M387.92,365.62L430.15,331.05L499.45,349.71 M424.06,391.36L463.74,354.18L464.55,302.38 M408.86,309.29L410.36,361.78L480.96,382.63 M387.36,353.79L430.01,319.90L499.97,338.18 M440.32,396.46L479.03,358.45L480.51,306.26 M418.30,302.33L419.39,354.12L489.04,374.18 M386.79,341.71L429.88,308.55L500.50,326.43 M456.97,401.68L494.65,362.81L496.83,310.22 M427.38,295.63L428.08,346.74L496.82,366.05 M386.20,329.39L429.74,296.99L501.03,314.46" fill="none" stroke="#d9d9d9" stroke-width="0.45"/>
<path d="M388.61,380.25L461.40,403.07 M461.40,403.07L498.81,363.97 M498.81,363.97L501.18,311.28" fill="none" stroke="#444" stroke-width="0.4"/>
<path d="M392.63,381.51L390.82,383.06 M463.77,400.60L466.81,401.55 M498.94,361.03L501.81,361.82 M408.17,386.38L406.40,387.97 M472.54,391.43L475.54,392.34 M499.45,349.71L502.35,350.49 M424.06,391.36L422.33,392.98 M480.96,382.63L483.91,383.50 M499.97,338.18L502.89,338.95 M440.32,396.46L438.63,398.12 M489.04,374.18L491.96,375.02 M500.50,326.43L503.45,327.18 M456.97,401.68L455.32,403.38 M496.82,366.05L499.69,366.86 M501.03,314.46L504.02,315.19" fill="none" stroke="#444" stroke-width="0.4"/>
<text class="dv" x="390.20" y="390.10" font-size="3.7" text-anchor="middle" fill="#222">0.01</text>
<text class="dv" x="468.30" y="408.60" font-size="3.7" text-anchor="middle" fill="#222">0.01</text>
<text class="dv" x="504.41" y="363.12" font-size="3.7" fill="#222">0.01</text>
<text class="dv" x="405.30" y="395.30" font-size="3.7" text-anchor="middle" fill="#222">0.1</text>
<text class="dv" x="476.90" y="399.80" font-size="3.7" text-anchor="middle" fill="#222">0.1</text>
<text class="dv" x="504.95" y="351.79" font-size="3.7" fill="#222">0.1</text>
<text class="dv" x="420.90" y="400.40" font-size="3.7" text-anchor="middle" fill="#222">1</text>
<text class="dv" x="485.60" y="390.90" font-size="3.7" text-anchor="middle" fill="#222">1</text>
<text class="dv" x="505.49" y="340.25" font-size="3.7" fill="#222">1</text>
<text class="dv" x="437.00" y="406.00" font-size="3.7" text-anchor="middle" fill="#222">10</text>
<text class="dv" x="494.00" y="382.60" font-size="3.7" text-anchor="middle" fill="#222">10</text>
<text class="dv" x="506.05" y="328.48" font-size="3.7" fill="#222">10</text>
<text class="dv" x="453.20" y="411.70" font-size="3.7" text-anchor="middle" fill="#222">100</text>
<text class="dv" x="501.60" y="374.50" font-size="3.7" text-anchor="middle" fill="#222">100</text>
<text class="dv" x="506.62" y="316.49" font-size="3.7" fill="#222">100</text>
<text class="dv" x="417.00" y="405.80" font-size="3.7" text-anchor="middle" fill="#222">λ1</text>
<text class="dv" x="491.50" y="394.70" font-size="3.7" text-anchor="middle" fill="#222">λ2</text>
<text class="dv" x="516.30" y="336.70" font-size="3.7" text-anchor="middle" fill="#222">λ3</text>
<g><circle cx="431.86" cy="344.96" r="1.15" fill="#0000f1" fill-opacity="0.42"/><circle cx="431.74" cy="333.95" r="1.15" fill="#0084ff" fill-opacity="0.45"/><circle cx="446.61" cy="349.07" r="1.15" fill="#00c0ff" fill-opacity="0.45"/><circle cx="431.63" cy="322.74" r="1.15" fill="#00007f" fill-opacity="0.48"/><circle cx="423.19" cy="352.34" r="1.15" fill="#00d0ff" fill-opacity="0.48"/><circle cx="446.62" cy="337.98" r="1.15" fill="#29ffcd" fill-opacity="0.48"/><circle cx="461.67" cy="353.27" r="1.15" fill="#3fffb7" fill-opacity="0.49"/><circle cx="431.51" cy="311.32" r="1.15" fill="#00007f" fill-opacity="0.51"/><circle cx="423.00" cy="341.19" r="1.15" fill="#00c0ff" fill-opacity="0.51"/><circle cx="446.64" cy="326.69" r="1.15" fill="#00007f" fill-opacity="0.51"/><circle cx="438.13" cy="356.61" r="1.15" fill="#00d0ff" fill-opacity="0.52"/><circle cx="461.82" cy="342.10" r="1.15" fill="#3fffb7" fill-opacity="0.52"/><circle cx="477.05" cy="357.55" r="1.15" fill="#00d0ff" fill-opacity="0.52"/><circle cx="431.38" cy="299.69" r="1.15" fill="#00007f" fill-opacity="0.54"/><circle cx="422.79" cy="329.83" r="1.15" fill="#3fffb7" fill-opacity="0.54"/><circle cx="414.19" cy="360.01" r="1.15" fill="#ff6700" fill-opacity="0.55"/><circle cx="446.66" cy="315.18" r="1.15" fill="#00007f" fill-opacity="0.55"/><circle cx="438.07" cy="345.38" r="1.15" fill="#00d0ff" fill-opacity="0.55"/><circle cx="461.98" cy="330.72" r="1.15" fill="#05ecf1" fill-opacity="0.55"/><circle cx="453.39" cy="360.97" r="1.15" fill="#ff9b00" fill-opacity="0.55"/><circle cx="477.35" cy="346.30" r="1.15" fill="#00d0ff" fill-opacity="0.56"/><circle cx="492.76" cy="361.94" r="1.15" fill="#00007f" fill-opacity="0.56"/><circle cx="422.59" cy="318.26" r="1.15" fill="#3fffb7" fill-opacity="0.57"/><circle cx="413.91" cy="348.71" r="1.15" fill="#ff9b00" fill-opacity="0.58"/><circle cx="446.68" cy="303.47" r="1.15" fill="#00007f" fill-opacity="0.58"/><circle cx="438.00" cy="333.93" r="1.15" fill="#f1fc05" fill-opacity="0.58"/><circle cx="429.32" cy="364.44" r="1.15" fill="#ff7300" fill-opacity="0.58"/><circle cx="462.14" cy="319.13" r="1.15" fill="#00007f" fill-opacity="0.58"/><circle cx="453.47" cy="349.66" r="1.15" fill="#f10700" fill-opacity="0.58"/><circle cx="477.65" cy="334.84" r="1.15" fill="#86ff70" fill-opacity="0.59"/><circle cx="468.98" cy="365.43" r="1.15" fill="#ff5900" fill-opacity="0.59"/><circle cx="493.21" cy="350.60" r="1.15" fill="#00007f" fill-opacity="0.59"/><circle cx="422.38" cy="306.47" r="1.15" fill="#003cff" fill-opacity="0.61"/><circle cx="413.62" cy="337.20" r="1.15" fill="#daff1c" fill-opacity="0.61"/><circle cx="404.84" cy="367.97" r="1.15" fill="#ff4a00" fill-opacity="0.61"/><circle cx="437.94" cy="322.27" r="1.15" fill="#86ff70" fill-opacity="0.61"/><circle cx="429.17" cy="353.06" r="1.15" fill="#ff5900" fill-opacity="0.61"/><circle cx="462.31" cy="307.32" r="1.15" fill="#00007f" fill-opacity="0.61"/><circle cx="453.55" cy="338.13" r="1.15" fill="#ffb900" fill-opacity="0.62"/><circle cx="444.78" cy="368.97" r="1.15" fill="#ff8100" fill-opacity="0.62"/><circle cx="477.96" cy="323.16" r="1.15" fill="#daff1c" fill-opacity="0.62"/><circle cx="469.21" cy="354.03" r="1.15" fill="#ff4a00" fill-opacity="0.62"/><circle cx="493.67" cy="339.06" r="1.15" fill="#00007f" fill-opacity="0.63"/><circle cx="484.91" cy="369.98" r="1.15" fill="#00007f" fill-opacity="0.63"/><circle cx="413.32" cy="325.47" r="1.15" fill="#86ff70" fill-opacity="0.64"/><circle cx="404.46" cy="356.53" r="1.15" fill="#ff4a00" fill-opacity="0.64"/><circle cx="437.87" cy="310.39" r="1.15" fill="#00007f" fill-opacity="0.64"/><circle cx="429.03" cy="341.47" r="1.15" fill="#cdff29" fill-opacity="0.65"/><circle cx="420.16" cy="372.59" r="1.15" fill="#ff3f00" fill-opacity="0.65"/><circle cx="453.63" cy="326.38" r="1.15" fill="#daff1c" fill-opacity="0.65"/><circle cx="444.78" cy="357.51" r="1.15" fill="#ff9000" fill-opacity="0.65"/><circle cx="478.28" cy="311.26" r="1.15" fill="#0000ff" fill-opacity="0.65"/><circle cx="469.44" cy="342.41" r="1.15" fill="#ff3000" fill-opacity="0.66"/><circle cx="460.58" cy="373.61" r="1.15" fill="#ff8100" fill-opacity="0.66"/><circle cx="494.14" cy="327.29" r="1.15" fill="#00007f" fill-opacity="0.66"/><circle cx="485.30" cy="358.50" r="1.15" fill="#00007f" fill-opacity="0.66"/><circle cx="413.02" cy="313.52" r="1.15" fill="#00007f" fill-opacity="0.68"/><circle cx="404.07" cy="344.87" r="1.15" fill="#ff9b00" fill-opacity="0.68"/><circle cx="395.12" cy="376.26" r="1.15" fill="#ff3f00" fill-opacity="0.68"/><circle cx="428.87" cy="329.65" r="1.15" fill="#29ffcd" fill-opacity="0.68"/><circle cx="419.93" cy="361.06" r="1.15" fill="#ff4a00" fill-opacity="0.68"/><circle cx="453.72" cy="314.40" r="1.15" fill="#002cff" fill-opacity="0.68"/><circle cx="444.78" cy="345.83" r="1.15" fill="#ffb900" fill-opacity="0.69"/><circle cx="435.83" cy="377.30" r="1.15" fill="#ff4a00" fill-opacity="0.69"/><circle cx="469.68" cy="330.57" r="1.15" fill="#de0000" fill-opacity="0.69"/><circle cx="460.74" cy="362.06" r="1.15" fill="#ff5900" fill-opacity="0.69"/><circle cx="494.62" cy="315.29" r="1.15" fill="#00007f" fill-opacity="0.69"/><circle cx="485.69" cy="346.80" r="1.15" fill="#00007f" fill-opacity="0.69"/><circle cx="476.74" cy="378.35" r="1.15" fill="#00007f" fill-opacity="0.70"/><circle cx="403.68" cy="332.98" r="1.15" fill="#0000ff" fill-opacity="0.71"/><circle cx="394.63" cy="364.67" r="1.15" fill="#ff7300" fill-opacity="0.71"/><circle cx="428.72" cy="317.60" r="1.15" fill="#00007f" fill-opacity="0.71"/><circle cx="419.68" cy="349.31" r="1.15" fill="#daff1c" fill-opacity="0.72"/><circle cx="410.64" cy="381.06" r="1.15" fill="#ff3000" fill-opacity="0.72"/><circle cx="444.78" cy="333.92" r="1.15" fill="#f1fc05" fill-opacity="0.72"/><circle cx="435.74" cy="365.69" r="1.15" fill="#ff4a00" fill-opacity="0.72"/><circle cx="469.92" cy="318.50" r="1.15" fill="#f10700" fill-opacity="0.72"/><circle cx="460.89" cy="350.29" r="1.15" fill="#ff3f00" fill-opacity="0.73"/><circle cx="451.85" cy="382.12" r="1.15" fill="#ff8100" fill-opacity="0.73"/><circle cx="486.09" cy="334.87" r="1.15" fill="#00007f" fill-opacity="0.73"/><circle cx="477.06" cy="366.72" r="1.15" fill="#00007f" fill-opacity="0.73"/><circle cx="403.27" cy="320.85" r="1.15" fill="#00007f" fill-opacity="0.75"/><circle cx="394.14" cy="352.85" r="1.15" fill="#e4ff12" fill-opacity="0.75"/><circle cx="419.44" cy="337.32" r="1.15" fill="#9dff59" fill-opacity="0.75"/><circle cx="410.30" cy="369.38" r="1.15" fill="#ff3f00" fill-opacity="0.75"/><circle cx="444.78" cy="321.77" r="1.15" fill="#00a4ff" fill-opacity="0.76"/><circle cx="435.65" cy="353.85" r="1.15" fill="#ff9000" fill-opacity="0.76"/><circle cx="426.51" cy="385.97" r="1.15" fill="#ff4a00" fill-opacity="0.76"/><circle cx="461.05" cy="338.29" r="1.15" fill="#bf0000" fill-opacity="0.76"/><circle cx="451.92" cy="370.42" r="1.15" fill="#ff6700" fill-opacity="0.76"/><circle cx="486.49" cy="322.70" r="1.15" fill="#00007f" fill-opacity="0.76"/><circle cx="477.38" cy="354.85" r="1.15" fill="#00007f" fill-opacity="0.77"/><circle cx="468.24" cy="387.06" r="1.15" fill="#00007f" fill-opacity="0.77"/><circle cx="393.64" cy="340.79" r="1.15" fill="#002cff" fill-opacity="0.78"/><circle cx="419.19" cy="325.10" r="1.15" fill="#00007f" fill-opacity="0.79"/><circle cx="409.96" cy="357.47" r="1.15" fill="#ffc400" fill-opacity="0.79"/><circle cx="435.56" cy="341.77" r="1.15" fill="#cdff29" fill-opacity="0.79"/><circle cx="426.33" cy="374.20" r="1.15" fill="#ff3000" fill-opacity="0.80"/><circle cx="461.21" cy="326.05" r="1.15" fill="#ff3000" fill-opacity="0.80"/><circle cx="451.99" cy="358.49" r="1.15" fill="#ff3000" fill-opacity="0.80"/><circle cx="442.76" cy="390.99" r="1.15" fill="#ff8100" fill-opacity="0.80"/><circle cx="477.70" cy="342.76" r="1.15" fill="#00007f" fill-opacity="0.80"/><circle cx="468.48" cy="375.27" r="1.15" fill="#00007f" fill-opacity="0.81"/><circle cx="393.13" cy="328.49" r="1.15" fill="#00007f" fill-opacity="0.82"/><circle cx="409.61" cy="345.32" r="1.15" fill="#00007f" fill-opacity="0.83"/><circle cx="435.47" cy="329.45" r="1.15" fill="#00007f" fill-opacity="0.83"/><circle cx="426.15" cy="362.20" r="1.15" fill="#ff1600" fill-opacity="0.83"/><circle cx="452.07" cy="346.32" r="1.15" fill="#de0000" fill-opacity="0.84"/><circle cx="442.74" cy="379.14" r="1.15" fill="#ff7300" fill-opacity="0.84"/><circle cx="478.03" cy="330.42" r="1.15" fill="#00007f" fill-opacity="0.84"/><circle cx="468.72" cy="363.25" r="1.15" fill="#00007f" fill-opacity="0.84"/><circle cx="459.39" cy="396.13" r="1.15" fill="#00007f" fill-opacity="0.85"/><circle cx="409.25" cy="332.92" r="1.15" fill="#00007f" fill-opacity="0.86"/><circle cx="425.96" cy="349.95" r="1.15" fill="#70ff86" fill-opacity="0.87"/><circle cx="452.14" cy="333.90" r="1.15" fill="#de0000" fill-opacity="0.87"/><circle cx="442.72" cy="367.04" r="1.15" fill="#f10700" fill-opacity="0.88"/><circle cx="468.96" cy="350.98" r="1.15" fill="#00007f" fill-opacity="0.88"/><circle cx="459.53" cy="384.19" r="1.15" fill="#00007f" fill-opacity="0.88"/><circle cx="425.76" cy="337.46" r="1.15" fill="#00007f" fill-opacity="0.91"/><circle cx="442.70" cy="354.70" r="1.15" fill="#f10700" fill-opacity="0.91"/><circle cx="469.21" cy="338.46" r="1.15" fill="#00007f" fill-opacity="0.92"/><circle cx="459.69" cy="372.00" r="1.15" fill="#00007f" fill-opacity="0.92"/><circle cx="442.68" cy="342.10" r="1.15" fill="#f10700" fill-opacity="0.95"/><circle cx="459.84" cy="359.56" r="1.15" fill="#00007f" fill-opacity="0.96"/><circle cx="460.00" cy="346.86" r="1.15" fill="#00007f" fill-opacity="1.00"/></g>
<defs><linearGradient id="jetg" x1="0" y1="0" x2="0" y2="1"><stop offset="0.0000" stop-color="#7f0000"/><stop offset="0.0625" stop-color="#c30000"/><stop offset="0.1250" stop-color="#ff1d00"/><stop offset="0.1875" stop-color="#ff5900"/><stop offset="0.2500" stop-color="#ff9400"/><stop offset="0.3125" stop-color="#ffcf00"/><stop offset="0.3750" stop-color="#e4ff12"/><stop offset="0.4375" stop-color="#b0ff46"/><stop offset="0.5000" stop-color="#7cff79"/><stop offset="0.5625" stop-color="#49ffad"/><stop offset="0.6250" stop-color="#15ffe1"/><stop offset="0.6875" stop-color="#00c0ff"/><stop offset="0.7500" stop-color="#0080ff"/><stop offset="0.8125" stop-color="#0040ff"/><stop offset="0.8750" stop-color="#0000ff"/><stop offset="0.9375" stop-color="#0000c8"/><stop offset="1.0000" stop-color="#00007f"/></linearGradient></defs>
<rect x="530.2" y="305.8" width="4.4" height="77" fill="url(#jetg)" stroke="#333" stroke-width="0.25"/>
<line x1="534.6" x2="535.6" y1="305.80" y2="305.80" stroke="#222" stroke-width="0.3"/>
<text class="dv" x="536.30" y="306.80" font-size="2.7" fill="#222">97</text>
<line x1="534.6" x2="535.6" y1="316.80" y2="316.80" stroke="#222" stroke-width="0.3"/>
<text class="dv" x="536.30" y="317.80" font-size="2.7" fill="#222">96</text>
<line x1="534.6" x2="535.6" y1="327.80" y2="327.80" stroke="#222" stroke-width="0.3"/>
<text class="dv" x="536.30" y="328.80" font-size="2.7" fill="#222">95</text>
<line x1="534.6" x2="535.6" y1="338.80" y2="338.80" stroke="#222" stroke-width="0.3"/>
<text class="dv" x="536.30" y="339.80" font-size="2.7" fill="#222">94</text>
<line x1="534.6" x2="535.6" y1="349.80" y2="349.80" stroke="#222" stroke-width="0.3"/>
<text class="dv" x="536.30" y="350.80" font-size="2.7" fill="#222">93</text>
<line x1="534.6" x2="535.6" y1="360.80" y2="360.80" stroke="#222" stroke-width="0.3"/>
<text class="dv" x="536.30" y="361.80" font-size="2.7" fill="#222">92</text>
<line x1="534.6" x2="535.6" y1="371.80" y2="371.80" stroke="#222" stroke-width="0.3"/>
<text class="dv" x="536.30" y="372.80" font-size="2.7" fill="#222">91</text>
<line x1="534.6" x2="535.6" y1="382.80" y2="382.80" stroke="#222" stroke-width="0.3"/>
<text class="dv" x="536.30" y="383.80" font-size="2.7" fill="#222">90</text>
<text class="ls" x="525.60" y="344.00" font-size="6.95" text-anchor="middle" transform="rotate(-90 525.60 344.00)">Accuracy (%)</text>
</svg>
</body></html>
